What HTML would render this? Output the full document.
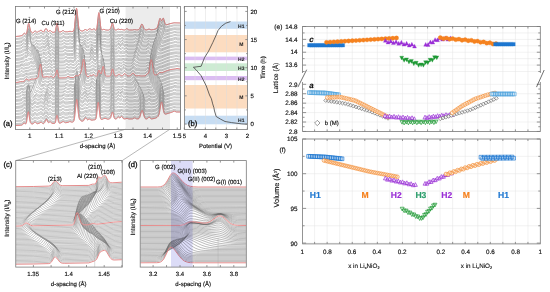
<!DOCTYPE html>
<html><head><meta charset="utf-8"><style>
html,body{margin:0;padding:0;background:#fff;width:550px;height:292px;overflow:hidden}
svg{display:block;filter:blur(0.35px)}
text{font-family:"Liberation Sans", sans-serif}
</style></head><body>
<svg width="550" height="292" viewBox="0 0 550 292" font-family='"Liberation Sans", sans-serif' text-rendering="geometricPrecision"><defs><clipPath id="ca"><rect x="15.5" y="6.5" width="165" height="123"/></clipPath><clipPath id="cc"><rect x="15.75" y="160.6" width="106.45" height="106.5"/></clipPath><clipPath id="cd"><rect x="140.2" y="160.6" width="106.1" height="106.5"/></clipPath></defs><rect width="550" height="292" fill="#fff"/><g clip-path="url(#ca)" stroke-width="0.45">
<path d="M15.5,36.5l3.5-.3 3-.6 .5-.3 1.5-2.1 .5,0 1,.9 .5,.1 .5-.8 .5-1.9 1-6.3 .5-1.9 .5,.5 1.5,6.9 1,1.6 1,.7 .5-.1 .5-.4 1-1.3 .5-.3 .5,.2 1,.9 .5,.2 .5-.1 1-.7 1-.3 1.5-1.1 .5,.3 1,1.4 .5,.3 .5,0 .5-.5 1.5-2.7 .5-.4 .5,.4 1.5,2.6 .5,.1 1.5-1.1 .5,.2 1.5,1.5 1,.2 1.5-.1 .5-.4 .5-1.2 1-5.9 .5-1.6 .5,1.5 1,5.8 .5,1.3 .5,.3 1.5-.1 1.5-1.2 .5-.2 .5,.2 1,.8 1,.3 2,0 2.5-.5 1.5,.3 1.5-.2 .5-.3 .5-1.2 .5-2.5 1.5-16.3 .5-2.9 .5,1.5 1.5,16 .5,2.7 .5,1.1 .5,.5 1,.8 1,.3 1-.1 2-1.5 .5,0 1.5,.9 .5-.1 1.5-1.3 .5-.2 1,.2 1.5,1.1 .5-.2 1-1.1 .5-.1 1.5,1.4 .5,.1 .5-.7 .5-2 1.5-13.7 .5-1.3 .5,2.9 1,10 .5,3 .5,1.3 .5,.3 1.5-.6 .5-.1 1.5,.6 1.5,.2 1.5,0 1-.4 1-1.3 .5-1.2 1-3.6 .5-.7 .5,1.1 1,4.3 .5,1.1 .5,.5 .5,.1 1-.1 1.5-.8 .5,0 1.5,.6 1.5-.3 2,.5 1,.1 1-.4 1-.8 .5-.1 1.5,1.1 1,.2 3,0 2-.4 2,.3 1.5,0 1-.4 .5-.6 2-4.6 .5-.3 .5,.6 1.5,3.8 1,1.3 1,.3 1-.1 2-.9 2,.9 2.5-.3 2.5-.7 1-1 1-2.5 1.5-6.1 .5-1 .5,.5 1,2.1 .5-.3 1-2.4 .5,.1 1.5,5.1 .5,1 .5,.4 1-.1 3-1 4-.9 6.5,.2V300H15.5z" fill="#fff" stroke="#858585"/>
<path d="M15.5,38.5l3-.2 3-.5 1-.6 1.5-1.9 .5,0 1,.8 .5,.1 .5-.8 .5-1.9 1-6.3 .5-1.9 .5,.5 1.5,6.8 1,1.6 1,.8 .5,0 .5-.4 1.5-1.7 .5,.1 1.5,1.1 .5-.1 1-.7 1-.2 1.5-1.1 .5,.2 1,1.4 .5,.4 .5-.1 .5-.4 1.5-2.3 .5-.4 .5,.2 1.5,2.5 .5,.1 1.5-1.2 .5,.1 1.5,1.5 .5,.2 2,0 .5-.4 .5-1.2 1-6 .5-1.6 .5,1.5 1,5.9 .5,1.2 .5,.4 1.5-.1 2-1.4 .5,.1 1.5,1 1,.3 2-.2 2-.6 1.5,.4 1.5-.1 .5-.4 .5-1.1 .5-2.6 1.5-16.5 .5-2.8 .5,1.6 1.5,16.1 .5,2.7 .5,1.3 .5,.5 1.5,.8 1.5-.1 2-1.2 .5,0 1.5,.8 .5-.1 1.5-1.3 1-.4 2,1.3 .5-.2 1-1 .5,0 1.5,1.4 .5,0 .5-.7 .5-2 1.5-13.7 .5-1.3 .5,2.9 1,10 .5,3 .5,1.3 .5,.3 1.5-.5 4,.6 1,0 1-.4 1-1.4 1.5-4.8 .5-.7 .5,1.2 1,4.3 .5,1.1 .5,.5 .5,.1 1-.1 2-.6 1.5,.5 1.5-.3 2,.4 1,.1 1-.4 1-.6 .5-.1 2,1 3.5,.1 2.5-.6 1.5,.5 1.5,0 1-.4 .5-.6 2-4.6 .5-.3 .5,.7 1.5,3.7 1,1.3 1,.3 1-.1 2-.6 2,.6 2.5-.3 2.5-.7 1-.9 1-2.5 1.5-6.3 .5-.9 .5,.5 1,2.1 .5-.4 1-2.3 .5,.2 1.5,5.1 .5,.9 .5,.4 .5,0 4-1.2 3.5-.7 6.5,.1V300H15.5z" fill="#fff" stroke="#858585"/>
<path d="M15.5,39.5l3-.2 3-.5 1-.6 1.5-1.8 .5,0 1,.8 .5,0 .5-.8 .5-1.9 1-6.3 .5-1.9 .5,.5 1.5,6.8 1,1.5 1,.9 .5,0 .5-.2 1.5-1.8 .5-.1 1.5,1 .5,0 1-.6 1-.1 .5-.3 1-.9 .5,.2 1.5,1.7 .5,0 .5-.4 2-2.3 .5,0 1.5,2.3 .5,.2 .5-.2 1-1 .5-.1 2,1.8 1,.1 1-.1 .5-.4 .5-1.2 1-6 .5-1.7 .5,1.5 1,6 .5,1.2 .5,.4 1.5,0 2-1.4 .5-.1 1.5,1.1 1,.2 2-.1 2-.7 1.5,.5 1.5-.1 .5-.4 .5-1.1 .5-2.7 1.5-16.7 .5-2.8 .5,1.6 1.5,16.3 .5,2.8 .5,1.4 .5,.6 1.5,.6 1.5-.1 2-1.1 .5,0 1.5,.7 .5,0 2-1.6 .5-.1 2,1.2 1.5-1 .5,.1 1.5,1.2 .5-.1 .5-.7 .5-2 1.5-13.7 .5-1.3 .5,2.9 1,10 .5,3 .5,1.3 .5,.3 2-.3 4,.4 1-.1 .5-.3 1-1.5 1.5-4.9 .5-.6 .5,1.2 1,4.4 .5,1.1 .5,.5 .5,.1 1,0 2-.5 1.5,.3 1.5-.4 2,.5 1,.1 2-.8 .5,0 2,.8 4-.1 2-.6 1.5,.5 1.5,.1 1-.5 .5-.6 1.5-3.7 .5-.9 .5-.1 .5,.7 1.5,3.8 1,1.1 1.5,.3 2.5-.5 2,.4 2.5-.3 2.5-.7 1-.9 1-2.5 1.5-6.6 .5-.7 .5,.7 .5,1.3 .5,.7 .5-.6 1-2.1 .5,.5 1.5,5.1 .5,.8 .5,.2 8-2 6.5,.2V300H15.5z" fill="#fff" stroke="#858585"/>
<path d="M15.5,41.5l3-.2 3-.5 1-.7 1-1.3 .5-.3 .5,.1 1,.7 .5,0 .5-.8 .5-2 1-6.3 .5-1.9 .5,.5 1.5,6.8 1,1.5 1,.9 .5,.1 .5-.2 1.5-1.8 .5-.3 1.5,1 .5,0 1-.5 1,0 .5-.2 1-.9 .5,0 1.5,1.6 .5,0 1-.6 1.5-1.7 .5-.2 .5,.4 1,1.6 .5,.4 .5-.1 1-1 .5-.2 .5,.2 1.5,1.5 1,.2 1-.1 .5-.4 .5-1.2 1-6 .5-1.7 .5,1.5 1,5.9 .5,1.3 .5,.4 1,.1 1-.3 1.5-1.1 .5-.2 .5,.2 1,.8 1,.3 2-.1 2-.9 2,.8 1-.2 .5-.4 .5-1.1 .5-2.7 1.5-17.1 .5-2.8 .5,1.8 1.5,16.4 .5,2.9 .5,1.4 .5,.6 1.5,.5 1.5,0 2-1.2 .5-.1 1.5,.9 .5,.1 .5-.3 1.5-1.4 .5-.1 2,1.2 1.5-.8 .5,.2 1,.8 .5,.2 .5-.2 .5-.7 .5-2 1.5-13.7 .5-1.3 .5,2.9 1,10 .5,3 .5,1.3 .5,.4 3-.4 3,.4 1-.1 .5-.3 1-1.5 1.5-5 .5-.6 .5,1.3 1,4.4 .5,1.1 .5,.5 .5,.1 1,0 2-.5 1.5,.3 1.5-.6 .5,0 2,.8 1-.1 1.5-.5 2.5,.6 3.5,0 1-.2 1.5-.7 2,.8 1,0 1-.6 .5-.8 1.5-3.7 .5-.7 .5,.2 2,4.5 1,1 1.5,.2 2.5-.5 2,.4 2.5-.3 2.5-.7 1-.9 1-2.8 1.5-6.6 .5-.4 1,2.2 .5,.3 1-1.9 .5-.4 .5,.9 1.5,4.9 .5,.6 .5,.1 4-1.2 4-.9 6.5,.2V300H15.5z" fill="#fff" stroke="#858585"/>
<path d="M15.5,42.5l3.5-.3 2.5-.5 .5-.3 1.5-1.7 .5-.1 1.5,.8 .5-.1 .5-.8 .5-2 1-6.4 .5-1.9 .5,.6 1.5,6.8 1,1.5 1,.9 .5,.1 .5-.2 2-2 .5,0 1,.7 .5,.1 1-.4 1,.1 .5-.2 1-.8 .5-.1 1.5,1.3 .5,.2 1.5-.8 1.5-1.7 .5,.2 1.5,2.1 .5,.1 1.5-1.3 .5,.1 1.5,1.5 1,.3 1-.1 .5-.4 .5-1.2 1-5.9 .5-1.7 .5,1.5 1,5.9 .5,1.2 .5,.4 2-.1 2-1.4 .5,.1 1,.7 1,.5 2-.1 2-1 2,.8 1-.1 .5-.4 .5-1.1 .5-2.8 1.5-17.4 .5-2.8 .5,1.9 1.5,16.6 .5,2.9 .5,1.4 .5,.6 1,.5 2,0 .5-.1 1.5-1.2 .5-.1 1.5,1.1 .5,.1 .5-.2 1.5-1.3 .5-.2 2,1.1 1.5-.5 1.5,.8 .5,.1 .5-.1 .5-.8 .5-2 1.5-13.7 .5-1.3 .5,2.9 1,10 .5,3 .5,1.3 .5,.4 3-.5 2.5,.5 1.5-.1 .5-.2 1-1.6 1.5-5.1 .5-.5 .5,1.3 1,4.4 .5,1.1 .5,.5 .5,.1 1,0 2-.6 1.5,.3 1.5-.7 .5-.1 1.5,.9 1,.2 2-.5 2.5,.5 4-.1 2-1 .5,.1 1.5,.8 1,0 1-.7 2-4.5 .5-.5 .5,.4 2,4.6 1,.7 2,.1 2-.4 2,.4 2.5-.3 2.5-.7 1-.9 .5-1.3 1.5-7.1 .5-1.4 .5,.1 1,2.2 .5,0 1-1.9 .5,.3 1.5,4.8 .5,.9 .5,.4 1-.1 3.5-1.2 4.5-1.1 2,.4 4,0V300H15.5z" fill="#fff" stroke="#858585"/>
<path d="M15.5,43.5l3-.2 2.5-.4 1-.6 1.5-1.6 .5,0 1.5,.8 .5-.2 .5-.9 .5-1.9 1-6.6 .5-2 .5,.5 1.5,7.3 1,1.5 1,.8 1,0 .5-.3 1.5-1.8 .5-.1 1.5,.8 1-.2 1,.1 .5-.1 1-.7 .5-.2 1.5,1 1,.2 1-.4 1.5-2 .5-.1 1.5,2.3 .5,.2 1.5-1.2 .5-.1 1.5,1.5 .5,.3 1.5,0 .5-.4 .5-1.2 1-5.8 .5-1.6 .5,1.4 1,5.8 .5,1.3 .5,.3 2-.1 2-1.4 .5,0 1.5,1.1 1,.2 1.5-.1 2-1 2,.8 1-.1 .5-.4 .5-1.1 .5-2.7 1.5-17.9 .5-2.8 .5,1.9 1.5,16.8 .5,3 .5,1.4 .5,.6 1.5,.6 1.5-.1 .5-.2 1.5-1.3 .5-.1 1.5,1.4 .5,.2 .5-.2 1.5-1.3 .5-.2 .5,.1 1.5,.9 1.5-.2 1.5,.6 1-.1 .5-.8 .5-2 1.5-13.7 .5-1.3 .5,2.9 1,10 .5,3 .5,1.3 .5,.4 3-.6 2.5,.6 1.5-.1 .5-.2 .5-.5 .5-.9 1.5-5.4 .5-.5 .5,1.3 1,4.5 .5,1.1 .5,.5 .5,.1 1-.1 2-.7 1.5,.5 .5-.2 1-.8 .5-.2 1.5,1.2 1,.3 2-.4 2.5,.4 4,0 1-.4 1-.7 .5-.1 1.5,1 1,0 1-1 2-4.4 .5-.1 .5,.6 1.5,3.7 1,1.1 1,.3 1,0 2.5-.7 2,.6 2.5-.3 2.5-.7 .5-.4 .5-.8 .5-1.5 1.5-7.4 .5-.9 1.5,2.5 .5-.4 .5-.9 .5-.2 .5,.9 1.5,4.6 .5,.6 .5,.1 9-2.6 2.5,.5 3.5,0V300H15.5z" fill="#fff" stroke="#858585"/>
<path d="M15.5,45.5l3-.2 2.5-.4 1-.7 1-1.2 .5-.3 2,.8 .5-.2 .5-.9 .5-2 1-6.9 .5-2.1 .5,.5 1.5,7.8 .5,1.1 .5,.6 1,.7 1-.1 .5-.2 1.5-1.8 .5-.2 1.5,.8 2,.1 .5-.1 1.5-.9 .5,0 1.5,1 1,0 .5-.2 .5-.6 1-1.7 .5-.3 .5,.5 1,1.9 .5,.4 .5-.1 1-1 .5-.2 2,1.7 1.5,.1 .5-.3 .5-1.2 1-5.7 .5-1.6 .5,1.4 1,5.7 .5,1.2 .5,.3 1.5,.1 1-.3 1.5-1.2 .5-.1 1.5,1 1,.3 1.5-.1 2-1.1 2,.9 1-.1 .5-.4 .5-1.1 .5-2.7 1.5-18.1 .5-3 .5,2 1,11.9 .5,5 .5,2.9 .5,1.5 .5,.7 .5,.3 1,.3 1.5-.1 .5-.3 1.5-1.6 .5,.1 1.5,1.7 .5,.2 1-.4 1.5-1.2 .5,0 1.5,.9 1.5,0 1.5,.5 1-.2 .5-.8 .5-2 1.5-13.7 .5-1.3 .5,2.9 1,10 .5,2.9 .5,1.4 .5,.3 3-.6 2,.7 1.5,0 1-.2 .5-.4 .5-1 1.5-5.5 .5-.5 .5,1.3 1,4.5 .5,1.1 .5,.5 .5,.1 1-.1 2-1 1.5,.7 .5-.1 1.5-1.3 .5,.2 1,1.1 1,.4 2-.2 2.5,.3 4,0 1-.4 1-.8 .5-.1 1.5,1 .5,.1 .5-.2 .5-.4 .5-.8 1.5-3.6 .5-.5 .5,.3 2,4.4 1,.8 2,.2 2-.9 .5,0 2,.8 2.5-.3 2-.5 1-.8 .5-1.1 .5-1.9 1-5.5 .5-1.8 .5-.2 1,2.2 .5,.2 1-1.1 .5,.5 1.5,4.7 .5,.7 .5,.2 5-1.5 3-.7 1.5-.6 2.5,.6 3.5,0V300H15.5z" fill="#fff" stroke="#858585"/>
<path d="M15.5,46.5l3-.2 2.5-.4 1-.8 1-1.1 .5-.2 1.5,.6 .5,.1 .5-.2 .5-.9 .5-2 1.5-9.4 .5,.3 1.5,8.1 .5,1.4 .5,.7 1,.6 1,0 .5-.2 2-2.1 .5,0 1,.7 2,.4 .5-.1 1.5-.9 .5-.1 1.5,.8 1,.2 .5-.2 .5-.6 1-1.8 .5-.5 .5,.3 1,2 .5,.6 .5,.1 1.5-1.3 .5,.1 1.5,1.5 .5,.2 1,0 .5-.3 .5-1.2 1-5.5 .5-1.6 .5,1.5 1,5.4 .5,1.2 .5,.3 1.5,.1 1-.2 2-1.4 .5,.1 1,.7 1,.5 1.5-.1 2-1 2,.8 1-.1 .5-.3 .5-1.2 .5-2.6 1.5-18.3 .5-3.2 .5,1.9 1,11.9 .5,5 .5,3 .5,1.5 .5,.8 .5,.4 1,.3 1,0 .5-.2 2-2.1 .5,.3 1.5,2 .5,.1 1-.3 1.5-1.3 .5,0 1.5,1 3,.4 1-.2 .5-.8 .5-2 1.5-13.7 .5-1.3 .5,2.9 1,10 .5,2.9 .5,1.3 .5,.3 3-.6 2,.8 2.5-.1 .5-.4 .5-.9 1.5-5.6 .5-.6 .5,1.3 1,4.5 .5,1.1 .5,.5 .5,.1 1.5-.3 1.5-1.1 1.5,.9 .5-.1 1.5-1.5 .5,.2 1,1.3 1,.5 2-.2 2,.3 4.5,0 1-.3 1.5-1 .5,.1 1,.8 .5,.1 .5-.3 .5-.6 1.5-3.4 .5-.9 .5-.1 .5,.7 1.5,3.5 1,1.1 1,.3 1.5-.1 2-1.1 .5,.1 1,.7 1,.3 3-.4 1.5-.4 .5-.4 .5-.8 .5-1.5 1.5-7.9 .5-1 .5,.5 .5,1.3 .5,.7 1-.6 .5,.3 1.5,4.5 .5,.8 .5,.4 1-.2 4-1.3 3.5-.9 1.5-.7 .5,0 2,.7 3.5,0V300H15.5z" fill="#fff" stroke="#858585"/>
<path d="M15.5,48.5l3-.2 2.5-.5 .5-.3 1.5-1.5 .5-.1 2,.5 .5-.2 .5-.8 .5-1.9 1.5-9.5 .5-.1 1.5,7.9 .5,1.7 .5,.9 1,.7 1.5-.2 2-2.1 .5-.1 1.5,1 1.5,.3 1-.2 1.5-.9 .5,0 1.5,.9 .5,0 .5-.2 .5-.6 1.5-2.5 .5,.1 1.5,2.9 .5,.2 1.5-1.3 .5,0 1.5,1.5 .5,.3 1,0 .5-.3 .5-1.1 1-5.4 .5-1.5 .5,1.4 1,5.3 .5,1.1 .5,.3 2.5-.1 2-1.4 .5,0 1.5,1.1 1,.2 1.5-.2 1.5-.9 .5,.1 1.5,.7 1-.1 .5-.3 .5-1.1 .5-2.7 1.5-18.5 .5-3.4 .5,1.7 1.5,17 .5,3.1 .5,1.7 .5,.9 .5,.4 1,.3 1,0 .5-.3 1.5-2 .5-.2 .5,.5 1,1.6 .5,.5 .5,.2 1-.3 1.5-1.3 .5-.1 2,1 2.5,.4 1-.2 .5-.8 .5-2 1.5-13.7 .5-1.3 .5,2.9 1,9.9 .5,3 .5,1.2 .5,.3 2.5-.5 2.5,.8 2,0 1-.4 .5-.8 .5-1.4 1-4.3 .5-.7 .5,1.3 1,4.5 .5,1.1 .5,.5 .5,.1 1-.1 .5-.3 1.5-1.3 .5,.2 1,.9 .5,0 1.5-1.7 .5,0 1,1.5 .5,.5 .5,.2 2-.3 2,.4 4.5,0 1-.2 1.5-1.1 .5,.1 1,.6 .5,.1 .5-.4 .5-.8 1.5-3.4 .5-.4 .5,.3 2,4.3 1,.7 2.5,.1 .5-.2 1.5-1.2 .5,.1 1,.9 1,.4 3-.4 1.5-.5 .5-.6 .5-1.2 1.5-7.9 .5-1.9 .5-.1 1,2.2 .5,.3 .5-.1 .5,.2 1.5,4.3 .5,.9 .5,.4 1-.1 4-1.4 4-1 2-.8 2,.7 3.5,.1V300H15.5z" fill="#fff" stroke="#858585"/>
<path d="M15.5,49.5l5-.5 1-.5 1.5-1.4 3,0 .5-.7 .5-1.7 1.5-9.1 .5-.4 .5,1.5 1.5,7 .5,1.3 .5,.8 .5,.3 1,0 1-.4 1.5-1.8 .5-.2 2,1.2 1,.3 1-.2 1.5-1 .5-.1 1.5,.8 .5,0 1-.7 1.5-2.6 .5-.1 1.5,3.1 .5,.3 .5-.2 1-1 .5-.1 2,1.7 1,.1 .5-.3 .5-1.1 1-5.2 .5-1.5 .5,1.4 1,5.2 .5,1 .5,.4 2.5-.1 1-.6 1-.8 .5-.2 1.5,1.1 1,.3 1.5-.2 1.5-.7 .5,0 1.5,.6 1-.1 .5-.3 .5-1.1 .5-2.6 1.5-18.9 .5-3.7 .5,1.5 1.5,17.2 .5,3.3 .5,1.9 .5,.9 .5,.5 1,.3 1-.1 .5-.4 1.5-2.1 .5,0 1.5,2.4 .5,.5 .5,.1 1-.2 2-1.6 2,1 1.5,.4 1,.1 1-.2 .5-.8 .5-2 1.5-13.7 .5-1.3 .5,2.9 1,9.9 .5,2.9 .5,1.2 .5,.2 2.5-.4 1.5,.7 1,.2 2,0 1-.3 .5-.7 .5-1.4 1-4.3 .5-.8 .5,1.2 1,4.5 .5,1.1 .5,.5 .5,.1 1-.1 .5-.3 1.5-1.7 .5,.3 1,1.1 .5,.1 .5-.4 1-1.4 .5-.1 1.5,2.1 .5,.2 2-.4 2,.6 4.5,0 1-.2 1.5-.9 .5-.1 1,.5 .5-.1 .5-.6 1.5-3.3 .5-.7 .5,.1 2,4.2 1,.9 1.5,.2 1.5-.1 .5-.3 1.5-1.4 .5,.1 1.5,1.5 1,.1 2.5-.4 1-.3 .5-.5 .5-.9 .5-1.7 1.5-8.5 .5-.9 1.5,2.9 1,.6 1.5,4.1 .5,1 .5,.4 1-.1 4.5-1.6 4-.9 2-1 2,.8 3.5,.1V300H15.5z" fill="#fff" stroke="#858585"/>
<path d="M15.5,51.5l5-.5 1-.5 1.5-1.2 2-.4 1,.1 .5-.6 .5-1.5 1.5-8.1 .5-.6 .5,.9 2.5,8.1 .5,.7 .5,.2 1-.1 .5-.2 2-2.1 .5,.1 1.5,1.1 1,.3 1-.1 2-1.2 2,.7 1-.7 1.5-2.5 .5-.2 .5,.7 1,2.3 .5,.5 .5,0 1.5-1.3 .5,.1 1.5,1.5 1,.2 .5-.3 .5-1 1-5.2 .5-1.4 .5,1.3 1,5.1 .5,1.1 .5,.3 2-.1 1-.2 2-1.4 .5,.2 1,.7 1,.5 1.5-.1 1.5-.7 2,.5 1-.1 .5-.3 .5-1.1 .5-2.6 1.5-19 .5-4 .5,1 1.5,17.3 .5,3.7 .5,2 .5,1.1 1,.7 1,0 .5-.1 1.5-2.1 .5-.5 .5,.3 1.5,2.5 .5,.4 .5,.1 1-.1 2-1.7 .5-.1 3,1.5 1,.1 1-.2 .5-.8 .5-2 1.5-13.7 .5-1.3 .5,2.9 1,9.9 .5,2.9 .5,1.1 .5,.1 1-.3 1.5,.2 2,.8 3,0 .5-.3 .5-.6 .5-1.3 1-4.4 .5-.8 .5,1.2 1,4.4 .5,1.1 .5,.5 .5,.1 1-.1 .5-.4 1.5-1.8 .5,.2 1,1.3 .5,.2 .5-.3 1-1.5 .5-.1 1.5,2 .5,.3 2-.6 2,.7 5.5,0 1.5-.8 .5-.2 1,.1 .5-.3 2-3.8 .5-.2 .5,.6 1.5,3.4 .5,.6 1,.6 2,.1 1-.2 2-1.9 .5,.3 1,1.2 .5,.4 1,.1 2.5-.4 1-.5 .5-.8 .5-1.4 1.5-8.7 .5-1.6 .5,.1 1,2.4 1,1.4 1.5,4.1 .5,1 .5,.4 1-.1 5-1.8 4-.9 2-1 2,.8 3.5,.1V300H15.5z" fill="#fff" stroke="#858585"/>
<path d="M15.5,52.5l5-.5 1-.5 1-.7 2-.9 .5-.2 1,.1 .5-.4 .5-1.3 1.5-7.1 .5-.3 2,2.6 1.5,4.7 .5,.8 .5,.2 1-.2 .5-.3 1.5-1.8 .5,0 1.5,1.2 1,.3 1.5-.2 1.5-1.1 .5-.1 1.5,.6 .5-.2 1-.9 1-1.8 .5-.4 .5,.5 1,2.4 .5,.6 .5,.1 1.5-1.3 .5,0 1.5,1.5 1,.3 .5-.3 .5-1 1-5.1 .5-1.5 .5,1.4 1,5.1 .5,1 .5,.3 3-.2 2-1.4 .5,0 2,1.2 1.5,0 1.5-.5 2,.3 1-.1 .5-.3 .5-1.1 .5-2.5 2-23.1 .5,.5 2,20.9 .5,2.4 .5,1.2 .5,.4 .5,.2 1,.1 .5-.3 1.5-2.2 .5-.2 .5,.5 1,1.9 .5,.7 .5,.3 1,0 1-.3 1.5-1.6 .5-.2 .5,.1 2.5,1.6 1,.1 1-.2 .5-.8 .5-2 1.5-13.7 .5-1.3 .5,2.9 1,9.9 .5,2.8 .5,1 1.5-.1 3.5,1.1 3,0 .5-.2 .5-.6 .5-1.3 1-4.3 .5-.9 .5,1.1 1,4.4 .5,1.1 .5,.5 .5,.1 1-.1 .5-.4 1.5-2 .5,.3 1,1.4 .5,.3 .5-.3 1-1.4 .5-.3 1.5,1.9 .5,.3 2-.7 2,.9 5.5,0 3-1.2 .5-.6 1.5-3 .5-.3 .5,.4 2,4 1,.7 2.5,.1 1-.2 .5-.4 1-1.4 .5-.3 2,2.1 1,.1 2-.3 1-.4 .5-.6 .5-1.3 1.5-8.5 .5-2.3 .5-.5 2,4.5 1.5,4.3 .5,.9 .5,.4 1,0 6-2.2 4-1 1.5-.7 .5,0 2,.8 3,0V300H15.5z" fill="#fff" stroke="#858585"/>
<path d="M15.5,53.5l5-.5 3-1.4 1.5-1.2 1,.2 .5-.2 .5-1.1 1-4.6 .5-1.5 .5,.1 .5,.9 .5,.4 1-1.4 .5,.3 1.5,5.2 .5,.9 .5,.3 1-.3 1.5-1.8 .5-.2 .5,.2 1,.9 1,.5 1.5-.2 2-1.3 1.5,.4 .5,0 1-.6 1.5-2.3 .5,.3 1.5,3 .5,.3 .5-.3 1-1 .5-.1 1.5,1.4 1,.4 .5-.3 .5-1 1-5.1 .5-1.5 .5,1.4 1,5 .5,1.1 .5,.3 3-.2 1-.5 1-.9 .5-.1 1.5,1.1 1,.3 1-.1 1.5-.4 2,.2 1-.1 .5-.3 .5-1 .5-2.3 2-22.6 .5-.3 2,20.2 .5,2.7 .5,1.3 .5,.6 .5,.2 1,0 .5-.3 1.5-2.1 .5,0 1.5,2.6 1,.7 1,0 1-.2 2-2.2 .5-.1 .5,.2 2,1.8 1,.2 1-.2 .5-.8 .5-2 1.5-13.7 .5-1.3 .5,2.9 1,9.8 .5,2.8 .5,.9 1.5,.1 3.5,1.2 3-.1 .5-.2 .5-.5 .5-1.3 1-4.4 .5-.9 .5,1.1 1,4.4 .5,1.1 .5,.5 .5,.1 1-.1 .5-.4 1.5-2 .5,.2 1,1.5 .5,.3 .5-.1 1-1.4 .5-.3 .5,.3 1,1.4 .5,.2 .5-.1 1-.7 .5,0 2,1.1 6,0 1.5-.8 1-.9 1.5-2.8 .5-.4 .5,.2 2,3.9 1,.7 2.5,.2 1.5-.2 1.5-1.9 .5-.2 1.5,1.8 .5,.3 1,.1 2-.3 1-.7 .5-1.1 .5-2.1 1.5-8.9 .5-1 .5,.4 .5,1.2 2.5,7.8 .5,.8 .5,.4 1-.1 6.5-2.4 4-.9 1.5-.8 .5,0 2,.8 3,0V300H15.5z" fill="#fff" stroke="#858585"/>
<path d="M15.5,55.5l5-.5 3-1.2 1.5-1.5 .5-.1 .5,.3 .5-.1 .5-.9 1-3.9 .5-1.3 .5,.3 1,1.9 .5-.6 1-3.4 .5-.1 1.5,5.9 .5,1.1 .5,.3 .5-.1 .5-.4 1.5-1.7 .5,.1 1.5,1.3 1,.2 1.5-.3 1.5-1.3 .5,0 1,.4 1,0 .5-.2 .5-.6 1-1.6 .5,.1 1.5,2.8 .5,.4 .5-.2 1-1 .5-.3 .5,.2 1.5,1.5 .5,.1 .5-.2 .5-1 1-5.2 .5-1.5 .5,1.4 1,5.1 .5,1.1 .5,.3 3-.1 1-.5 1.5-1.1 .5,.2 1.5,1 .5,.1 3-.3 1.5,.2 1-.1 .5-.4 .5-.9 .5-2.2 2-21.2 .5-1 .5,2.9 1.5,15.2 .5,3.1 .5,1.7 .5,.8 .5,.2 1,0 .5-.4 1-1.5 .5-.3 .5,.3 1.5,2.5 1,.5 1,.1 1-.3 1-1 1-1.5 .5-.3 .5,.1 1.5,2 1,.6 1,0 .5-.2 .5-.8 .5-2 .5-3.8 1-9.9 .5-1.3 .5,2.9 1,9.8 .5,2.7 .5,.9 1,0 1.5,.7 2,.6 3.5,0 .5-.2 .5-.5 .5-1.3 1-4.4 .5-.9 .5,1.1 1,4.4 .5,1.1 .5,.5 .5,.1 1-.1 .5-.3 1.5-2 .5,.2 1,1.4 .5,.4 .5-.1 1.5-1.5 .5,.2 1,1.2 .5,.2 .5-.2 1-.7 .5,0 1.5,1.1 .5,.1 6,0 1-.5 .5-.4 2-3.4 .5-.5 .5,.1 2,3.8 1,.8 1.5,.2 2.5-.1 1-.6 1-1.4 .5-.2 1.5,1.9 .5,.3 1,0 1.5-.2 1-.6 .5-1 .5-1.8 1.5-9.3 .5-1.3 .5,.2 1,2.6 2,6.9 .5,.9 .5,.3 1-.1 6.5-2.5 4.5-1 1.5-.6 .5-.1 2,.7 3,0V300H15.5z" fill="#fff" stroke="#858585"/>
<path d="M15.5,56.5l5-.5 3-1.1 1.5-1.7 .5-.1 1,.3 .5-.7 1-3.3 .5-1 .5,.2 1,2.3 .5-.1 1.5-6.1 .5-.4 .5,1.5 1,4.9 .5,1.3 .5,.5 .5-.2 1.5-1.8 .5-.1 1.5,1.2 1,.3 1.5-.1 1.5-1.4 .5-.1 1.5,.6 1,0 .5-.5 1-1.5 .5-.2 .5,.6 1,1.9 .5,.5 .5,0 1.5-1.3 .5,0 1.5,1.5 .5,.2 .5-.2 .5-1.1 1-5.3 .5-1.4 .5,1.3 1,5.3 .5,1 .5,.3 3.5-.1 2-1.5 .5,.1 1.5,1 .5,.2 3-.2 2.5,0 .5-.3 .5-.9 .5-2 2-19.3 .5-1.4 .5,1.8 1.5,12.9 1,5.6 .5,1.1 .5,.5 .5,.1 .5-.1 1.5-1.7 .5-.1 2,2.7 1,.4 1.5,0 1-.4 2-3.2 .5,.1 1.5,2.5 .5,.5 .5,.2 1,0 .5-.2 .5-.8 .5-2 .5-3.9 1-10 .5-1.3 .5,2.8 1,9.9 .5,2.7 .5,.9 1,.2 1.5,.9 1.5,.4 4,0 .5-.2 .5-.5 .5-1.3 1-4.4 .5-1 .5,1.1 1,4.5 .5,1.1 .5,.5 .5,.1 1-.1 .5-.3 1.5-1.8 .5,.1 1.5,1.7 .5,0 1.5-1.2 .5,.1 1,.9 .5,.1 1.5-1 .5,.1 1,.9 1,.4 6,0 1-.6 .5-.7 1.5-2.8 .5-.5 .5,0 .5,.6 1.5,3 1,.9 1.5,.2 3-.1 1-.6 1-1.3 .5-.1 1.5,1.7 .5,.3 2-.1 1-.5 .5-.9 .5-1.6 1.5-9.6 .5-1.7 .5,.1 .5,1.3 2.5,8.6 .5,1 .5,.3 1-.1 7-2.7 4.5-1 1.5-.5 .5-.1 2,.6 3,0V300H15.5z" fill="#fff" stroke="#858585"/>
<path d="M15.5,58.5l5-.5 3-1 1.5-1.8 .5-.2 1,.4 .5-.5 1.5-3.5 .5,.2 1,2 .5,.3 .5-.7 1.5-7 .5-1 .5,1.4 1,5.3 .5,1.7 .5,.5 .5-.3 1-1.2 .5-.4 .5,.2 1.5,1.3 1.5,.2 .5-.1 .5-.3 1-1.2 .5-.2 2.5,1 .5-.3 1-1.5 .5-.3 .5,.3 1.5,2.3 .5,.2 1.5-1.3 .5-.1 1.5,1.4 .5,.2 .5-.2 .5-1 1-5.4 .5-1.6 .5,1.4 1,5.4 .5,1.1 .5,.3 3.5-.1 .5-.2 1.5-1.2 .5-.1 1.5,1.1 1,.2 2.5-.2 2.5,0 .5-.3 .5-.8 .5-1.7 2-17.1 .5-1.4 .5,.9 .5,2.5 1.5,10.1 1,4.4 .5,.9 .5,.4 .5-.1 1.5-1.4 .5,0 1.5,2.2 .5,.5 1,.3 1.5-.1 1-.4 .5-.5 1.5-3.1 .5-.1 1.5,3 .5,.6 .5,.2 1,0 .5-.2 .5-.8 .5-2.1 .5-3.9 1-10.3 .5-1.5 .5,2.9 1,10.2 .5,2.8 .5,.9 2.5,1.3 1.5,.3 4,0 .5-.2 .5-.5 .5-1.3 1-4.6 .5-.9 .5,1.1 1,4.5 .5,1.2 .5,.5 .5,.1 1-.1 .5-.2 1.5-1.6 .5,.1 1.5,1.5 .5,0 1.5-.9 .5,0 1,.6 .5,.1 1.5-1 .5,0 1,1 1,.4 5.5,0 1-.4 .5-.5 1.5-3 .5-.6 .5-.1 .5,.6 1.5,2.9 .5,.6 1,.5 4.5,0 1-.6 1-1.1 .5,0 1.5,1.5 .5,.2 2-.2 .5-.3 .5-.7 .5-1.5 1.5-9.8 .5-2.1 .5-.1 2.5,8.8 1,2.4 .5,.5 1,0 8-3 5.5-1.3 1,0 1.5,.4 3,0V300H15.5z" fill="#fff" stroke="#858585"/>
<path d="M15.5,59.5l4.5-.4 3.5-1.1 1.5-1.7 .5-.3 1,.5 .5-.3 1.5-2.8 .5,.1 1,1.5 .5,.3 .5-.2 .5-.7 .5-1.7 1-5.7 .5-1.6 .5,.9 1,5.7 .5,1.9 .5,.6 .5-.3 1-1.1 .5-.1 1.5,1.4 1.5,.4 .5,0 .5-.3 1-1.3 .5-.2 2.5,1.4 .5-.2 1.5-1.9 .5,.1 1.5,2.1 .5,.3 .5-.2 1-1 .5-.3 .5,.3 1.5,1.3 .5-.1 .5-1.1 1-5.5 .5-1.6 .5,1.4 1,5.5 .5,1.2 .5,.3 3.5-.1 1-.4 1-.9 .5-.2 .5,.2 1,.8 1,.3 2.5-.3 2.5,.1 .5-.3 .5-.6 .5-1.6 2-14.7 .5-1.2 .5,.7 1,3 2,9.6 .5,1.6 .5,.9 .5,.2 1.5-1.1 .5,.3 1,1.4 1,.9 1,.3 2-.2 .5-.2 .5-.5 1.5-3.6 .5-.1 1.5,3.4 .5,.6 .5,.2 1,0 .5-.2 .5-.8 .5-2.1 1.5-14.8 .5-1.6 .5,2.8 1,10.5 .5,3 .5,1.2 2,1.3 1.5,.3 4,0 1-.2 .5-.5 .5-1.4 1-4.6 .5-1 .5,1.2 1,4.6 .5,1.2 .5,.5 .5,.1 1.5-.3 1.5-1.3 .5,.1 1,.9 1,.4 1.5-.7 .5,0 1.5,.4 1.5-1 .5,.1 1,.9 1,.5 5.5-.1 1-.7 2-3.7 .5-.2 .5,.5 1.5,2.9 .5,.6 1,.6 5,0 .5-.2 1.5-1.3 .5,.1 1.5,1.3 1,.2 1-.2 .5-.2 .5-.7 .5-1.4 1.5-9.8 .5-2.5 .5-.4 .5,1.6 1.5,6.8 .5,1.3 1,1.7 1,.8 1-.1 6-2.4 4-1.1 4-.7 2,.3 3,0V300H15.5z" fill="#fff" stroke="#858585"/>
<path d="M15.5,60.5l4-.3 2.5-.9 1.5-.2 .5-.4 1-1.3 .5-.2 1,.4 .5-.2 1.5-2.1 .5,.1 1,.9 .5,.1 1-.3 .5-.4 .5-1.5 1.5-8.3 .5,.3 1.5,7.9 .5,.7 1-.9 .5-.2 1.5,1.5 2,.6 .5-.3 1-1.3 .5-.2 .5,.1 2,1.5 .5-.1 1.5-1.8 .5-.2 .5,.3 1,1.5 .5,.4 .5,0 1.5-1.3 .5,0 1.5,1.4 .5-.1 .5-1 1-5.7 .5-1.7 .5,1.4 1,5.7 .5,1.2 .5,.4 2.5,0 1.5-.2 2-1.4 .5,.1 1.5,1 .5,.2 2.5-.3 2.5,.1 .5-.2 .5-.6 .5-1.4 2-12.4 .5-.8 1,1.6 .5,.3 .5,.1 .5,.8 1.5,7.4 .5,1.6 .5,.7 1.5-.3 .5,.3 1,1.3 1,.8 1,.1 2,0 .5-.2 .5-.6 1.5-3.8 .5-.2 1.5,3.7 .5,.6 .5,.2 1,0 .5-.2 .5-.8 .5-2 1.5-15 .5-2 .5,2.6 1,10.6 .5,3.3 .5,1.4 .5,.6 1.5,.9 1,.2 4.5,0 1-.2 .5-.5 .5-1.4 1-4.8 .5-1 .5,1.2 1,4.8 .5,1.2 .5,.5 .5,.1 1.5-.2 1.5-1 .5,0 1,.7 1,.4 2-.6 1.5,.2 1.5-.9 .5,.1 1,.9 1,.4 5-.1 1-.6 2-3.6 .5-.4 .5,.4 2,3.6 1,.6 5.5,0 2-1.2 .5,.1 1.5,1 1.5,.1 .5-.2 .5-.6 .5-1.2 .5-2.4 1.5-10.4 .5-.7 .5,1.5 1.5,8.1 .5,1.4 .5,.6 1.5,.9 .5,.2 1-.2 6.5-2.6 4-1 3.5-.5 5,.2V300H15.5z" fill="#fff" stroke="#858585"/>
<path d="M15.5,62.5l4-.4 2.5-.9 1.5-.1 2-1.7 1.5,.3 1.5-1.5 .5,0 1,.3 1-.3 1,.2 .5-.3 .5-1.3 1.5-9.1 .5-.4 1.5,7.6 .5,.8 1-.3 1.5,1.5 1.5,.8 .5,0 .5-.2 1-1.2 .5-.2 1,.4 1.5,1.3 .5,0 2-2.1 .5,.1 1.5,1.8 .5,.2 1.5-1.4 .5,0 1.5,1.3 .5,0 .5-1.1 1-5.8 .5-1.7 .5,1.4 1,5.8 .5,1.3 .5,.4 4-.1 2-1.4 .5-.1 2,1.2 1,0 1.5-.4 2.5,.3 .5-.2 .5-.5 .5-1.1 2-10.4 .5-.5 1,1.8 .5-.3 1-2.5 .5,.5 1.5,7.9 .5,1.5 .5,.6 1,.1 1.5,1.6 1,.7 1,.1 2,0 .5-.2 .5-.5 1.5-3.8 .5-.3 1.5,3.7 .5,.6 .5,.2 1,0 .5-.2 .5-.7 .5-2 1.5-14.5 .5-2.3 .5,2 1.5,13.5 .5,1.9 .5,.8 1,.8 1,.2 2.5,.2 2.5-.1 1-.2 .5-.5 .5-1.5 1-4.9 .5-1.1 .5,1.3 1,4.9 .5,1.3 .5,.5 .5,.1 1.5-.1 1.5-.8 .5,0 1.5,.8 .5,0 2-.5 1.5,.2 1.5-.9 .5,.2 1,.8 1,.3 4.5-.1 1-.5 .5-.5 1.5-2.9 .5-.6 .5,.1 2,3.7 1,.7 1.5,.1 4.5-.1 2-.9 2,.9 1,0 .5-.1 .5-.5 .5-1.1 .5-2.2 1.5-10.8 .5-1.2 .5,1.4 1.5,9.1 .5,1.6 .5,.7 1-.1 2,.3 7-2.7 4-1 3.5-.5 5,.2V300H15.5z" fill="#fff" stroke="#858585"/>
<path d="M15.5,63.5l4-.4 2.5-1.1 1.5,.1 .5-.2 1.5-1.3 1.5,.3 1.5-.9 1.5-.3 1-.6 .5,.1 1,.5 .5-.3 .5-1.2 .5-2.5 1-6.8 .5-1.1 .5,1.5 1,5.2 .5,1 1,.9 1,1.3 1.5,1 .5,0 1.5-1.2 .5-.2 .5,0 2,1.6 .5,0 .5-.2 1.5-1.8 .5-.1 1.5,1.7 .5,.3 .5-.2 1-1.1 .5-.2 .5,.3 1,1 .5,0 .5-1 1-5.9 .5-1.7 .5,1.4 1,5.9 .5,1.3 .5,.4 4-.1 .5-.2 1.5-1.1 .5-.2 .5,.2 1,.8 1,.3 2-.6 2,.4 1-.1 .5-.4 .5-1 2-8.5 .5-.4 1,2 .5-.2 1.5-6 .5,.6 1.5,8.6 .5,1.4 2.5,2.5 .5,.4 1,.4 2,0 1-.2 .5-.4 .5-1 1-2.7 .5-.3 1.5,3.4 .5,.7 .5,.2 1,0 .5-.2 .5-.7 .5-1.7 1.5-13.4 .5-2.5 .5,1.1 1.5,12.2 .5,2.3 .5,1.3 .5,.6 .5,.3 1.5,.3 4.5,0 1-.2 .5-.5 .5-1.5 1-5.1 .5-1.1 .5,1.3 1,5 .5,1.4 .5,.5 .5,.1 1.5-.1 1.5-.6 2.5,.6 2-.4 1.5,.1 1.5-.7 2,1 4.5,0 1-.4 .5-.5 1.5-2.7 .5-.6 .5-.2 .5,.5 1.5,3 1,.8 1,.2 5,0 1-.2 1.5-.5 2,.6 1-.1 .5-.3 .5-1 .5-2 1.5-11.1 .5-1.6 .5,1.1 1.5,9.8 .5,1.9 .5,.8 .5,.1 1-.6 2,.1 6.5-2.5 4-1.1 4-.6 5,.2V300H15.5z" fill="#fff" stroke="#858585"/>
<path d="M15.5,65.5l4-.4 2.5-1.4 1.5,.5 .5-.2 1.5-1.1 1.5,.2 2.5-.8 1.5-1.2 .5,0 1,.7 .5,.2 .5-.4 .5-1.1 .5-2.3 1-6.9 .5-1.8 .5,.7 1,4.8 1,2.8 1,1.7 1.5,1.2 .5,0 1.5-1 1-.3 .5,.2 1.5,1.3 .5,.1 .5-.2 1.5-1.7 .5-.3 .5,.2 1,1.3 .5,.4 .5,0 1.5-1.4 .5,.1 1,1 .5,.1 .5-1 1-5.8 .5-1.8 .5,1.4 1,5.9 .5,1.4 .5,.4 4-.1 1-.4 1.5-1.1 .5,.1 1,.7 1,.4 2-.6 2,.5 1-.1 .5-.3 .5-.7 2-6.8 .5-.4 1,1.7 .5,.2 .5-1.5 1-6.2 .5-1.5 .5,1 1.5,9.1 .5,1.4 2,2.5 .5,.5 1,.4 2,0 1-.2 .5-.4 .5-.8 1-2.5 .5-.3 .5,.7 1,2.3 .5,.6 .5,.3 1,0 .5-.2 .5-.6 .5-1.5 1.5-11.8 .5-2.5 .5,.4 1.5,9.6 1,4.4 .5,1 .5,.4 2,.5 4.5-.1 .5-.2 .5-.5 .5-1.4 1-5.2 .5-1.3 .5,1.3 1,5.1 .5,1.4 .5,.5 .5,.2 1.5-.1 2-.4 2,.4 2-.5 1.5,.2 1.5-.5 2,.8 4.5-.1 1-.6 2-3.2 .5-.3 .5,.3 .5,.6 1.5,2.7 1,.6 6,.1 2.5-.5 1.5,.4 1,0 .5-.3 .5-.8 .5-1.8 1.5-11.3 .5-2.1 .5,.8 1.5,10.3 .5,2.1 .5,1 .5,.2 1.5-.9 2.5-.2 5.5-2.2 4-1.2 5-.7 4.5,.2V300H15.5z" fill="#fff" stroke="#858585"/>
<path d="M15.5,66.5l4-.4 .5-.2 1.5-1.2 .5-.1 1.5,.6 .5-.1 1.5-.9 1.5,.1 1-.1 1.5-.6 1.5-1.5 .5,0 1.5,1 .5-.1 .5-.3 .5-1 .5-2 1.5-9.6 .5,0 2,8.9 1,1.9 1,.8 .5,.1 .5-.2 2-1 .5,0 1.5,1.3 .5,.2 1-.6 1.5-1.6 .5,0 1.5,1.8 .5,0 1.5-1.3 .5,0 1,.9 .5,.1 .5-.9 1-5.8 .5-1.8 .5,1.4 1,5.9 .5,1.4 .5,.4 1.5,.1 3-.3 2-1.4 .5,0 1.5,1 .5,.2 .5-.1 1.5-.7 2,.7 1-.1 1-.7 .5-1 1.5-4.2 .5-.5 .5,.3 1,1.2 .5-.8 1.5-9.3 .5-1.2 .5,1.5 1.5,9.2 .5,1.5 1,1.7 1,1.2 1.5,.5 2,0 1-.5 1.5-2.8 .5-.4 .5,.5 1.5,2.6 .5,.2 1,.1 .5-.1 .5-.6 .5-1.3 .5-2.7 1-7.5 .5-2.1 .5,.1 .5,1.4 2,9.5 .5,1.5 .5,.7 .5,.3 1.5,.5 4.5-.1 .5-.2 .5-.5 .5-1.4 1-5.2 .5-1.3 .5,1.1 1,5.2 .5,1.5 .5,.5 .5,.2 1.5-.1 2-.4 2,.4 2-.7 .5,0 1,.3 1.5-.2 2,.7 4-.1 1-.6 2-3 .5-.3 .5,.2 .5,.4 2,2.8 1,.5 6,.1 2.5-.5 2,.4 .5-.2 .5-.6 .5-1.6 2-13.8 .5,.2 1.5,10.5 .5,2.4 .5,1.2 .5,.3 .5,0 1.5-1 2.5-.4 5.5-2.2 4-1.2 5-.8 2,.3 2.5,0V300H15.5z" fill="#fff" stroke="#858585"/>
<path d="M15.5,67.5l4-.4 2-1.7 .5,0 1.5,.8 .5,0 2-.9 1.5,.1 1-.2 1-.5 1.5-1.5 .5,0 1.5,.9 1-.1 .5-.3 .5-.9 .5-1.9 1.5-10.3 .5-.7 .5,2 1,6.4 .5,2.2 .5,1.2 1,1 1,0 2.5-1 1.5,1.1 .5,.2 1-.4 1.5-1.6 .5-.2 1.5,1.7 .5,.3 .5-.3 1-1 .5-.2 1.5,1 .5-.9 1-5.6 .5-1.8 .5,1.4 1,5.9 .5,1.3 .5,.4 4.5-.1 1-.5 1-.9 .5-.1 2,1.1 .5,0 1.5-.8 .5,.1 1.5,.7 1.5-.2 1-1 1.5-3.1 .5-.7 .5-.2 1,.9 .5-.2 .5-1.5 1.5-10 .5-.7 .5,1.9 1,6.7 1,4.1 1,2.1 .5,.6 .5,.3 1,.3 2.5-.1 .5-.3 1.5-2.3 .5-.4 .5,.2 1,1.6 1,.9 1,.1 .5-.1 .5-.5 .5-1.1 1.5-8.6 .5-1.6 .5,0 1,1.3 .5,1 1.5,6.5 .5,1.4 1,1 1,.3 4.5,0 .5-.2 .5-.5 .5-1.4 1-5.2 .5-1.3 .5,1.1 1,5.2 .5,1.4 .5,.6 .5,.2 1.5-.1 2-.5 2,.5 1-.3 1-.7 .5,0 1,.5 1.5,.1 1.5,.4 4,0 1-.4 .5-.5 1.5-2.4 .5-.3 .5,.1 3,3 1,.5 6,.1 2.5-.5 1.5,.4 .5-.1 .5-.5 .5-1.2 .5-2.6 1.5-11.5 .5-.5 .5,2.5 1,7.9 .5,2.7 .5,1.4 .5,.5 1-.1 1.5-.9 2-.4 6-2.4 4-1.2 5-.9 2,.4 2.5,0V300H15.5z" fill="#fff" stroke="#858585"/>
<path d="M15.5,69.5l2.5-.2 1.5-.3 2-1.7 .5,.1 1,.7 .5,.2 2.5-.9 2.5-.2 1-.4 1.5-1.5 .5,0 1.5,.8 1,0 1-.5 .5-.8 .5-1.8 1.5-11 .5-.8 2,11.8 .5,1.2 .5,.6 .5,.1 1.5-.3 1.5-.9 .5,.1 1,.9 .5,.2 .5-.1 2.5-2 .5,.3 1,1.3 .5,.3 .5-.1 1.5-1.3 .5,.1 1,.7 .5-.7 1-5.5 .5-1.7 .5,1.4 1,5.7 .5,1.3 .5,.4 4.5-.1 1-.4 1.5-1.1 .5,.1 1.5,1 .5,0 1.5-.8 .5,0 1.5,.8 1.5-.1 1-.7 2.5-3.5 .5-.1 1,.5 .5-.7 .5-2 1.5-10 .5-.3 .5,2.2 1,6.7 1,4.6 .5,1.3 .5,.7 1,.6 1,.1 1.5,0 1-.4 2-2.2 .5,.1 2,2 1,.2 .5-.1 .5-.4 .5-.9 1.5-7.2 .5-1.1 1,.6 1-.9 .5,.5 1.5,6.6 .5,1.3 .5,.7 1,.5 4.5,0 .5-.2 .5-.5 .5-1.3 1-5.1 .5-1.4 .5,1 1,5.1 .5,1.5 .5,.6 .5,.2 1.5-.1 1.5-.6 .5-.1 1.5,.6 1,0 1.5-1.1 .5-.2 1.5,1 2,.4 4,0 1-.3 .5-.4 1.5-2.3 .5-.4 .5,0 1.5,1.4 1,.5 1.5,1.3 .5,.2 6,.1 2.5-.7 1.5,.5 .5-.3 .5-1 .5-2.1 1.5-11.8 .5-1.3 .5,1.8 1.5,11.1 .5,1.7 .5,.7 1,0 2.5-1.2 1.5-.3 6-2.4 4-1.2 5-1 2.5,.5 2,0V300H15.5z" fill="#fff" stroke="#858585"/>
<path d="M15.5,70.5l3.5-.3 1-.6 1-1.1 .5-.2 1.5,.9 1,0 2-.7 1.5-.1 1.5-.3 2-1.6 .5,0 1,.5 1,.1 1.5-.2 .5-.4 .5-.8 .5-1.9 1.5-11.3 .5-.5 1.5,10.3 .5,2.2 .5,1.1 .5,.3 1.5-.1 1.5-1.1 .5,0 1.5,1 .5-.1 2.5-1.8 .5,.1 1.5,1.8 .5,0 1.5-1.3 .5-.1 1,.7 .5-.7 1-5.3 .5-1.6 .5,1.4 1,5.6 .5,1.2 .5,.4 5-.2 2-1.4 .5,0 1.5,1 .5,.1 1.5-.9 .5,0 1.5,.8 1,.1 1-.2 1-.6 .5-.6 1.5-2.3 .5-.4 1,.3 .5-.1 .5-1.1 1.5-10.1 .5-2.4 .5,.2 1.5,10.1 1,4.7 .5,1 .5,.4 1.5,.4 1.5,0 1-.3 2-1.8 .5-.1 .5,.2 1.5,1.5 .5,.2 1-.1 .5-.3 .5-.8 .5-1.6 1-4.4 .5-.8 1,1.1 .5-.8 1-2.7 .5,.8 1.5,7.2 .5,1.2 .5,.6 .5,.2 4.5,0 .5-.2 .5-.4 .5-1.3 1-5.1 .5-1.4 .5,1 1,5 .5,1.5 .5,.6 .5,.2 1.5-.1 1.5-.9 .5-.1 1.5,.9 1,0 .5-.3 1-1.1 .5-.2 2,1.4 2.5,.4 3-.1 1-.5 2-2.7 .5-.2 2,1.9 1,.1 1.5,1.1 1,.4 5.5,0 2-.9 .5,0 1,.5 .5-.1 .5-.6 .5-1.6 1.5-11.6 .5-2.4 .5,.9 1.5,11.3 .5,2.1 .5,1 .5,.2 1-.2 2.5-1.1 1.5-.4 6-2.4 3.5-1.1 4-.7 2-.5 2,.6 2,0V300H15.5z" fill="#fff" stroke="#858585"/>
<path d="M15.5,72.5l3.5-.3 1-.7 1-1 .5-.2 1.5,1 .5,0 2.5-.9 1.5,0 1.5-.3 2-1.4 .5,0 1,.3 1,.1 2-.3 .5-.4 .5-1 .5-2.1 1.5-11 .5,0 1.5,10.7 .5,2 .5,.8 .5,.2 1-.1 1.5-1.3 .5,0 1,.8 .5,.2 .5-.2 2.5-1.5 .5-.1 1.5,1.7 .5,.2 .5-.2 1-1 .5-.2 1,.5 .5-.6 1-5 .5-1.5 .5,1.3 1,5.5 .5,1.2 .5,.3 5-.1 1-.6 1-.8 .5-.2 1.5,1 .5,.1 1.5-.7 .5,0 1.5,.7 2,0 1-.5 .5-.5 2-2.8 .5-.2 1,.5 .5-.5 .5-1.7 1.5-10.9 .5-1.9 .5,1 1.5,12 .5,2.5 .5,1.4 .5,.5 1.5,.5 1.5,0 1-.3 2.5-1.6 .5,0 2,1.5 1,0 .5-.2 .5-.7 .5-1.4 1-3.7 .5-.5 1,1.5 .5-.7 1-4.3 .5-.8 .5,1.5 1.5,7.7 .5,.9 .5,.4 4.5,0 .5-.1 .5-.5 .5-1.3 1-4.9 .5-1.3 .5,.8 1,4.9 .5,1.5 .5,.6 .5,.2 1.5-.2 1.5-1.1 .5-.1 1.5,1.1 1,.1 .5-.3 1.5-1.7 .5,.2 1,1.2 1,.4 1.5,.4 3-.1 1-.4 .5-.4 1.5-2.1 .5-.4 .5,.2 1.5,1.8 .5,.3 1-.3 .5,.1 1,.8 1,.4 5.5,0 .5-.1 1.5-1 .5,0 1,.6 .5-.2 .5-1.1 .5-2.5 1.5-11.7 .5-.4 2,13.6 .5,1.3 .5,.5 1.5-.3 2.5-1.1 2-.6 6.5-2.6 3-.8 3.5-.6 2-.6 2,.6 2,.1V300H15.5z" fill="#fff" stroke="#858585"/>
<path d="M15.5,73.5l3.5-.3 .5-.3 1.5-1.4 .5-.1 1,.7 1,.3 1-.3 1.5-.8 2,0 1-.2 2-1.1 .5-.1 2,.2 2.5-.5 .5-.4 .5-1.2 2-12.8 .5,.7 1.5,10.8 .5,1.6 .5,.7 .5,.1 .5-.1 1.5-1.4 .5-.1 1.5,.9 3.5-1.6 .5,.3 1,1.3 .5,.3 .5-.1 1.5-1.3 1,.3 .5-.5 1-4.7 .5-1.5 .5,1.3 1,5.4 .5,1.1 .5,.3 5-.1 1-.4 1.5-1.2 .5,.2 1.5,.9 2-.7 1.5,.7 2,0 1-.6 2.5-3.1 .5-.3 1,.5 .5-.1 .5-1 .5-2.4 1.5-11.6 .5-.7 .5,2.6 1.5,12.8 .5,1.9 .5,.8 .5,.3 1,.3 1.5,0 1-.3 1-.4 1.5-1.1 .5-.1 2,1.4 1,.2 .5-.2 .5-.6 .5-1.2 1-3.2 .5-.4 1,1.6 .5-.3 1.5-6.6 .5,.1 1.5,8.2 .5,1.5 .5,.6 .5,.2 4-.1 .5-.1 .5-.5 .5-1.2 1-4.8 .5-1.3 .5,.9 1,4.7 .5,1.4 .5,.6 .5,.2 1.5-.2 1.5-1.4 .5-.2 1.5,1.4 1,.2 .5-.3 1.5-1.9 .5,.1 1.5,1.6 1,.4 1.5,.3 2.5-.1 1-.6 2-2.5 .5,0 .5,.3 1.5,1.9 .5,.2 1-.4 .5-.1 1.5,1.1 .5,.1 5.5,0 .5-.2 1.5-1.2 .5,0 1,.6 .5-.5 .5-1.7 1.5-11.8 .5-1.8 .5,1.4 1.5,11.5 .5,1.9 .5,.7 .5,.2 2-.6 2-1 2-.5 5.5-2.2 3.5-1.1 4-.7 2-.7 2,.7 2,.1V300H15.5z" fill="#fff" stroke="#858585"/>
<path d="M15.5,75.5l3.5-.4 2-1.5 .5,0 1,.6 1,.2 1-.4 1.5-1 2.5,.2 1-.3 1.5-.8 2.5,0 2-.3 1-.4 .5-.6 .5-1.5 1.5-10.4 .5-1.6 .5,1.6 1.5,10.4 .5,1.3 .5,.4 .5,0 1.5-1.4 .5-.2 1.5,.8 1.5-.6 1-.1 1-.6 .5,.1 1.5,1.7 .5,0 1.5-1.4 1,.1 .5-.4 1-4.5 .5-1.4 .5,1.3 1,5.2 .5,1.1 .5,.3 5.5-.2 2-1.4 .5,0 1.5,.9 .5,0 1.5-.5 2,.7 1.5-.2 .5-.3 3.5-3.4 1.5,.4 .5-.7 .5-1.7 1.5-12.1 .5-2.1 .5,1.5 1.5,13.4 .5,2.5 .5,1.1 .5,.5 1,.3 1.5,.1 1-.3 1.5-.6 1.5-1 .5,.1 1.5,1.3 1,.2 .5-.2 .5-.5 .5-1.1 1-2.9 .5-.4 1,1.8 .5,0 .5-1.5 1-5.3 .5-1.1 .5,1.4 1,6.1 .5,2 .5,1 .5,.3 4,0 .5-.1 .5-.5 .5-1.2 1-4.6 .5-1.3 .5,.9 1,4.5 .5,1.4 .5,.6 .5,.2 1.5-.2 1.5-1.7 .5-.2 1.5,1.7 .5,.2 .5,0 .5-.2 1.5-2.1 .5-.1 1.5,1.6 1,.6 1.5,.4 2-.1 1-.3 .5-.5 1.5-2 .5-.3 .5,.2 2,2.3 .5,.1 1.5-.6 2,1.1 5.5,0 .5-.3 1.5-1.5 1.5,.7 .5-.9 .5-2.4 1.5-11.6 .5-.3 2,13.7 .5,1.3 .5,.4 .5,.1 1.5-.5 2.5-1.4 2-.3 7-2.7 3-.8 3.5-.6 1.5-.7 2,.8 2,.1V300H15.5z" fill="#fff" stroke="#858585"/>
<path d="M15.5,76.5l3.5-.4 2-1.3 1.5,.6 1,0 1-.4 1.5-1.2 .5-.1 1,.5 1,0 3-1 2,0 3-.6 .5-.4 .5-.9 .5-1.9 1.5-10.3 .5-.4 1.5,10.2 .5,2 .5,.9 .5,.1 1.5-1.4 .5-.1 1.5,.7 1.5-.6 1,.1 1-.7 .5,0 1.5,1.7 .5,.1 .5-.2 1-1.1 1-.1 .5-.5 1-4.3 .5-1.3 .5,1.4 1,5.1 .5,1 .5,.4 5.5-.3 1-.5 1-.9 .5-.1 1.5,1 .5,.1 1.5-.4 2,.5 1.5-.2 1.5-1.6 1.5-.8 1-1.1 .5-.1 1,.3 .5-.4 .5-1.4 .5-2.8 1-8.8 .5-3 .5,.4 1.5,13 .5,3 .5,1.6 .5,.7 1,.4 1,.1 1-.2 2-.7 1.5-1 .5,0 2,1.5 1-.1 .5-.5 .5-1 1-3 .5-.3 1,1.8 .5,.3 .5-.9 1.5-7.1 .5,.3 1.5,8.2 .5,1.4 .5,.5 .5,.2 3.5-.1 .5-.1 .5-.5 .5-1.2 1-4.5 .5-1.2 .5,.9 1,4.4 .5,1.4 .5,.5 .5,.2 1.5-.2 1.5-1.9 .5-.2 1.5,1.8 .5,.3 .5,.1 .5-.3 .5-.5 1-1.6 .5-.2 1.5,1.5 1.5,1 1,.2 2-.1 1-.5 2-2.4 .5-.1 .5,.3 1.5,2 .5,.3 .5,.1 1.5-.6 1.5,.7 1,.3 4,0 1-.2 2-1.9 1,.6 .5-.1 .5-1.4 1.5-11.5 .5-2.1 .5,1 1.5,11.6 .5,2 .5,.9 .5,.2 1-.1 1.5-.6 2-1.3 2-.2 7-2.7 3-.8 3.5-.5 1.5-.8 .5,.1 1.5,.7 2,.1V300H15.5z" fill="#fff" stroke="#858585"/>
<path d="M15.5,77.5l3-.2 2.5-1.3 1.5,.5 1-.1 1-.4 1.5-1.5 .5-.1 1,.6 1,.2 2.5-.8 4.5-.6 1.5-.5 .5-.5 .5-1.4 .5-2.5 1-7.5 .5-1.8 .5,1.2 1.5,10.2 .5,1.4 .5,.3 1.5-1.1 .5-.2 1.5,.5 1.5-.5 1,.3 1.5-.8 .5,.2 1,1.3 .5,.3 .5-.1 1-1.1 1-.4 .5-.4 1-4.2 .5-1.2 .5,1.3 1,5.1 .5,1.1 .5,.3 5.5-.2 1-.5 1.5-1.1 2,1.1 1.5-.3 1.5,.4 1.5-.1 1-.7 1-1.3 .5-.2 1,0 1.5-1.3 1,.1 .5-.4 .5-1.2 .5-2.5 1.5-11.5 .5-.5 .5,2.6 1.5,12.6 .5,2 .5,1 .5,.4 1,.2 1,0 1.5-.7 1-.2 1.5-.9 .5-.1 2,1.5 1,0 .5-.5 .5-1.1 1-3.2 .5-.4 1,2 .5,.6 .5-.5 .5-1.7 1-5.2 .5-.6 .5,1.7 1,5.9 .5,1.8 .5,.8 .5,.2 3.5,0 .5-.1 .5-.5 .5-1.2 1-4.4 .5-1.1 .5,.8 1,4.4 .5,1.3 .5,.5 .5,.2 1.5-.2 .5-.5 1-1.5 .5-.3 .5,.5 1,1.4 .5,.4 .5,.1 .5-.2 .5-.5 1-1.6 .5-.3 .5,.2 2.5,2.2 1,.3 1.5-.1 1-.2 .5-.4 1.5-1.9 .5-.4 .5,0 .5,.4 1,1.4 1,.8 .5,.1 1.5-.5 2.5,.8 4.5-.1 1-.5 1-1.4 .5-.3 1,.6 .5-.3 .5-1.8 1.5-11.7 .5-1.1 .5,2 1.5,11.5 .5,1.6 .5,.6 1,0 1.5-.5 1-.5 1.5-1.2 2-.1 7.5-2.8 3-.7 3-.4 1.5-.7 .5,0 1.5,.7 2,.1V300H15.5z" fill="#fff" stroke="#858585"/>
<path d="M15.5,79.5l3-.2 2.5-1 1.5,.2 1-.1 1-.4 1.5-1.7 .5-.1 1.5,.9 .5,.1 3-.9 2.5-.2 3-.7 .5-.4 .5-1 .5-2 1.5-10.1 .5,0 1.5,10.1 .5,1.9 .5,.6 2-1 1.5,.3 1.5-.4 1,.5 .5-.2 1-.8 .5,.1 1.5,1.7 .5,0 2.5-2.2 1-4.1 .5-1.2 .5,1.4 1,5.1 .5,1.1 .5,.3 5.5-.2 1-.4 1.5-1.2 .5,.1 1.5,.9 1.5-.1 2,.3 1-.1 .5-.3 1.5-1.8 .5-.1 1,.3 1.5-1.3 1-.2 .5-.4 .5-1.2 .5-2.2 1.5-10.8 .5-1.1 .5,1.7 1.5,12.3 .5,2.4 .5,1.2 .5,.5 1,.3 1-.1 1.5-.9 1.5-.1 1-.8 .5-.1 2,1.6 .5,.1 .5-.1 .5-.6 .5-1.2 1-3.5 .5-.4 1.5,3 .5,0 .5-1.3 1-5.2 .5-1.3 .5,1.1 1.5,7.8 .5,1 .5,.4 3.5,0 .5-.1 .5-.5 .5-1.2 1-4.3 .5-1.2 .5,.9 1,4.3 .5,1.3 .5,.5 .5,.2 1.5-.2 .5-.5 1-1.5 .5-.3 .5,.4 1,1.5 .5,.4 1,0 .5-.4 1.5-2 .5,0 .5,.4 2,1.9 1,.3 1.5-.1 1-.3 .5-.4 1.5-1.9 .5-.3 .5,.1 1.5,1.9 1,.7 .5,.1 2-.4 2,.6 4.5-.1 1-.6 1-1.4 .5-.3 1,.6 .5-.6 .5-2.1 1.5-11.5 .5-.4 2,13.8 .5,1.3 .5,.5 1-.1 2-.7 2-1.7 .5-.1 1,.2 1-.1 5.5-2.2 3.5-1 4-.6 2-.7 1.5,.6 2,.2V300H15.5z" fill="#fff" stroke="#858585"/>
<path d="M15.5,80.5l3-.2 2-.8 2,.1 1.5-.3 1-.8 1-1.4 .5-.2 1.5,1.2 .5,.1 1-.2 2-.8 2,0 2.5-.5 1-.3 .5-.4 .5-.8 .5-1.7 1.5-10.3 .5-.8 .5,2.2 1,7.6 .5,2.2 .5,.9 .5,0 1.5-.6 1.5,.1 1.5-.3 1,.5 .5,0 1-1 .5-.1 1.5,1.7 .5,.1 .5-.3 2-2.1 1-4.1 .5-1.2 .5,1.5 1,5.2 .5,1 .5,.3 6-.2 .5-.2 1.5-1.2 .5-.1 1.5,1 .5,.1 3,.1 1-.2 2-2.1 1.5,.6 .5-.2 1-1.1 1-.5 .5-.5 .5-1.1 .5-2.2 1.5-10 .5-1.4 .5,1.1 1.5,11.8 .5,2.6 .5,1.4 .5,.6 1,.4 1-.3 1.5-1 1,.3 .5-.2 1-.8 .5-.1 .5,.2 1.5,1.4 .5,.1 .5,0 .5-.6 .5-1.3 1-3.7 .5-.5 1.5,3.4 .5,.2 .5-1 1-5.1 .5-1.6 .5,.5 1.5,7.8 .5,1.2 .5,.4 .5,.2 3-.1 .5-.1 .5-.5 .5-1.2 1-4.3 .5-1.1 .5,.9 1,4.2 .5,1.3 .5,.5 .5,.2 1.5-.2 .5-.4 1-1.5 .5-.3 .5,.4 1,1.4 .5,.4 1,0 .5-.3 1.5-1.9 .5-.2 1,.7 1.5,1.6 1,.3 1.5-.1 1-.4 2-2.3 .5-.2 .5,.2 1.5,1.9 1,.7 1,0 1.5-.3 2,.5 4.5-.1 1-.6 1-1.4 .5-.2 1,.5 .5-.8 .5-2.4 1.5-11.3 .5,.1 1.5,11.4 .5,2.5 .5,1.1 .5,.4 1-.1 2-.7 2-1.9 .5,0 1,.3 1-.1 5-2 3.5-1.1 4.5-.7 2-.6 2,.6 1.5,.1V300H15.5z" fill="#fff" stroke="#858585"/>
<path d="M15.5,82.5l2.5-.2 2.5-.7 2,0 1.5-.3 1-.8 1-1.4 .5-.3 1.5,1.2 .5,.1 1-.2 2-.9 2,.1 2.5-.4 1-.4 1-1.1 .5-1.5 1.5-10.5 .5-1.2 .5,2 1,7.7 .5,2.5 .5,1 4.5-.6 .5,.1 1,.5 .5,0 1-1.1 .5-.2 .5,.2 1,1.3 .5,.3 .5-.1 1.5-1.7 .5-.8 1-4.2 .5-1.1 .5,1.5 1,5.3 .5,1.1 .5,.3 6-.2 1-.4 1-.9 .5-.2 2,1.1 3.5,.1 1-.6 1-1.3 .5-.3 1.5,.8 .5-.2 2.5-2.4 .5-1.3 .5-2.1 1.5-9.4 .5-1.6 .5,.9 2,14.1 .5,1.5 .5,.6 1,.4 1-.3 1-1 .5-.1 1,.5 .5-.1 1-.9 .5-.2 .5,.1 1.5,1.5 .5,.2 .5-.1 .5-.5 .5-1.4 1-3.8 .5-.5 1.5,3.6 .5,.4 .5-.9 1.5-6.9 .5,.4 1.5,7.6 .5,1.3 .5,.5 .5,.1 3,0 .5-.1 .5-.5 .5-1.2 1-4.3 .5-1.2 .5,.9 1,4.2 .5,1.3 .5,.6 .5,.2 1.5-.2 .5-.3 1-1.4 .5-.3 .5,.3 1,1.3 .5,.4 1,.1 .5-.2 1.5-1.8 .5-.3 .5,0 .5,.4 1.5,1.7 1,.3 1.5-.1 1-.4 2-2.3 .5-.2 .5,.2 1.5,1.9 1,.7 1,.1 1.5-.3 2.5,.4 4-.1 1-.6 1-1.4 .5-.3 .5,0 .5-.4 .5-1.5 1.5-10.1 .5-2 .5,.2 .5,2.3 1.5,10.1 .5,1.7 .5,.8 .5,.3 1,0 1.5-.6 2-2 .5-.1 1,.4 1,0 5.5-2.2 3.5-1 4.5-.6 1.5-.5 2,.5 1.5,.1V300H15.5z" fill="#fff" stroke="#858585"/>
<path d="M15.5,83.5l3-.2 2-.6 2-.1 1.5-.3 1-.8 1-1.5 .5-.2 1.5,1.2 .5,.1 1-.2 1.5-.9 .5-.2 2,.3 2.5-.4 1-.5 1-1.3 .5-1.8 1.5-10.5 .5-.6 .5,2.4 1,7.8 .5,2.3 .5,.8 3-.6 2,.2 1,.4 .5-.1 1-1.1 .5-.2 .5,.3 1,1.3 .5,.2 .5-.2 1.5-1.6 .5-.8 1-4.3 .5-1.2 .5,1.5 1,5.4 .5,1.2 .5,.3 6-.2 2.5-1.5 2,1.1 3.5,.1 1-.5 1-1.3 .5-.3 1.5,.7 .5-.2 2-1.7 .5-.6 .5-1.3 .5-2.1 1.5-9.5 .5-1.5 .5,1.1 1.5,11.5 .5,2.5 .5,1.4 .5,.6 1,.3 1-.4 1-1.1 .5-.1 1,.5 .5-.1 1-.9 .5-.1 .5,.2 1.5,1.5 .5,.2 .5-.1 .5-.5 .5-1.3 1-3.7 .5-.6 1.5,3.6 .5,.2 .5-1 1-5.1 .5-1.6 .5,.6 1.5,7.7 .5,1.1 .5,.4 .5,.2 3-.1 .5-.1 .5-.5 .5-1.2 1-4.4 .5-1.1 .5,.8 1,4.2 .5,1.4 .5,.5 .5,.3 1.5-.2 .5-.3 1-1.1 .5-.3 .5,.3 1,1.1 .5,.3 1,.1 1-.6 1.5-1.4 .5-.1 .5,.3 1.5,1.6 1,.3 1.5-.1 1-.3 2-2.4 .5-.2 .5,.1 2,2.4 1,.4 2-.2 2.5,.3 4-.1 1-.5 1-1.3 1-.2 .5-.4 .5-1.4 .5-2.7 1-7.3 .5-2.4 .5-.1 .5,2.1 1.5,10.1 .5,1.9 .5,.9 .5,.4 1,0 1.5-.6 2-2 .5-.1 1,.4 1,0 5.5-2.2 3.5-1 6-.9 2,.4 1.5,0V300H15.5z" fill="#fff" stroke="#858585"/>
<path d="M15.5,84.5l3-.2 2-.6 2-.1 1.5-.4 1-.8 1-1.4 .5-.2 1.5,1.2 .5,.1 1-.2 1.5-1.1 .5-.2 2,.5 2-.3 1-.4 1-1.1 .5-1.3 .5-2.5 1-7.9 .5-2 .5,1.2 1.5,10.7 .5,1.6 .5,.5 1.5-.7 1-.2 3.5,.7 .5-.3 1-1.1 .5-.1 1.5,1.7 .5,.1 .5-.3 2-2.2 1-4.5 .5-1.3 .5,1.5 1,5.5 .5,1.2 .5,.4 6-.2 .5-.2 1.5-1.2 .5-.1 1.5,1 .5,.1 3,.1 1-.1 2-1.8 1.5,.4 .5-.1 2-1.6 .5-.7 .5-1.3 .5-2.3 1.5-10 .5-.8 .5,1.9 1,8.2 1,5.5 .5,1.1 .5,.5 1,.3 1-.4 1-1.2 .5-.3 1,.4 .5-.1 1-.8 .5,0 2,1.9 .5,.1 .5-.1 .5-.5 .5-1.3 1-3.5 .5-.4 1.5,3.2 .5-.1 .5-1.4 1-5.1 .5-1 .5,1.4 1,5.6 .5,1.8 .5,.9 .5,.3 3.5,0 .5-.1 .5-.5 .5-1.2 1-4.4 .5-1.3 .5,.8 1,4.3 .5,1.4 .5,.6 .5,.2 1.5,0 2-1.5 2,1.5 1,0 1-.4 1.5-1.2 .5-.2 .5,.1 1.5,1.5 .5,.2 2,.1 1-.3 .5-.4 2-2.4 .5,0 2,2.4 1,.5 2-.1 2,.3 3,0 2-.2 1.5-1.3 1.5-.4 .5-1.1 .5-2.3 1.5-10.2 .5-1.1 .5,1.2 1.5,10.1 .5,2.3 .5,1.3 .5,.5 1,.1 1.5-.5 2-2 .5-.1 1,.4 1,0 5.5-2.2 3.5-1 6-.8 3.5,.3V300H15.5z" fill="#fff" stroke="#858585"/>
<path d="M15.5,86.5l3-.2 2.5-.8 1.5,.1 1-.2 1-.5 1.5-1.8 .5-.2 1.5,.8 1,.1 1-.4 1-.9 .5-.1 1.5,.7 .5,0 2-.3 1-.5 .5-.7 .5-1.3 .5-2.4 1-7.8 .5-2.6 .5,.7 1.5,10.7 .5,1.8 .5,.8 .5,.3 2-1.1 .5,0 1.5,.7 2,0 1.5-1.5 .5,.1 1.5,1.7 .5,0 1.5-1.5 .5-.2 .5-.6 1-4.7 .5-1.5 .5,1.5 1,5.6 .5,1.3 .5,.4 5.5-.1 1-.4 1.5-1.2 .5,.1 1.5,1 3.5,.1 1-.1 1-.7 1-1.3 .5-.2 1.5,.2 2-1.1 .5-.8 .5-1.5 .5-2.8 1-7.7 .5-2.4 .5,.5 2,14.4 .5,1.5 .5,.7 1,.4 1,0 .5-.2 1.5-1.7 1.5,.1 1-.7 .5,.1 1.5,1.7 .5,.3 .5,.1 .5-.2 .5-.7 1.5-4.7 .5-.2 1,2.4 .5,.6 .5-.7 1.5-6.5 .5,.2 1.5,7.7 .5,1.3 .5,.5 .5,.2 3.5-.1 .5-.1 .5-.5 .5-1.2 1-4.6 .5-1.3 .5,.8 1,4.4 .5,1.4 .5,.7 .5,.2 1.5,0 2-1.1 1.5,.9 1.5,.2 1-.3 2-1.2 .5,0 2,1.5 2.5,0 1-.4 2-2.6 .5-.2 .5,.2 1.5,2 1,.8 2,0 2.5,.3 4.5-.1 1.5-1 .5-.2 1,0 .5-.6 .5-1.6 .5-2.7 1.5-9.8 .5-.4 .5,1.9 1.5,10 .5,2 .5,1 .5,.3 1,0 1-.4 2-1.9 .5-.1 1,.4 1-.1 5.5-2.2 3.5-1 5.5-.7 4,.2V300H15.5z" fill="#fff" stroke="#858585"/>
<path d="M15.5,87.5l3.5-.3 2-.9 1.5,.2 1-.1 1-.5 1.5-1.7 .5-.1 3,.2 .5-.2 1-.8 .5-.1 1,.6 1,.3 1.5-.2 1-.4 .5-.6 .5-1.5 1.5-10.8 .5-2.2 .5,1 1.5,10.7 .5,1.5 1,1 .5,.2 .5-.2 1.5-1 .5,.1 1.5,.9 1,.1 1-.5 1-1.1 .5-.2 1.5,1.6 .5,.2 .5-.2 1-1.1 1-.2 .5-.6 1-4.9 .5-1.6 .5,1.4 1,5.8 .5,1.3 .5,.4 5.5-.2 1-.5 1-.8 .5-.2 2,1.1 1.5-.2 1.5,.3 1.5-.1 1-.8 1.5-2.3 .5-.1 1.5,.5 1-.2 .5-.4 .5-1 .5-2.1 1.5-11.1 .5-.9 .5,2.2 1.5,11.9 .5,1.9 .5,1 .5,.4 1,.3 1,0 .5-.2 1.5-1.7 .5-.3 2-.5 .5,.3 1.5,1.8 .5,.2 .5-.1 .5-.4 .5-1.1 1.5-4.8 .5,.2 1,2.6 .5,.1 .5-1.5 1-4.8 .5-.4 .5,1.8 1,5.6 .5,1.7 .5,.7 .5,.2 4,0 .5-.1 .5-.5 .5-1.2 1-4.7 .5-1.4 .5,.7 1,4.6 .5,1.5 .5,.7 .5,.3 1.5-.1 2-.8 1.5,.7 1.5,.1 3.5-1.3 2,1.3 3,0 1-.5 2-2.8 .5-.2 .5,.3 1.5,2.3 1,.6 1.5,0 2,.4 4.5,0 1-.2 1.5-.8 1,.2 .5-.2 .5-.8 .5-1.9 1.5-10.2 .5-2.3 .5,0 .5,2.1 1.5,9.8 .5,1.8 .5,.9 .5,.3 .5,0 1-.3 2-1.8 2,.2 6-2.3 3.5-1 5.5-.7 4,.2V300H15.5z" fill="#fff" stroke="#858585"/>
<path d="M15.5,89.5l3.5-.3 2-1.1 2.5,.3 1-.5 1.5-1.5 1-.4 1-.6 .5-.1 1,.5 .5,0 1-.7 .5,0 1,.7 1,.3 1.5-.2 .5-.3 .5-.7 .5-1.8 1.5-11.3 .5-1.1 .5,2 1.5,9.9 .5,1.2 .5,.5 1.5,.3 .5-.1 1-.8 .5-.2 1.5,1.2 1,.2 1-.5 1.5-1.5 .5,.2 1,1.2 .5,.4 .5-.1 1.5-1.3 1,.2 .5-.6 1-5.2 .5-1.7 .5,1.3 1,5.9 .5,1.4 .5,.4 5-.1 1-.4 1.5-1.2 .5,.1 1.5,1 2-.3 1.5,.4 1.5-.1 .5-.4 .5-.7 1.5-3.4 .5-.4 .5,.3 1.5,1.5 .5,0 .5-.7 .5-1.6 1.5-10.9 .5-1.8 .5,1.2 1.5,11.8 .5,2.3 .5,1.2 .5,.5 1.5,.4 1.5-.1 .5-.3 1.5-1.9 .5-.3 1-.3 .5,.2 1.5,1.9 .5,.4 .5,.1 .5-.3 .5-.7 .5-1.5 1-4.3 .5-1 .5,.7 1,2.8 .5-.7 1-4.7 .5-.8 .5,1.3 1,5.8 .5,1.9 .5,.9 .5,.3 4.5,0 .5-.1 .5-.5 .5-1.3 1-4.9 .5-1.4 .5,.8 1,4.8 .5,1.6 .5,.7 .5,.2 1.5-.1 2-.6 1.5,.6 1,.1 4-1.1 2.5,1.1 3-.1 1-.6 2-3 .5-.2 .5,.4 1.5,2.3 .5,.3 2.5,.8 5.5,.1 1-.1 1.5-.6 1.5,.2 .5-.2 .5-1 .5-1.8 1.5-10.1 .5-2.4 .5-.3 .5,2 1.5,9.8 .5,1.8 .5,.9 .5,.3 1-.1 2-1.6 2,.1 6-2.4 3.5-1 5.5-.7 4,.2V300H15.5z" fill="#fff" stroke="#858585"/>
<path d="M15.5,90.5l3.5-.3 2.5-1.4 1.5,.5 1-.1 2.5-1.9 1.5-2 .5-.1 1,1 .5,.3 1-.5 .5,0 1.5,1.1 1.5-.2 .5-.5 .5-1.1 2-12.3 .5,.4 1.5,8.7 .5,1.8 .5,1 .5,.5 2,0 1.5-.8 .5,0 1.5,1.3 .5,.1 1-.5 1.5-1.6 .5,0 1.5,1.7 .5,.1 1.5-1.3 .5-.1 1,.6 .5-.7 1-5.5 .5-1.8 .5,1.4 1,5.9 .5,1.4 .5,.4 1.5,.1 3.5-.3 2-1.4 .5,0 1.5,1 .5,.1 1.5-.5 .5,0 1.5,.5 1,0 1-.7 .5-.9 1.5-4.7 .5-.7 .5,.4 1.5,2.9 .5-.1 .5-1.3 .5-2.6 1-7.4 .5-2 .5,.7 1.5,10.5 .5,2.5 .5,1.4 .5,.7 1,.4 1,.2 1,0 1-.3 .5-.5 1.5-2.2 .5-.4 .5,.2 2,2.6 .5,.2 .5-.1 .5-.4 .5-1.1 1.5-6.9 .5-.8 1,2.8 .5,.7 .5-1.3 .5-2.1 .5-1.1 .5,1.1 1.5,7.4 .5,1 .5,.4 .5,.2 4.5-.1 .5-.2 .5-.4 .5-1.3 1-5.1 .5-1.5 .5,1 1,5 .5,1.6 .5,.6 .5,.2 1.5-.1 2-.4 1.5,.4 1,0 2-.6 2-.2 2.5,.9 3.5-.1 1-.6 2-3.3 .5-.2 .5,.3 1.5,2.1 1.5,1.2 1,.5 6,.1 2-.5 2,.2 .5-.3 .5-.8 .5-1.6 2-12.6 .5-.8 .5,1.5 1.5,9.7 .5,2 .5,1.1 .5,.4 .5,0 2-1.3 2-.1 6-2.4 3.5-1 5-.7 4.5,.2V300H15.5z" fill="#fff" stroke="#858585"/>
<path d="M15.5,91.5l4-.4 2-1.5 .5,0 1.5,.6 .5,0 2.5-1.9 1.5-3.2 .5-.2 1.5,2.3 1.5-.1 1.5,1 .5-.1 .5-.3 .5-.9 .5-1.9 1.5-8.8 .5-.1 2,8 1,1.8 1,.9 .5,0 3-1.1 1.5,1.2 .5,.2 .5-.1 .5-.3 1.5-1.6 .5-.1 1.5,1.7 .5,.2 .5-.3 1-1 .5-.2 1.5,1 .5-.9 1-5.7 .5-1.8 .5,1.4 1,5.9 .5,1.4 .5,.4 4.5-.1 1-.5 1-.9 .5-.1 2,1.2 .5-.1 1.5-.7 .5,.1 1.5,.6 1-.1 .5-.2 .5-.6 .5-1.2 1.5-6.4 .5-.9 .5,.5 1,3.4 .5,1 .5-.6 .5-2.2 1-6.7 .5-1.7 .5,.7 1.5,8.9 1,3.4 1,1.5 1.5,.5 1.5,0 1-.2 1-1 1-2 .5-.3 .5,.3 1.5,2.5 .5,.3 1-.1 .5-.6 .5-1.4 1.5-8.4 .5-.7 1,2.9 .5,.4 1-1.6 .5,.9 1.5,6.6 .5,1 .5,.4 1,.4 4.5-.1 .5-.2 .5-.5 .5-1.4 1-5.2 .5-1.3 .5,1.1 1,5.2 .5,1.5 .5,.5 .5,.2 1.5-.1 2-.4 2,.4 2.5-.7 1,.2 1.5,0 2,.6 4-.1 1-.6 2-3.6 .5-.4 .5,.1 .5,.5 2,3.4 1,.6 6,.1 2.5-.5 2,.4 .5-.3 .5-.6 .5-1.3 .5-2.3 1.5-10.2 .5-1.5 .5,.7 2,11.7 .5,1.3 .5,.5 .5,0 1.5-.7 2-.3 6-2.4 4-1.1 4.5-.7 4.5,.3V300H15.5z" fill="#fff" stroke="#858585"/>
<path d="M15.5,93.5l4-.4 1-.5 1-1 .5-.3 1.5,.8 .5,0 1.5-.8 1-1 1.5-4.4 .5-.3 1.5,3.3 .5,.2 1,0 1,.7 .5,0 .5-.6 .5-1.7 1.5-7.9 .5,.1 1,4 .5,1.3 2,2.8 1.5,1 .5,.1 .5-.2 1-.8 1-.3 1.5,1.1 .5,.3 .5,0 .5-.3 1.5-1.8 .5-.1 .5,.3 1,1.4 .5,.3 .5-.2 1-1 .5-.3 .5,.2 1,1 .5,.1 .5-1 1-5.8 .5-1.8 .5,1.4 1,5.9 .5,1.3 .5,.4 4-.1 1-.4 1-.9 .5-.2 .5,.1 1.5,1.1 1-.1 1.5-.8 2,.8 1-.1 .5-.3 .5-.8 .5-1.6 1.5-8.3 .5-1.1 .5,.9 1,4.6 .5,.7 .5-1.3 1-5.8 .5-1.3 .5,1 1,5.8 .5,2.3 .5,1.2 2,2.8 .5,.4 1,.2 2,0 1-.5 1.5-2.6 .5-.3 .5,.6 1,1.8 .5,.5 1,.2 .5-.2 .5-.8 .5-1.8 1.5-10 .5-.8 1,2.9 1,1.6 .5,1.3 1.5,5.9 .5,.7 2.5,.9 4-.1 .5-.2 .5-.6 .5-1.4 1-5.3 .5-1.1 .5,1.2 1,5.2 .5,1.4 .5,.6 .5,.1 1.5-.1 1.5-.5 2.5,.5 2-1 1.5,.6 1.5,0 2,.5 4.5-.1 1-.5 .5-.7 1.5-3.3 .5-.9 .5-.2 .5,.6 1.5,3.8 .5,.7 .5,.4 1,.2 5,0 2.5-.5 1.5,.4 1,0 .5-.2 .5-.4 .5-1 1-4.7 1-7.2 .5-2.3 .5-.3 .5,1.9 1.5,9.3 .5,1.6 .5,.8 .5,.1 2.5-.4 6.5-2.6 4-1.1 4.5-.8 2,.4 2.5,0V300H15.5z" fill="#fff" stroke="#858585"/>
<path d="M15.5,94.5l4.5-.5 .5-.3 1.5-1.5 .5,0 1.5,.8 1.5-.6 .5-.4 .5-.9 1.5-5.6 .5-.3 1.5,4.4 .5,.5 1.5,.3 .5-.3 .5-1.2 1.5-7 .5,.1 1.5,5.7 .5,.3 1-.4 1.5,1.7 1.5,.6 .5,0 .5-.2 1-1.1 .5-.2 .5,.2 1.5,1.3 .5,.1 .5-.3 1.5-1.9 .5-.2 .5,.3 1,1.4 .5,.4 .5,0 1.5-1.4 .5,.2 1.5,1.4 .5-.2 .5-1 1-5.8 .5-1.7 .5,1.4 1,5.8 .5,1.2 .5,.4 2.5,0 1.5-.2 2-1.4 .5,.1 1,.8 1,.4 1-.2 1.5-.9 2,.9 1-.1 .5-.4 .5-1 .5-1.9 1.5-10.4 .5-1.3 .5,1.4 1,5.2 .5,.2 1-3.8 .5-.8 .5,1.2 1.5,7.5 .5,.9 1,.2 .5,.2 1.5,1.9 1,.3 1,.1 1.5-.3 .5-.4 1.5-2.2 .5-.1 1.5,2.2 .5,.3 1,.1 .5-.3 .5-.9 .5-2.1 1.5-11.7 .5-1.1 .5,1.4 2,9.7 1,3.4 .5,.6 1.5,.1 2,.6 3.5-.1 .5-.2 .5-.6 .5-1.6 1-5.1 .5-1 .5,1.4 1,5.1 .5,1.3 .5,.5 .5,.1 1.5-.1 1.5-.7 .5,0 1.5,.6 .5,0 1.5-1.2 .5-.1 1.5,1.1 .5,.1 1-.1 3,.4 3.5,0 1-.2 1-1 2-5.2 .5-.1 2,5.1 1,1.1 1,.3 4.5,0 1-.1 1.5-.6 2,.6 1.5-.1 .5-.3 .5-.7 .5-1.4 2-12.4 .5-1.4 .5,.9 1.5,9 .5,2.1 .5,1.1 .5,.5 .5,.1 1,0 8-3.1 7-1.7 2.5,.5 2.5,0V300H15.5z" fill="#fff" stroke="#858585"/>
<path d="M15.5,96.5l4.5-.5 1-.5 1-1.1 .5-.3 1.5,.7 1.5-.4 .5-.4 .5-1.1 1.5-6.7 .5-.3 1.5,5.4 .5,.7 .5,.1 .5-.3 .5-.9 1.5-5.6 .5,0 1.5,5.4 .5,.5 1.5-1.1 .5,.2 1.5,1.3 .5,.2 1.5,0 1.5-1.2 .5-.1 1.5,1.2 .5,.2 .5-.2 .5-.5 1-1.6 .5-.4 .5,.4 1.5,2.1 .5,0 1.5-1.3 .5,0 1.5,1.5 .5,.2 .5-.3 .5-1.1 1-5.7 .5-1.6 .5,1.4 1,5.6 .5,1.3 .5,.3 3.5-.1 2-1.4 .5,0 1.5,1 .5,.2 1-.1 1.5-.9 .5-.1 1.5,.8 1,.1 .5-.1 .5-.5 .5-1.2 .5-2.3 1.5-12.5 .5-1.2 1.5,6.8 .5,.2 .5-.6 .5,0 .5,1.4 1,5 .5,1.7 .5,.9 .5,.1 1-.8 .5-.1 1.5,2 1,.5 1.5,0 1-.4 1.5-1.7 .5-.2 .5,.1 1,1.2 1,.7 1,0 .5-.4 .5-1 .5-2.3 1.5-13.5 .5-1.1 .5,2.1 1,7.9 1,5.6 .5,1.3 .5,.5 .5,.1 1.5-.3 2.5,.8 2.5-.1 1-.3 .5-.7 .5-1.5 1-4.9 .5-.8 .5,1.4 1,4.9 .5,1.2 .5,.5 .5,.1 1.5-.2 1.5-.9 .5,.1 1.5,.8 .5-.2 1.5-1.4 .5,.1 1,1.1 1,.4 1.5-.1 1.5,.3 2,0 3,0 1-.2 .5-.3 .5-.8 1.5-4.3 .5-.9 .5,.1 .5,.7 1.5,3.9 .5,.9 1,.7 5,.2 2-.9 .5,0 1.5,.7 1,.2 1-.2 1-.7 .5-1 1-4.6 1-7.1 .5-2.4 .5-.3 .5,1.7 1.5,8.8 .5,1.7 .5,.9 .5,.4 1-.1 8-3.1 4.5-1 1.5-.5 1,0 1.5,.5 3,0V300H15.5z" fill="#fff" stroke="#858585"/>
<path d="M15.5,97.5l3-.2 2-.4 1-.7 1-1.1 .5-.1 1.5,.6 1-.2 .5-.5 .5-1.2 1.5-7.7 .5-.4 1.5,6.3 .5,.7 .5-.6 1.5-4.5 .5,.1 1.5,4.8 .5,.6 .5-.2 1-1.1 .5-.2 .5,.1 2,1.3 1.5-.1 2-1.1 1.5,.9 1,0 .5-.4 1.5-2.3 .5,.2 1.5,2.5 .5,.2 1.5-1.3 .5-.1 1.5,1.4 1,.4 .5-.3 .5-1.1 1-5.6 .5-1.5 .5,1.4 1,5.4 .5,1.2 .5,.3 3-.1 .5-.2 1.5-1.2 .5-.1 1.5,1.1 1,.3 1-.2 1.5-.9 .5,0 1.5,.8 1,0 .5-.2 .5-.5 .5-1.4 .5-2.8 1.5-14.3 .5-1.2 1.5,7.1 1,2.8 1.5,6.4 .5,1.5 .5,.8 .5,.2 .5-.2 1.5-1.6 .5,.3 1.5,2.1 1,.4 1.5-.4 1.5-1.4 .5-.2 .5,.1 1.5,1 1,.5 1,0 .5-.4 .5-1.1 .5-2.6 1.5-14.7 .5-.8 2,16.5 .5,1.7 .5,.6 .5,.1 2-.5 .5,0 2,.8 2.5,0 1-.3 .5-.7 .5-1.6 1-4.6 .5-.7 .5,1.4 1,4.6 .5,1.2 .5,.5 .5,.1 1.5-.3 1.5-1.1 .5,.1 1,.8 .5,.1 .5-.2 1-1.3 .5-.3 .5,.4 1,1.3 .5,.3 2-.1 2.5,.3 5-.1 1-.8 2-4.1 .5-.9 .5-.4 .5,.2 .5,1 1.5,3.8 1,1.1 1,.2 3.5,0 1-.3 1-.8 .5-.1 2,1.1 2-.1 1-.5 .5-.7 .5-1.4 .5-2.3 1.5-9.9 .5-1.5 .5,.6 2,10.9 .5,1.3 .5,.5 1,.1 6.5-2.6 5.5-1.3 1.5-.7 .5,0 2,.7 3,0V300H15.5z" fill="#fff" stroke="#858585"/>
<path d="M15.5,99.5l5-.5 1-.5 1.5-1.5 2,.3 .5-.1 .5-.4 .5-1.4 1.5-8.5 .5-.4 1.5,6.4 .5,0 1-2.3 .5,0 1.5,4.2 .5,.7 .5,0 1.5-1.6 .5-.2 .5,.1 1.5,.9 1,.4 1-.2 2-1 1.5,.8 .5,.1 .5-.2 1-1.1 1-1.9 .5-.1 1.5,2.9 .5,.3 .5-.1 1-1 .5-.2 2,1.7 1,.1 .5-.3 .5-1.1 1-5.4 .5-1.5 .5,1.4 1,5.3 .5,1.1 .5,.3 2.5,0 1-.5 1-.9 .5-.2 1.5,1 1,.4 1.5-.2 1.5-.8 .5,0 1.5,.7 1,0 .5-.2 .5-.6 .5-1.6 .5-3.3 1.5-15.8 .5-1.2 .5,1.9 2.5,15.3 1,3.3 .5,.7 .5,.3 .5,0 .5-.3 1.5-2 .5,0 1.5,2.3 .5,.4 .5,.1 1-.2 2-1.5 .5,.1 1.5,.8 1.5,.4 1,0 .5-.3 .5-1.2 .5-2.8 1.5-14.9 .5-.2 1.5,14.6 .5,2.8 .5,1.3 .5,.2 3-.6 1.5,.6 1,.2 2,0 1-.4 .5-.7 .5-1.5 1-4.3 .5-.7 .5,1.3 1,4.5 .5,1.1 .5,.5 .5,.1 1-.1 .5-.3 1.5-1.4 .5,.2 1,1 .5,.1 .5-.4 1-1.4 .5,0 1.5,1.9 .5,.2 2-.2 2.5,.4 4,0 1-.2 2.5-2.1 .5-.7 1.5-3.5 .5-.1 .5,.8 1.5,4.1 .5,.9 1,.7 4,0 2-1.5 .5,.2 1.5,1.2 1,.1 2-.3 1-.8 .5-1 .5-1.8 1.5-9.7 .5-2.5 .5-.6 .5,1.6 1.5,9 .5,1.8 .5,.8 .5,.3 1-.2 6.5-2.5 4-.9 2-.9 2,.7 3.5,.1V300H15.5z" fill="#fff" stroke="#858585"/>
<path d="M15.5,100.5l3-.2 2.5-.4 1-.7 1.5-1.3 2,.2 .5-.4 .5-1.4 1.5-9.3 .5-.6 1.5,5.7 1,.5 .5,.8 1,2.5 .5,.8 .5,.2 .5-.1 .5-.4 1.5-1.6 .5,0 1.5,1.1 1,.2 1,0 2-1.2 1.5,.8 .5,.2 .5-.1 .5-.4 1.5-2.8 .5-.5 .5,.4 1,2.4 .5,.7 .5,0 1.5-1.2 .5,.1 1.5,1.5 .5,.2 1,0 .5-.3 .5-1.1 1-5.2 .5-1.5 .5,1.4 1,5.2 .5,1.1 .5,.3 2.5-.2 2-1.4 .5,.1 1,.7 1,.5 1.5-.1 2-.8 2,.6 1,0 .5-.2 .5-.7 .5-1.8 .5-3.7 1.5-16.8 .5-1.2 .5,2.4 1.5,12.8 1,5.7 .5,1.5 .5,.7 1,.4 1-.4 1.5-2.2 .5-.2 .5,.4 1,1.8 .5,.5 .5,.2 1-.3 1.5-1.3 .5,0 1.5,1 2.5,.4 .5-.1 .5-.3 .5-1.2 .5-2.8 1.5-14.4 .5,.2 1.5,14.5 .5,2.5 .5,1 .5,.1 1.5-.7 1.5-.1 .5,.1 2,.8 2,0 1-.4 .5-.7 .5-1.4 1-4.1 .5-.8 .5,1.2 1,4.4 .5,1.1 .5,.5 .5,.1 1-.2 .5-.3 1-1.3 .5-.3 .5,.3 1,1.1 .5,0 1.5-1.8 .5,.2 1,1.5 .5,.5 .5,.2 2-.5 2.5,.6 4.5-.1 2-1.1 1,0 .5-.3 .5-.8 1.5-4.3 .5-.5 .5,.6 2,5.4 1,.9 1.5,.2 2-.1 .5-.2 1.5-1.5 .5,0 1,1.1 1,.6 3-.4 1-.6 .5-.7 .5-1.5 .5-2.3 1.5-10.1 .5-1.4 .5,.8 1.5,8.9 .5,2.1 .5,1.1 .5,.5 1,0 5.5-2.1 4.5-1.2 1.5-.8 .5-.1 2,.9 3.5,0V300H15.5z" fill="#fff" stroke="#858585"/>
<path d="M15.5,101.5l5.5-.6 1-.5 1.5-1.6 .5-.3 .5,0 1,.5 .5-.4 .5-1.5 1.5-10 .5-.9 .5,1.5 1.5,6.7 1,2.5 .5,.8 .5,.4 1-.1 .5-.3 1.5-1.8 .5-.1 1.5,1.2 .5,.2 1.5,0 .5-.2 1.5-1.1 .5,0 1.5,1.1 .5,0 .5-.3 .5-.6 1.5-3.2 .5-.1 1.5,3.4 .5,.4 .5-.2 1-1 .5,0 1.5,1.5 .5,.3 1.5,0 .5-.3 .5-1 1-5.2 .5-1.4 .5,1.3 1,5.1 .5,1.1 .5,.3 2-.2 2-1.4 .5,0 1.5,1.1 1,.2 1.5-.1 2-.7 2,.6 1-.1 .5-.3 .5-.7 .5-2 .5-3.9 1.5-17.3 .5-.9 .5,3 1.5,14.8 .5,2.8 1,2.9 .5,.6 .5,.2 1,0 .5-.3 1.5-2.3 .5-.4 .5,.2 1,1.8 .5,.7 .5,.2 .5-.1 1.5-1.3 .5-.1 2,1.1 1.5-.1 1.5,.3 .5-.3 .5-1.2 .5-2.7 1.5-13.9 .5,.4 1.5,14 .5,2.3 .5,.9 .5,.2 1.5-.9 .5-.1 1.5,.1 1.5,.7 1,.2 1.5,0 1-.4 .5-.6 .5-1.3 1-4.1 .5-.8 .5,1.1 1,4.3 .5,1.1 .5,.5 .5,.1 1-.2 .5-.4 1-1.4 .5-.3 1.5,1.5 .5-.1 1-1.4 .5-.3 .5,.5 1,1.5 .5,.4 .5,.1 2-.7 2,.7 1,.1 3.5,0 1-.4 1-.5 .5-.1 1,.4 .5,0 .5-.5 .5-1 1.5-4.6 .5-.7 .5,.4 2,5.7 .5,.7 .5,.4 1,.2 2-.1 1-.6 1-1.3 .5-.1 1.5,1.7 .5,.3 1.5-.1 2-.4 1-.5 .5-.6 .5-1.2 .5-2.1 1.5-10.1 .5-1.9 .5,.2 2,10.6 .5,1.5 .5,.6 1,.1 5-1.8 4-1.1 2-1 2.5,.9 3.5,0V300H15.5z" fill="#fff" stroke="#858585"/>
<path d="M15.5,103.5l3-.2 3-.5 1-.7 1.5-1.8 .5-.1 1,.7 .5-.3 .5-1.6 1.5-10.7 .5-1 .5,1.9 1,6.7 .5,2.2 .5,1.3 .5,.6 .5,.2 1-.1 .5-.2 1.5-1.8 .5-.3 .5,.2 1.5,1.2 2-.1 1.5-1.2 .5-.1 1.5,1.1 .5,.2 .5-.1 .5-.5 .5-.8 1-2.6 .5-.6 .5,.3 1.5,3.5 .5,.2 1.5-1.1 .5,.2 1.5,1.5 1,.2 1-.1 .5-.3 .5-1 1-5.1 .5-1.5 .5,1.4 1,5.1 .5,1 .5,.3 2-.3 1.5-1.1 .5-.2 .5,.1 1,.8 1,.4 2-.1 2-.5 2,.4 1-.1 .5-.3 .5-.8 .5-2.1 2-21 .5-.5 2,18.6 .5,2.2 1,2.4 .5,.6 1,.3 1-.3 2-2.9 .5,.1 1.5,2.4 .5,.3 .5-.2 1.5-1.2 .5,0 2,1.2 1.5-.4 1.5,.4 .5-.3 .5-1.1 .5-2.6 1.5-13.5 .5,.4 1.5,13.6 .5,2.3 .5,.9 .5,.1 2-1.1 2,.4 2,.7 1.5,0 1-.4 .5-.5 .5-1.3 1-4.1 .5-.9 .5,1.1 1,4.3 .5,1.1 .5,.5 1,.1 .5-.2 .5-.5 1-1.5 .5-.3 1.5,1.6 .5-.2 1-1.3 .5,0 1.5,2 .5,.3 1-.1 1.5-.8 .5,0 1,.6 1,.4 4-.1 2-.7 2,.6 .5-.3 .5-.5 .5-1.1 1.5-4.8 .5-.8 .5,.3 2,5.9 .5,.8 .5,.4 1.5,.3 1.5-.2 1.5-1.9 .5-.2 1.5,1.8 .5,.3 1.5,0 2.5-.5 1-.5 .5-.7 .5-1.1 .5-2.1 1.5-9.4 .5-2.1 .5-.3 .5,1.6 1.5,8.5 .5,1.6 .5,.8 .5,.2 1-.2 4.5-1.6 3.5-.9 2-.9 2,.7 4,.1V300H15.5z" fill="#fff" stroke="#858585"/>
<path d="M15.5,104.5l3-.2 3-.5 1-.6 1.5-2 .5-.1 1,.7 .5-.2 .5-1.6 1.5-10.7 .5-.8 .5,2.3 1,7.2 .5,2 .5,.9 .5,.3 1,.1 .5-.2 .5-.3 1.5-1.8 .5-.1 1.5,1.3 .5,.1 2-.3 1.5-1.2 .5,0 1.5,1.3 .5,0 .5-.2 .5-.6 1.5-3.5 .5-.4 .5,.6 1,2.7 .5,.6 .5,0 1-.8 .5-.1 1.5,1.5 .5,.3 2,0 .5-.3 .5-1 1-5.2 .5-1.4 .5,1.4 1,5.1 .5,1 .5,.3 1.5-.1 2-1.4 .5-.1 1.5,1.1 1,.3 2-.1 2-.5 1.5,.3 1.5-.1 .5-.3 .5-.8 .5-2.1 2-20.1 .5-.3 1.5,14.9 .5,3.4 .5,1.7 1,2 .5,.6 1,.5 1-.3 2-2.9 .5,.1 1.5,2.2 .5,.2 2-1.3 .5,.1 2,1.2 1.5-.7 .5,.1 1,.4 .5-.1 .5-1.1 .5-2.6 1.5-13.5 .5,.4 1.5,13.6 .5,2.3 .5,.9 .5,.2 .5-.2 1.5-1.1 .5,0 3.5,1.2 1.5,0 1-.3 .5-.6 .5-1.2 1-4.1 .5-.9 .5,1 1,4.3 .5,1.1 .5,.5 1,0 .5-.1 1.5-2 .5-.3 1.5,1.6 .5-.2 1-1.1 .5,.1 1,1.3 1,.7 1-.1 1.5-1 .5,0 1.5,1 .5,.1 3.5,.1 2.5-.6 1.5,.4 1,0 .5-.3 .5-.6 .5-1.1 1.5-5.1 .5-.7 .5,.3 2,6.2 .5,.8 .5,.4 1,.3 1.5-.2 .5-.4 1-1.4 .5-.4 .5,.4 1,1.4 .5,.4 1.5,0 2.5-.5 1-.4 .5-.4 1-2.1 1-4.3 1.5-8.4 .5-.6 .5,1.3 1.5,8.4 .5,1.6 .5,.9 .5,.3 1-.2 4-1.4 3.5-.9 1.5-.8 .5-.1 2,.8 4,0V300H15.5z" fill="#fff" stroke="#858585"/>
<path d="M15.5,106.5l3.5-.3 3-.6 .5-.3 1.5-2.2 .5-.1 1,.9 .5-.3 .5-1.6 1.5-10.4 .5-.5 1.5,9.4 .5,1.8 .5,.7 .5,.2 1,.1 .5-.2 2-2.1 .5,.1 1,.9 1,.4 2-.5 1.5-1.2 .5,.2 1.5,1.3 .5,0 .5-.3 .5-.8 1.5-3.4 .5-.2 1.5,3.4 .5,.5 .5-.2 1-.7 .5,.1 1,1.1 1,.6 2,0 .5-.3 .5-1.1 1-5.2 .5-1.4 .5,1.4 1,5.1 .5,1 .5,.3 1.5-.1 2-1.4 .5,.1 1,.7 1,.5 2,0 2.5-.4 2,.2 1-.2 .5-.2 .5-.9 .5-1.9 2-19.3 .5-.2 1.5,14.5 .5,3.2 .5,1.5 1,1.6 .5,.7 1,.6 1-.3 .5-.4 1.5-2.4 .5,.1 1.5,1.9 .5,.2 1.5-1 .5-.2 .5,.1 2,1.2 .5-.2 1-.7 .5,0 1,.6 .5-.1 .5-1 .5-2.6 1.5-13.5 .5,.5 1.5,13.5 .5,2.3 .5,.9 .5,.2 .5-.1 1.5-1.3 .5,0 1.5,.7 2,.6 1.5,0 1-.4 .5-.5 .5-1.2 1-4.1 .5-.9 .5,1 1,4.3 .5,1.1 .5,.5 1,0 .5-.1 1.5-2 .5-.2 1.5,1.5 .5-.2 1-.9 .5,.2 1,1.2 1,.5 1-.1 1.5-1.1 .5-.1 1.5,1.1 .5,.2 3.5,.1 2.5-.5 1.5,.4 1,0 1-.5 .5-.7 2-6.4 .5-.6 .5,.6 2,6.4 .5,.7 .5,.4 1,.2 1-.2 .5-.3 1-1.4 .5-.4 .5,.3 1,1.4 .5,.3 1.5,.1 2.5-.5 1.5-.8 .5-.6 1-2.1 1-3.9 1.5-8.3 .5-.5 .5,1.4 1.5,8.3 .5,1.6 .5,.8 .5,.2 .5,0 4-1.4 3.5-.9 1.5-.7 .5,0 2,.6 4,0V300H15.5z" fill="#fff" stroke="#858585"/>
<path d="M15.5,107.5l3.5-.3 3-.5 .5-.4 1.5-2.2 .5-.1 1,.9 .5-.2 .5-1.6 1.5-10.1 .5-.5 1.5,9.1 .5,1.7 .5,.6 1,.4 1-.2 1.5-1.7 .5-.3 .5,.1 1,1 .5,.3 .5,0 2-.7 1.5-1.1 .5,.2 1,1.1 .5,.3 .5,0 .5-.4 .5-.8 1.5-3.3 .5,0 1.5,3.3 .5,.4 1.5-.9 .5,.2 1.5,1.5 1,.2 1.5-.1 .5-.3 .5-1.1 1-5.3 .5-1.5 .5,1.4 1,5.2 .5,1.1 .5,.3 1.5-.2 2-1.3 .5,.1 1.5,1.1 .5,.1 2-.1 2.5-.3 3,0 .5-.3 .5-.7 .5-1.9 .5-3.6 1.5-15.2 .5-.3 1.5,14.3 .5,3.1 .5,1.4 1,1.5 1,1.1 .5,.2 1-.3 .5-.4 1.5-2.2 .5,.1 1.5,1.7 .5,.1 1.5-1.1 .5-.1 1,.3 1.5,1 .5-.2 1-.9 .5-.1 1,.7 .5,0 .5-.9 .5-2.6 1.5-13.4 .5,.4 1.5,13.6 .5,2.2 .5,.9 .5,.2 .5-.1 1.5-1.2 .5-.1 1.5,.8 1.5,.5 2,0 1-.4 .5-.6 .5-1.1 1-4.1 .5-.9 .5,1 1,4.3 .5,1.1 .5,.5 1,.1 .5-.2 1.5-1.8 .5-.2 1.5,1.4 1.5-.8 .5,.2 1,1 1,.4 1-.2 1.5-1.2 .5-.1 1.5,1.2 1,.3 3,0 2-.3 2,.2 1.5,0 1-.7 .5-1 1.5-5.2 .5-1.3 .5-.1 .5,1 1.5,5.3 .5,1.1 .5,.6 1,.3 1-.1 .5-.3 1.5-1.6 .5,.2 1,1.3 1,.5 3.5-.6 1.5-.8 1-1.3 1-2 .5-1.5 1.5-8.7 .5-1.8 .5,.1 2,9.9 .5,1.3 .5,.6 1,.1 3.5-1.2 3.5-.9 1.5-.6 2.5,.5 4,0V300H15.5z" fill="#fff" stroke="#858585"/>
<path d="M15.5,108.5l3.5-.3 3-.5 .5-.4 1.5-2.1 .5-.1 1,.9 .5-.3 .5-1.5 1.5-10.1 .5-.4 1.5,8.9 .5,1.6 .5,.6 1,.5 1-.1 1.5-1.7 .5-.3 .5,.2 1,1 .5,.2 .5,0 2-.8 1.5-1.1 .5,.2 1,1.2 .5,.3 .5,0 1-1.3 1-2.3 .5-.7 .5,.1 1.5,3.2 .5,.3 1.5-1 .5,.2 1.5,1.5 1,.2 1.5-.1 .5-.3 .5-1.1 1-5.5 .5-1.5 .5,1.4 1,5.4 .5,1.1 .5,.3 1.5-.1 1.5-1.2 .5-.2 .5,.1 1,.8 1,.4 2,0 2.5-.4 3,0 .5-.2 .5-.8 .5-1.8 .5-3.5 1.5-15.3 .5-.3 1.5,14.3 .5,3.1 .5,1.4 1,1.5 1,1 .5,.1 1-.2 2-2.3 .5,.1 1.5,1.5 .5,0 1.5-1.1 .5-.2 1,.2 1.5,1.1 .5-.2 1-1 .5-.2 1,.9 .5,0 .5-.9 .5-2.6 1.5-13.4 .5,.4 1.5,13.6 .5,2.2 .5,.9 .5,.2 .5-.1 1.5-1.2 .5,0 1.5,.9 1.5,.3 2,0 1-.5 .5-.6 .5-1.2 1-3.9 .5-.9 .5,1 1,4.3 .5,1.1 .5,.5 .5,.1 1-.2 1.5-1.5 .5-.2 1.5,1.2 1.5-.6 .5,.2 1,.8 1,.3 1-.2 1.5-1.2 .5-.2 1.5,1.3 1,.3 3,0 2-.3 3.5,.2 1-.5 .5-.7 2-6.7 .5-.6 .5,.5 2,6.7 .5,.8 .5,.4 1.5,.1 .5-.3 1.5-1.5 .5,.2 1,1.1 1,.5 3.5-.6 1-.4 1-1 1.5-2.2 .5-1.1 .5-2.1 1.5-8.7 .5-.9 .5,1.2 1.5,8.2 .5,1.7 .5,.8 .5,.4 1-.2 8-2.4 2.5,.4 4,0V300H15.5z" fill="#fff" stroke="#858585"/>
<path d="M15.5,110.5l4-.3 2.5-.5 .5-.3 1.5-2.1 .5-.1 1,.9 .5-.3 .5-1.5 1.5-10.1 .5-.4 1.5,8.8 .5,1.5 1,1 1,.4 .5-.1 .5-.5 1-1.2 .5-.3 .5,.2 1,.9 .5,.3 2.5-1 1.5-1.1 .5,.3 1,1.3 .5,.3 .5-.1 .5-.5 1.5-3 .5-.5 .5,.2 1.5,3 .5,.2 1.5-1 .5,.2 1.5,1.5 1,.2 1.5-.1 .5-.4 .5-1.1 1-5.6 .5-1.6 .5,1.5 1,5.5 .5,1.2 .5,.3 1.5-.2 1.5-1.2 .5-.2 .5,.2 1,.8 1,.3 2,0 2.5-.4 3,0 .5-.2 .5-.8 .5-1.7 .5-3.5 1.5-15.3 .5-.4 1.5,14.4 .5,3.2 .5,1.4 .5,.8 1,1.2 1,.4 1-.2 2-2 .5,.1 1.5,1.3 .5-.1 2-1.4 1,.1 1.5,1.2 .5-.2 1-1.1 .5-.2 1,.9 .5,.1 .5-.9 .5-2.5 1.5-13.5 .5,.4 1.5,13.6 .5,2.3 .5,.9 .5,.2 .5-.1 1.5-1.1 .5,0 1.5,.8 1,.2 2,0 1-.3 1-1 .5-1.2 1-3.8 .5-.8 .5,1 1,4.3 .5,1.1 .5,.5 .5,.1 1-.2 1.5-1.2 .5-.1 1.5,1 1.5-.4 1.5,.7 1,.2 1-.2 1.5-1.2 .5-.1 1.5,1.2 1,.3 3,0 2-.3 3.5,.2 1-.4 .5-.7 .5-1.2 1.5-5.4 .5-.9 .5,.4 2,6.7 .5,.9 .5,.4 .5,.2 1,0 2-1.5 .5,.2 1,.9 1,.4 3.5-.6 1.5-.8 2-2.6 .5-1 .5-1.8 1.5-9 .5-1.2 .5,.8 1.5,8.1 .5,1.9 .5,1 .5,.4 1-.1 3.5-1.1 4.5-1.2 2.5,.3 4,0V300H15.5z" fill="#fff" stroke="#858585"/>
<path d="M15.5,111.5l4-.3 2.5-.4 .5-.4 1.5-2 .5-.1 1,.9 .5-.3 .5-1.5 1.5-10.1 .5-.4 1.5,8.7 .5,1.4 .5,.7 1.5,.9 .5-.1 .5-.4 1-1.2 .5-.3 .5,.1 1,1 .5,.2 2.5-1 1.5-1.1 .5,.3 1,1.3 .5,.4 .5-.1 .5-.5 1.5-2.9 .5-.4 .5,.3 1.5,2.8 .5,.2 1.5-1.1 .5,.2 1.5,1.5 1,.2 1.5-.1 .5-.4 .5-1.2 1-5.8 .5-1.6 .5,1.5 1,5.7 .5,1.2 .5,.3 1.5-.1 1.5-1.2 .5-.2 .5,.1 1,.8 1,.4 2-.1 2.5-.4 1.5,.2 1.5-.1 .5-.3 .5-.7 .5-1.8 .5-3.5 1.5-15.3 .5-.4 1.5,14.5 .5,3.3 .5,1.5 .5,.8 1,1 1,.3 1-.1 2-1.8 .5,.1 1.5,1.1 .5-.2 2-1.5 1,.2 1.5,1.1 .5-.2 1-1.1 .5-.2 1,1 .5,.1 .5-.9 .5-2.6 1.5-13.4 .5,.4 1.5,13.5 .5,2.3 .5,.9 .5,.2 .5-.1 1.5-.9 .5-.1 1.5,.7 1.5,.3 1.5-.1 1-.3 1-1.2 .5-1.2 1-3.7 .5-.8 .5,1.1 1,4.3 .5,1.2 .5,.4 1.5,0 1.5-1 .5-.1 1.5,.8 1.5-.3 2,.6 1,.1 1-.5 1-.8 .5-.1 1.5,1.1 1,.3 3,0 2-.3 2,.3 1.5-.1 1-.4 .5-.7 .5-1.2 1.5-5.4 .5-.9 .5,.4 2,6.7 .5,.9 .5,.4 1.5,.2 2-1.1 .5,.1 1,.7 1,.3 3.5-.6 1.5-.8 2-2.5 .5-1 .5-1.9 1.5-9 .5-1.2 .5,.8 1.5,8.1 .5,1.9 .5,1 .5,.4 1-.1 3.5-1.1 4.5-1.1 6.5,.2V300H15.5z" fill="#fff" stroke="#858585"/>
<path d="M15.5,113.5l4-.3 2.5-.4 .5-.3 1.5-2 .5,0 1,.8 .5-.3 .5-1.5 1.5-10.1 .5-.4 1.5,8.6 .5,1.4 1,1.1 1,.6 .5,0 .5-.4 1-1.2 .5-.3 .5,.1 1,1 .5,.2 .5-.1 1-.7 1-.3 1.5-1.1 .5,.3 1,1.4 .5,.4 .5-.1 .5-.5 1.5-2.7 .5-.3 .5,.4 1.5,2.6 .5,0 1.5-1.1 .5,.2 1.5,1.5 1,.2 1.5-.1 .5-.4 .5-1.2 1-5.9 .5-1.7 .5,1.5 1,5.8 .5,1.3 .5,.3 1.5-.1 1.5-1.2 .5-.2 .5,.1 1,.8 1,.4 2-.1 2.5-.6 1.5,.3 1.5-.1 .5-.3 .5-.7 .5-1.9 .5-3.5 1.5-15.3 .5-.3 .5,3.7 1,11 .5,3.3 .5,1.6 .5,.7 1,.9 1,.2 1-.1 2-1.5 .5,.1 1.5,.8 .5-.2 1.5-1.3 .5-.2 1,.2 1.5,1.1 .5-.2 1-1.1 .5-.2 1,.9 .5,.1 .5-.9 .5-2.6 1.5-13.4 .5,.4 1.5,13.6 .5,2.2 .5,.9 .5,.2 .5,0 1.5-.8 .5,0 1.5,.5 1.5,.2 1.5-.1 1-.4 1-1.3 .5-1.2 1-3.6 .5-.7 .5,1.1 1,4.3 .5,1.2 .5,.4 1.5,0 2-.8 1.5,.6 1.5-.2 2,.4 1,.1 1-.4 1-.8 .5-.1 1.5,1.1 1,.2 3,0 2-.4 2,.3 1.5,0 1-.4 .5-.7 .5-1.2 1.5-5.4 .5-.9 .5,.4 2,6.7 .5,.9 .5,.4 1.5,.2 2-.8 1.5,.6 1,.2 3.5-.6 1-.4 1-.8 1.5-2 .5-1 .5-2 1.5-9 .5-1.2 .5,.8 1.5,8.1 .5,1.9 .5,1 .5,.4 1-.1 4-1.3 4-.9 6.5,.2V300H15.5z" fill="#fff" stroke="#858585"/>
<path d="M15.5,114.5l4-.2 2.5-.5 .5-.3 1.5-1.9 .5,0 1,.9 .5-.4 .5-1.5 1.5-10 .5-.5 1.5,8.6 .5,1.3 1.5,1.6 .5,.3 .5-.1 .5-.3 1-1.2 .5-.3 .5,.1 1,1 .5,.2 .5-.1 1-.8 1-.2 1.5-1.1 .5,.3 1,1.4 .5,.4 .5-.1 .5-.5 1.5-2.5 .5-.2 .5,.4 1,1.8 .5,.6 .5,0 1.5-1.2 .5,.2 1.5,1.5 1,.2 1.5-.1 .5-.4 .5-1.3 1-6 .5-1.6 .5,1.5 1,5.9 .5,1.2 .5,.4 1.5-.2 1.5-1.2 .5-.2 .5,.2 1,.8 1,.3 2.5-.1 2-.7 1.5,.4 1.5-.1 .5-.3 .5-.8 .5-1.9 2-18.7 .5-.3 1.5,14.8 .5,3.4 .5,1.7 .5,.7 1.5,.8 1.5-.1 2-1.3 .5,0 1.5,.6 .5-.1 1.5-1.3 .5-.2 1,.2 1.5,1.1 .5-.2 1-1.1 .5-.1 1,.8 .5,.1 .5-.9 .5-2.6 1.5-13.5 .5,.4 1.5,13.6 .5,2.3 .5,.9 .5,.2 2.5-.7 3,.5 2-.2 1-.9 .5-.9 1.5-4.7 .5-.6 .5,1.1 1,4.3 .5,1.2 .5,.4 1.5,0 2-.6 1.5,.4 1.5-.2 2,.4 1,.1 1-.3 1-.7 .5-.1 1.5,.9 1,.2 3,0 2-.6 2,.5 1.5,0 1-.4 .5-.7 .5-1.2 1.5-5.4 .5-.9 .5,.4 2,6.7 .5,.9 .5,.4 1.5,.2 2-.6 2.5,.6 3.5-.6 1-.4 1-.7 1.5-1.9 .5-1.1 .5-2 1.5-9.1 .5-1.2 .5,.8 1.5,8.1 .5,1.9 .5,1 .5,.4 1-.1 4-1.3 4-.8 6.5,.1V300H15.5z" fill="#fff" stroke="#858585"/>
<path d="M15.5,116.5l4-.2 2.5-.4 .5-.4 1.5-1.8 .5,.1 1,.8 .5-.3 .5-1.6 1.5-10 .5-.4 1.5,8.5 .5,1.3 1.5,1.6 .5,.3 .5,0 .5-.3 1-1.2 .5-.3 .5,.2 1,.9 .5,.2 .5-.1 1-.8 1-.2 1.5-1 .5,.3 1,1.4 .5,.3 .5,0 .5-.5 1.5-2.4 .5-.2 .5,.4 1,1.8 .5,.4 .5,0 1-.9 .5-.3 .5,.3 1.5,1.4 1,.2 1.5-.1 .5-.4 .5-1.3 1-6 .5-1.7 .5,1.5 1,6 .5,1.2 .5,.4 1.5-.2 1.5-1.2 .5-.2 .5,.2 1,.7 1,.4 2.5-.2 1.5-.7 .5-.1 1.5,.5 1.5,0 .5-.4 .5-.8 .5-2 2-18.8 .5-.1 1.5,14.9 .5,3.4 .5,1.8 .5,.7 .5,.4 1,.3 1.5-.1 2.5-1.4 1.5,.5 .5-.1 1.5-1.2 .5-.1 1,.2 1.5,1 .5-.2 1-.9 .5-.1 1,.7 .5,0 .5-1 .5-2.6 1.5-13.4 .5,.4 1.5,13.5 .5,2.3 .5,.9 .5,.2 2.5-.6 3.5,.4 1.5-.2 .5-.4 1-1.5 1.5-4.6 .5-.7 .5,1.2 1,4.3 .5,1.2 .5,.4 1.5,.1 2-.5 1.5,.2 1.5-.3 2,.5 1,.1 2.5-.8 1.5,.6 1,.2 3,0 2-.7 .5,0 1.5,.6 1.5,0 1-.4 .5-.7 .5-1.2 1.5-5.4 .5-.9 .5,.4 2,6.7 .5,.9 .5,.4 1.5,.3 2-.5 2.5,.4 3.5-.6 1-.4 1-.6 1.5-1.8 .5-1.2 .5-2.1 1.5-9.1 .5-1.2 .5,.8 1.5,8.1 .5,1.9 .5,1 .5,.4 1-.1 4-1.3 4-.9 6.5,.2V300H15.5z" fill="#fff" stroke="#858585"/>
<path d="M15.5,117.5l6-.4 1-.5 1.5-1.8 .5,.1 1,.8 .5-.3 .5-1.6 1.5-10 .5-.4 1.5,8.5 .5,1.4 1.5,1.6 .5,.3 .5,0 .5-.4 1-1.2 .5-.2 .5,.2 1,.9 .5,.2 .5-.1 1-.7 1-.3 1.5-1 .5,.3 1,1.4 .5,.4 .5-.1 .5-.4 1.5-2.3 .5-.3 .5,.4 1,1.7 .5,.5 .5-.1 1-.9 .5-.3 .5,.3 1.5,1.4 1,.2 1.5-.1 .5-.4 .5-1.3 1-6 .5-1.7 .5,1.5 1,6 .5,1.2 .5,.4 1.5-.2 1.5-1.2 .5-.2 .5,.1 1,.8 1,.4 2.5-.3 1.5-.8 .5,0 1.5,.6 1.5-.1 .5-.3 .5-1 .5-2.1 2-18.7 .5-.1 1.5,15 .5,3.5 .5,1.8 .5,.7 .5,.3 1,.3 2-.3 2-1.3 .5,0 1,.5 .5,0 1.5-1.2 .5-.1 .5,.1 2,1.1 .5-.1 1-.8 .5-.1 1,.5 .5,0 .5-1 .5-2.6 1.5-13.5 .5,.4 1.5,13.6 .5,2.2 .5,.9 .5,.3 3.5-.6 2.5,.3 1.5-.2 .5-.4 1-1.6 1.5-4.5 .5-.7 .5,1.2 1,4.3 .5,1.2 .5,.4 1.5,.1 2-.5 1.5,.2 1.5-.6 1.5,.7 1,.2 1-.1 2-.5 2,.6 3,0 1-.2 1.5-.7 .5,0 1.5,.8 1.5,0 1-.4 .5-.7 .5-1.2 1.5-5.4 .5-.9 .5,.4 2,6.7 .5,.9 .5,.4 1.5,.3 2-.5 2.5,.4 3.5-.6 1.5-.6 1-.8 1-1.3 .5-1.2 .5-2.1 1.5-9.2 .5-1.2 .5,.8 1.5,8.1 .5,1.9 .5,1 .5,.4 1-.1 3.5-1.1 4.5-1.1 2.5,.2 4,0V300H15.5z" fill="#fff" stroke="#858585"/>
<path d="M15.5,118.5l6-.4 1-.5 1.5-1.7 .5,.1 1,.8 .5-.3 .5-1.6 1.5-10 .5-.4 1.5,8.6 .5,1.4 1.5,1.6 .5,.3 .5,0 .5-.4 1-1.2 .5-.2 .5,.1 1,1 .5,.2 .5-.1 1-.7 1-.2 1.5-.9 .5,.2 1,1.4 .5,.3 .5,0 .5-.4 1.5-2.3 .5-.3 .5,.3 1.5,2.1 .5,0 1.5-1.2 .5,.3 1.5,1.4 1,.2 1.5-.1 .5-.4 .5-1.3 1-5.9 .5-1.7 .5,1.5 1,5.9 .5,1.2 .5,.4 1.5-.2 2-1.4 .5,.1 1,.8 1,.3 2.5-.2 1.5-.9 .5-.1 1.5,.7 1.5-.1 .5-.4 .5-1 .5-2.2 2-18.6 .5,0 1.5,15.1 .5,3.5 .5,1.7 .5,.8 .5,.3 1,.2 2-.3 2-1.6 .5,0 1,.6 .5,.1 1.5-1 .5-.1 2.5,1.2 2-.9 1,.4 .5-.1 .5-1 .5-2.7 1.5-13.4 .5,.4 1.5,13.5 .5,2.3 .5,.9 .5,.2 4-.7 2,.4 1.5-.2 .5-.4 1-1.6 1.5-4.5 .5-.7 .5,1.2 1,4.3 .5,1.2 .5,.4 1.5,.1 2-.6 1.5,.2 1.5-.8 .5,.2 1,.7 1,.3 3-.5 2,.5 3.5-.1 2-1 .5,0 1.5,.9 1.5,.1 1-.4 .5-.7 .5-1.2 1.5-5.4 .5-.9 .5,.4 2,6.7 .5,.9 .5,.4 1.5,.3 2-.5 2.5,.4 4-.8 1.5-.7 1-.9 1-2 2-11.4 .5-1.2 .5,.8 1.5,8.1 .5,1.9 .5,1 .5,.4 1-.1 3.5-1.1 4.5-1.2 2.5,.3 4,0V300H15.5z" fill="#fff" stroke="#858585"/>
<path d="M15.5,120.5l6-.4 1-.5 1.5-1.6 .5,.1 1,.8 .5-.3 .5-1.6 1.5-10 .5-.4 1.5,8.7 .5,1.5 1,1.1 1,.7 .5-.1 .5-.3 1-1.2 .5-.3 .5,.2 1,1 .5,.2 2.5-.9 1.5-.9 .5,.2 1,1.3 .5,.3 .5,0 .5-.4 1.5-2.3 .5-.4 .5,.2 1.5,2.2 .5,.1 1.5-1.2 .5,.2 1.5,1.5 1,.2 1.5-.2 .5-.3 .5-1.3 1-5.8 .5-1.6 .5,1.4 1,5.8 .5,1.2 .5,.3 1.5-.2 2-1.4 .5,.2 1,.7 1,.4 2.5-.3 1.5-1 .5,0 1.5,.7 1.5-.1 .5-.4 .5-1 .5-2.3 2-18.7 .5,.1 1.5,15.1 .5,3.5 .5,1.8 .5,.7 .5,.3 1,.3 2-.3 2-1.9 .5-.1 1,.8 .5,.2 1.5-.9 .5,0 2,1 .5,.1 1.5-.6 .5-.1 1,.3 .5-.2 .5-1.1 .5-2.6 1.5-13.5 .5,.4 1.5,13.5 .5,2.3 .5,.9 .5,.2 1-.1 3-.8 2,.6 1.5-.2 .5-.4 1-1.5 1.5-4.6 .5-.6 .5,1.1 1,4.3 .5,1.2 .5,.4 1.5,0 2-.7 1.5,.3 1.5-1 .5,.2 1,.9 1,.4 3-.4 2,.4 3.5-.1 .5-.1 1.5-1 .5,0 1.5,1 1.5,.1 1-.4 .5-.7 .5-1.2 1.5-5.4 .5-.9 .5,.4 2,6.7 .5,.9 .5,.4 1.5,.2 2-.6 2.5,.6 4-.8 1.5-.6 1-.9 .5-.7 .5-1.4 2-11.4 .5-1.2 .5,.8 1.5,8.1 .5,1.9 .5,1 .5,.4 1-.1 8-2.5 2.5,.5 4,0V300H15.5z" fill="#fff" stroke="#858585"/>
<path d="M15.5,121.5l6-.3 1-.5 1.5-1.7 .5,.2 1,.8 .5-.4 .5-1.5 1.5-10 .5-.4 1.5,8.8 .5,1.5 1,1.2 1,.5 .5,0 .5-.4 1-1.2 .5-.2 .5,.2 1,1 .5,.2 2.5-.8 1.5-.9 .5,.2 1,1.2 .5,.3 .5,0 1-1 1-1.8 .5-.5 .5,.1 1.5,2.3 .5,.2 1.5-1.1 .5,.2 1.5,1.4 1,.2 1.5-.1 .5-.4 .5-1.2 1-5.7 .5-1.6 .5,1.5 1,5.6 .5,1.2 .5,.3 1.5-.2 2-1.5 .5,.2 1,.7 1,.4 2.5-.3 1.5-1 .5-.1 1.5,.8 1.5-.1 .5-.4 .5-1.1 .5-2.4 2-18.6 .5,.2 1.5,15.1 .5,3.4 .5,1.7 .5,.7 .5,.4 1,.3 1,0 1-.3 2-2.2 .5,0 1,.9 .5,.3 1.5-.8 .5,0 1.5,.8 1,.3 1.5-.5 1.5,.1 .5-.2 .5-1.1 .5-2.7 1.5-13.5 .5,.4 1.5,13.6 .5,2.2 .5,.9 .5,.2 1-.1 3-.8 2,.6 1.5-.2 1-.9 .5-.8 1.5-4.7 .5-.7 .5,1.1 1,4.3 .5,1.2 .5,.4 1.5,0 1.5-.9 .5-.1 1,.4 .5,0 1.5-1.2 .5,.3 1,1.1 1,.5 3-.3 2,.3 3.5-.1 .5-.1 1.5-1.1 .5,.1 1.5,1 1.5,.1 1-.4 .5-.7 .5-1.2 1.5-5.4 .5-.9 .5,.4 2,6.7 .5,.9 .5,.4 1.5,.2 2-.8 1.5,.6 1,.2 4-.8 1.5-.6 1-.8 .5-.8 .5-1.3 2-11.5 .5-1.2 .5,.8 1.5,8.1 .5,1.9 .5,1 .5,.4 1-.1 6.5-1.9 1.5-.7 2.5,.6 4,0V300H15.5z" fill="#fff" stroke="#858585"/>
<path d="M15.5,123.5l6-.3 1-.5 1.5-1.7 .5,.2 1,.8 .5-.3 .5-1.6 1.5-9.9 .5-.4 1.5,9 .5,1.5 1,1.1 1,.5 .5-.1 .5-.4 1-1.2 .5-.2 .5,.2 1,1 .5,.3 .5,0 2-.7 1.5-1 .5,.3 1,1.1 .5,.3 .5,0 .5-.3 .5-.7 1.5-2.6 .5,0 1.5,2.5 .5,.2 1.5-1 .5,.2 1.5,1.4 1,.2 1.5-.1 .5-.4 .5-1.1 1-5.6 .5-1.5 .5,1.4 1,5.5 .5,1.1 .5,.3 1.5-.2 2-1.5 .5,.2 1,.7 1,.4 2.5-.3 1.5-1 .5,0 1.5,.7 1.5-.1 .5-.4 .5-1.1 .5-2.4 2-18.6 .5,.1 1.5,15 .5,3.4 .5,1.6 .5,.8 1.5,.8 1,0 1-.3 2-2.5 .5,0 1,1.2 .5,.3 1.5-.8 .5,.1 1.5,.9 1,.2 2-.5 1,.1 .5-.3 .5-1.1 .5-2.7 1.5-13.5 .5,.4 1.5,13.6 .5,2.2 .5,.9 .5,.3 4-1.1 2.5,.8 1-.2 .5-.3 1-1.3 .5-1.2 1-3.6 .5-.8 .5,1.1 1,4.3 .5,1.2 .5,.4 1.5,0 1.5-1.2 .5-.1 1,.6 .5,0 1.5-1.4 .5,.3 1,1.3 1,.5 3-.2 2,.3 3.5-.1 .5-.1 1.5-1.1 .5,.1 1.5,1 1.5,.1 1-.4 .5-.7 .5-1.2 1.5-5.4 .5-.9 .5,.4 2,6.7 .5,.9 .5,.4 1.5,.2 2-1.2 .5,.2 1,.7 1,.3 4-.8 1.5-.6 1-.9 .5-.7 .5-1.3 2-11.5 .5-1.2 .5,.8 1.5,8.1 .5,1.9 .5,1 .5,.4 1-.1 6-1.8 2-.9 .5,0 2,.7 4,0V300H15.5z" fill="#fff" stroke="#858585"/>
<path d="M15.5,124.5l6-.3 1-.5 1.5-1.7 .5,.1 1,.9 .5-.3 .5-1.5 1.5-10 .5-.4 1.5,9.1 .5,1.7 .5,.7 1,.6 1,0 1.5-1.6 .5-.3 .5,.2 1.5,1.4 .5,0 2-.6 1.5-1 .5,.3 1,1 .5,.3 .5,0 .5-.3 .5-.7 1.5-2.9 .5,0 1.5,2.7 .5,.2 1.5-.9 .5,.2 1.5,1.4 1,.2 1.5-.1 .5-.4 .5-1.1 1-5.4 .5-1.5 .5,1.4 1,5.3 .5,1.1 .5,.3 1.5-.3 2-1.4 .5,.1 1,.8 1,.3 2.5-.2 1.5-.9 .5-.1 1.5,.6 1.5-.1 .5-.4 .5-1.1 .5-2.4 2-18.6 .5,.2 1.5,14.9 .5,3.2 .5,1.6 .5,.8 1,.8 1,.3 1-.2 .5-.3 2-2.7 .5,.1 1,1.3 .5,.4 1.5-.7 .5,0 1.5,.9 1,.2 2-.4 1,0 .5-.3 .5-1.1 .5-2.6 1.5-13.5 .5,.4 1.5,13.5 .5,2.2 .5,.9 .5,.3 .5-.1 2-.8 1.5-.3 2,.8 1,0 1-.3 1-1.2 .5-1.2 1-3.8 .5-.7 .5,1.1 1,4.2 .5,1.2 .5,.4 .5,.1 1-.2 1.5-1.4 .5-.2 1,.8 .5,.1 1.5-1.5 .5,.3 1,1.4 1,.6 1,0 2-.4 2,.5 3.5-.1 .5-.1 1.5-1 .5,0 1.5,1 1.5,.1 1-.4 .5-.7 .5-1.2 1.5-5.4 .5-.9 .5,.4 2,6.7 .5,.9 .5,.4 .5,.2 1,0 2-1.5 .5,.2 1,.9 1,.4 4-.8 1.5-.7 1-.8 .5-.8 .5-1.3 2-11.4 .5-1.2 .5,.8 1.5,8.1 .5,1.9 .5,1 .5,.4 1-.1 6-1.8 2-1 .5,0 2,.8 4,0V300H15.5z" fill="#fff" stroke="#858585"/>
<path d="M15.5,125.5l5-.2 1.5-.3 .5-.3 1.5-1.8 .5,.1 1,1 .5-.3 .5-1.5 1.5-10 .5-.4 1.5,9.3 .5,1.7 .5,.7 1,.5 1-.1 1.5-1.6 .5-.2 .5,.2 1.5,1.3 .5,.1 1.5-.4 2-1.2 .5,.3 1,.9 .5,.3 .5,0 .5-.3 .5-.6 1.5-3.2 .5-.2 1.5,3 .5,.3 1.5-.9 .5,.2 1.5,1.4 1,.2 1.5-.1 .5-.3 .5-1.1 1-5.3 .5-1.4 .5,1.3 1,5.2 .5,1 .5,.3 1.5-.2 2-1.5 .5,.2 1,.7 1,.4 2.5-.3 1.5-.8 .5-.1 1.5,.6 1.5-.1 .5-.4 .5-1.1 .5-2.4 2-18.6 .5,.1 1.5,14.8 .5,3.2 .5,1.5 .5,.7 1,1 1,.4 1-.2 .5-.3 1.5-2.4 .5-.5 .5,.2 1,1.4 .5,.4 1.5-.7 .5,0 1.5,.9 1,.2 2-.4 1,0 .5-.3 .5-1.1 .5-2.6 1.5-13.5 .5,.4 1.5,13.5 .5,2.3 .5,.8 .5,.2 1-.2 1-.6 1.5-.3 1,.1 1.5,.7 1,0 1-.3 1-1 .5-1.2 1-3.9 .5-.8 .5,1.1 1,4.2 .5,1.2 .5,.4 1,.1 .5-.2 1.5-1.7 .5-.2 1,.9 .5,.2 1.5-1.6 .5,.3 1,1.6 1,.6 1,0 2-.5 2,.6 3.5-.1 2-1 .5,0 1.5,.9 1.5,.1 1-.4 .5-.7 .5-1.2 1.5-5.4 .5-.9 .5,.4 2,6.7 .5,.9 .5,.4 .5,.2 1,0 .5-.3 1.5-1.5 .5,.2 1,1.1 1,.5 1.5-.2 2.5-.6 1.5-.7 1-1 1-2 .5-2.1 1.5-9.2 .5-1.2 .5,.8 1.5,8.1 .5,1.9 .5,1 .5,.4 1-.1 6-1.8 2-1 .5,0 2,.8 4,0V300H15.5z" fill="#fff" stroke="#858585"/>
<path d="M15.5,125.5l5-.2 1.5-.3 .5-.3 1.5-1.8 .5,.1 1,1 .5-.3 .5-1.5 1.5-10 .5-.4 1.5,9.3 .5,1.7 .5,.7 1,.5 1-.1 1.5-1.6 .5-.2 .5,.2 1.5,1.3 .5,.1 1.5-.4 2-1.2 .5,.3 1,.9 .5,.3 .5,0 .5-.3 .5-.6 1.5-3.2 .5-.2 1.5,3 .5,.3 1.5-.9 .5,.2 1.5,1.4 1,.2 1.5-.1 .5-.3 .5-1.1 1-5.3 .5-1.4 .5,1.3 1,5.2 .5,1 .5,.3 1.5-.2 2-1.5 .5,.2 1,.7 1,.4 2.5-.3 1.5-.8 .5-.1 1.5,.6 1.5-.1 .5-.4 .5-1.1 .5-2.4 2-18.6 .5,.1 1.5,14.8 .5,3.2 .5,1.5 .5,.7 1,1 1,.4 1-.2 .5-.3 1.5-2.4 .5-.5 .5,.2 1,1.4 .5,.4 1.5-.7 .5,0 1.5,.9 1,.2 2-.4 1,0 .5-.3 .5-1.1 .5-2.6 1.5-13.5 .5,.4 1.5,13.5 .5,2.3 .5,.8 .5,.2 1-.2 1-.6 1.5-.3 1,.1 1.5,.7 1,0 1-.3 1-1 .5-1.2 1-3.9 .5-.8 .5,1.1 1,4.2 .5,1.2 .5,.4 1,.1 .5-.2 1.5-1.7 .5-.2 1,.9 .5,.2 1.5-1.6 .5,.3 1,1.6 1,.6 1,0 2-.5 2,.6 3.5-.1 2-1 .5,0 1.5,.9 1.5,.1 1-.4 .5-.7 .5-1.2 1.5-5.4 .5-.9 .5,.4 2,6.7 .5,.9 .5,.4 .5,.2 1,0 .5-.3 1.5-1.5 .5,.2 1,1.1 1,.5 1.5-.2 2.5-.6 1.5-.7 1-1 1-2 .5-2.1 1.5-9.2 .5-1.2 .5,.8 1.5,8.1 .5,1.9 .5,1 .5,.4 1-.1 6-1.8 2-1 .5,0 2,.8 4,0" fill="none" stroke="#e48686" stroke-width="0.95"/>
<path d="M15.5,82.5l2.5-.2 2.5-.7 2,0 1.5-.3 1-.8 1-1.4 .5-.3 1.5,1.2 .5,.1 1-.2 2-.9 2,.1 2.5-.4 1-.4 1-1.1 .5-1.5 1.5-10.5 .5-1.2 .5,2 1,7.7 .5,2.5 .5,1 4.5-.6 .5,.1 1,.5 .5,0 1-1.1 .5-.2 .5,.2 1,1.3 .5,.3 .5-.1 1.5-1.7 .5-.8 1-4.2 .5-1.1 .5,1.5 1,5.3 .5,1.1 .5,.3 6-.2 1-.4 1-.9 .5-.2 2,1.1 3.5,.1 1-.6 1-1.3 .5-.3 1.5,.8 .5-.2 2.5-2.4 .5-1.3 .5-2.1 1.5-9.4 .5-1.6 .5,.9 2,14.1 .5,1.5 .5,.6 1,.4 1-.3 1-1 .5-.1 1,.5 .5-.1 1-.9 .5-.2 .5,.1 1.5,1.5 .5,.2 .5-.1 .5-.5 .5-1.4 1-3.8 .5-.5 1.5,3.6 .5,.4 .5-.9 1.5-6.9 .5,.4 1.5,7.6 .5,1.3 .5,.5 .5,.1 3,0 .5-.1 .5-.5 .5-1.2 1-4.3 .5-1.2 .5,.9 1,4.2 .5,1.3 .5,.6 .5,.2 1.5-.2 .5-.3 1-1.4 .5-.3 .5,.3 1,1.3 .5,.4 1,.1 .5-.2 1.5-1.8 .5-.3 .5,0 .5,.4 1.5,1.7 1,.3 1.5-.1 1-.4 2-2.3 .5-.2 .5,.2 1.5,1.9 1,.7 1,.1 1.5-.3 2.5,.4 4-.1 1-.6 1-1.4 .5-.3 .5,0 .5-.4 .5-1.5 1.5-10.1 .5-2 .5,.2 .5,2.3 1.5,10.1 .5,1.7 .5,.8 .5,.3 1,0 1.5-.6 2-2 .5-.1 1,.4 1,0 5.5-2.2 3.5-1 4.5-.6 1.5-.5 2,.5 1.5,.1" fill="none" stroke="#e48686" stroke-width="0.95"/>
<path d="M15.5,36.5l3.5-.3 3-.6 .5-.3 1.5-2.1 .5,0 1,.9 .5,.1 .5-.8 .5-1.9 1-6.3 .5-1.9 .5,.5 1.5,6.9 1,1.6 1,.7 .5-.1 .5-.4 1-1.3 .5-.3 .5,.2 1,.9 .5,.2 .5-.1 1-.7 1-.3 1.5-1.1 .5,.3 1,1.4 .5,.3 .5,0 .5-.5 1.5-2.7 .5-.4 .5,.4 1.5,2.6 .5,.1 1.5-1.1 .5,.2 1.5,1.5 1,.2 1.5-.1 .5-.4 .5-1.2 1-5.9 .5-1.6 .5,1.5 1,5.8 .5,1.3 .5,.3 1.5-.1 1.5-1.2 .5-.2 .5,.2 1,.8 1,.3 2,0 2.5-.5 1.5,.3 1.5-.2 .5-.3 .5-1.2 .5-2.5 1.5-16.3 .5-2.9 .5,1.5 1.5,16 .5,2.7 .5,1.1 .5,.5 1,.8 1,.3 1-.1 2-1.5 .5,0 1.5,.9 .5-.1 1.5-1.3 .5-.2 1,.2 1.5,1.1 .5-.2 1-1.1 .5-.1 1.5,1.4 .5,.1 .5-.7 .5-2 1.5-13.7 .5-1.3 .5,2.9 1,10 .5,3 .5,1.3 .5,.3 1.5-.6 .5-.1 1.5,.6 1.5,.2 1.5,0 1-.4 1-1.3 .5-1.2 1-3.6 .5-.7 .5,1.1 1,4.3 .5,1.1 .5,.5 .5,.1 1-.1 1.5-.8 .5,0 1.5,.6 1.5-.3 2,.5 1,.1 1-.4 1-.8 .5-.1 1.5,1.1 1,.2 3,0 2-.4 2,.3 1.5,0 1-.4 .5-.6 2-4.6 .5-.3 .5,.6 1.5,3.8 1,1.3 1,.3 1-.1 2-.9 2,.9 2.5-.3 2.5-.7 1-1 1-2.5 1.5-6.1 .5-1 .5,.5 1,2.1 .5-.3 1-2.4 .5,.1 1.5,5.1 .5,1 .5,.4 1-.1 3-1 4-.9 6.5,.2" fill="none" stroke="#e48686" stroke-width="0.95"/>
</g>
<rect x="125.6" y="6.5" width="44.4" height="123" fill="#ececec" stroke="none" stroke-width="0.8" style="mix-blend-mode:multiply"/>
<rect x="15.5" y="6.5" width="165" height="123" fill="none" stroke="#7a7a7a" stroke-width="0.8" />
<line x1="29.75" y1="129.5" x2="29.75" y2="127.5" stroke="#7a7a7a" stroke-width="0.8" />
<line x1="29.75" y1="6.5" x2="29.75" y2="8.5" stroke="#7a7a7a" stroke-width="0.8" />
<line x1="44.5" y1="129.5" x2="44.5" y2="127.5" stroke="#7a7a7a" stroke-width="0.8" />
<line x1="44.5" y1="6.5" x2="44.5" y2="8.5" stroke="#7a7a7a" stroke-width="0.8" />
<line x1="59.25" y1="129.5" x2="59.25" y2="127.5" stroke="#7a7a7a" stroke-width="0.8" />
<line x1="59.25" y1="6.5" x2="59.25" y2="8.5" stroke="#7a7a7a" stroke-width="0.8" />
<line x1="74" y1="129.5" x2="74" y2="127.5" stroke="#7a7a7a" stroke-width="0.8" />
<line x1="74" y1="6.5" x2="74" y2="8.5" stroke="#7a7a7a" stroke-width="0.8" />
<line x1="88.75" y1="129.5" x2="88.75" y2="127.5" stroke="#7a7a7a" stroke-width="0.8" />
<line x1="88.75" y1="6.5" x2="88.75" y2="8.5" stroke="#7a7a7a" stroke-width="0.8" />
<line x1="103.5" y1="129.5" x2="103.5" y2="127.5" stroke="#7a7a7a" stroke-width="0.8" />
<line x1="103.5" y1="6.5" x2="103.5" y2="8.5" stroke="#7a7a7a" stroke-width="0.8" />
<line x1="118.25" y1="129.5" x2="118.25" y2="127.5" stroke="#7a7a7a" stroke-width="0.8" />
<line x1="118.25" y1="6.5" x2="118.25" y2="8.5" stroke="#7a7a7a" stroke-width="0.8" />
<line x1="133" y1="129.5" x2="133" y2="127.5" stroke="#7a7a7a" stroke-width="0.8" />
<line x1="133" y1="6.5" x2="133" y2="8.5" stroke="#7a7a7a" stroke-width="0.8" />
<line x1="147.75" y1="129.5" x2="147.75" y2="127.5" stroke="#7a7a7a" stroke-width="0.8" />
<line x1="147.75" y1="6.5" x2="147.75" y2="8.5" stroke="#7a7a7a" stroke-width="0.8" />
<line x1="162.5" y1="129.5" x2="162.5" y2="127.5" stroke="#7a7a7a" stroke-width="0.8" />
<line x1="162.5" y1="6.5" x2="162.5" y2="8.5" stroke="#7a7a7a" stroke-width="0.8" />
<line x1="177.25" y1="129.5" x2="177.25" y2="127.5" stroke="#7a7a7a" stroke-width="0.8" />
<line x1="177.25" y1="6.5" x2="177.25" y2="8.5" stroke="#7a7a7a" stroke-width="0.8" />
<text x="29.75" y="137.9" font-size="6.3" text-anchor="middle" font-weight="normal" font-style="normal" fill="#111" stroke="#111" stroke-width="0.16" >1</text>
<text x="59.25" y="137.9" font-size="6.3" text-anchor="middle" font-weight="normal" font-style="normal" fill="#111" stroke="#111" stroke-width="0.16" >1.1</text>
<text x="88.75" y="137.9" font-size="6.3" text-anchor="middle" font-weight="normal" font-style="normal" fill="#111" stroke="#111" stroke-width="0.16" >1.2</text>
<text x="118.25" y="137.9" font-size="6.3" text-anchor="middle" font-weight="normal" font-style="normal" fill="#111" stroke="#111" stroke-width="0.16" >1.3</text>
<text x="147.75" y="137.9" font-size="6.3" text-anchor="middle" font-weight="normal" font-style="normal" fill="#111" stroke="#111" stroke-width="0.16" >1.4</text>
<text x="177.25" y="137.9" font-size="6.3" text-anchor="middle" font-weight="normal" font-style="normal" fill="#111" stroke="#111" stroke-width="0.16" >1.5</text>
<text x="97.5" y="148" font-size="6" text-anchor="middle" font-weight="normal" font-style="normal" fill="#111" stroke="#111" stroke-width="0.16" >d-spacing (Å)</text>
<text x="3.2" y="126.3" font-size="7.6" text-anchor="start" font-weight="normal" font-style="normal" fill="#111" stroke="#111" stroke-width="0.3" >(a)</text>
<text transform="translate(9.2,61) rotate(-90)" font-size="6.3" text-anchor="middle" fill="#111" stroke="#111" stroke-width="0.12">Intensity (I/I<tspan font-size="4.2" dy="1.3">0</tspan><tspan dy="-1.3">)</tspan></text>
<text x="16" y="23.3" font-size="6" text-anchor="start" font-weight="normal" font-style="normal" fill="#111" stroke="#111" stroke-width="0.16" >G (214)</text>
<line x1="28.6" y1="17.4" x2="30.2" y2="17.4" stroke="#111" stroke-width="0.5" />
<text x="41.6" y="25.2" font-size="6" text-anchor="start" font-weight="normal" font-style="normal" fill="#111" stroke="#111" stroke-width="0.16" >Cu (311)</text>
<text x="56" y="14.3" font-size="6" text-anchor="start" font-weight="normal" font-style="normal" fill="#111" stroke="#111" stroke-width="0.16" >G (212)</text>
<line x1="68.6" y1="8.4" x2="70.2" y2="8.4" stroke="#111" stroke-width="0.5" />
<text x="99.5" y="13.3" font-size="6" text-anchor="start" font-weight="normal" font-style="normal" fill="#111" stroke="#111" stroke-width="0.16" >G (210)</text>
<line x1="112.1" y1="7.4" x2="113.7" y2="7.4" stroke="#111" stroke-width="0.5" />
<text x="109.7" y="23" font-size="6" text-anchor="start" font-weight="normal" font-style="normal" fill="#111" stroke="#111" stroke-width="0.16" >Cu (220)</text>
<line x1="15.75" y1="160.6" x2="125.6" y2="129.2" stroke="#888" stroke-width="0.6" />
<line x1="122.2" y1="160.6" x2="170" y2="129.2" stroke="#888" stroke-width="0.6" />
<rect x="184.5" y="21.5" width="63" height="7.3" fill="#c7ddf3" stroke="none" stroke-width="0.8" />
<rect x="184.5" y="35" width="63" height="17.3" fill="#fcdcc0" stroke="none" stroke-width="0.8" />
<rect x="184.5" y="56.6" width="63" height="3.6" fill="#dbbdf2" stroke="none" stroke-width="0.8" />
<rect x="184.5" y="63.3" width="63" height="7.7" fill="#cdebd3" stroke="none" stroke-width="0.8" />
<rect x="184.5" y="76" width="63" height="4.2" fill="#dbbdf2" stroke="none" stroke-width="0.8" />
<rect x="184.5" y="85" width="63" height="23.5" fill="#fcdcc0" stroke="none" stroke-width="0.8" />
<rect x="184.5" y="115.7" width="63" height="8.6" fill="#c7ddf3" stroke="none" stroke-width="0.8" />
<line x1="195" y1="6.5" x2="195" y2="129.5" stroke="#dddddd" stroke-width="0.5" />
<line x1="205.5" y1="6.5" x2="205.5" y2="129.5" stroke="#dddddd" stroke-width="0.5" />
<line x1="216" y1="6.5" x2="216" y2="129.5" stroke="#dddddd" stroke-width="0.5" />
<line x1="226.5" y1="6.5" x2="226.5" y2="129.5" stroke="#dddddd" stroke-width="0.5" />
<line x1="237" y1="6.5" x2="237" y2="129.5" stroke="#dddddd" stroke-width="0.5" />
<text x="241.3" y="27.55" font-size="5.0" text-anchor="middle" font-weight="bold" font-style="normal" fill="#222" stroke="#222" stroke-width="0.05" >H1</text>
<text x="241.3" y="46.05" font-size="5.0" text-anchor="middle" font-weight="bold" font-style="normal" fill="#222" stroke="#222" stroke-width="0.05" >M</text>
<text x="241.3" y="60.8" font-size="5.0" text-anchor="middle" font-weight="bold" font-style="normal" fill="#222" stroke="#222" stroke-width="0.05" >H2</text>
<text x="241.3" y="69.55" font-size="5.0" text-anchor="middle" font-weight="bold" font-style="normal" fill="#222" stroke="#222" stroke-width="0.05" >H3</text>
<text x="241.3" y="80.5" font-size="5.0" text-anchor="middle" font-weight="bold" font-style="normal" fill="#222" stroke="#222" stroke-width="0.05" >H2</text>
<text x="241.3" y="99.15" font-size="5.0" text-anchor="middle" font-weight="bold" font-style="normal" fill="#222" stroke="#222" stroke-width="0.05" >M</text>
<text x="241.3" y="122.4" font-size="5.0" text-anchor="middle" font-weight="bold" font-style="normal" fill="#222" stroke="#222" stroke-width="0.05" >H1</text>
<path d="M247,124.2 241.8,123.9 231.6,122.6 225,121.5 220.3,119 216.2,116.5 214.5,111 213.9,107.7 212.7,103.9 211.4,98.8 209.5,95 206.3,86 201.1,75.7 196,69.7 193.4,67.3 196.8,66.8 201.1,66.3 204.5,57.7 208.6,51.1 212.8,42.5 216.3,34.8 218,30.5 221.4,26.3 225.7,23.2 230.5,21.6" fill="none" stroke="#3a3a3a" stroke-width="0.75"/>
<rect x="184.5" y="6.5" width="63" height="123" fill="none" stroke="#7a7a7a" stroke-width="0.8" />
<line x1="184.3" y1="129.5" x2="184.3" y2="127.5" stroke="#7a7a7a" stroke-width="0.8" />
<line x1="184.3" y1="6.5" x2="184.3" y2="8.5" stroke="#7a7a7a" stroke-width="0.8" />
<line x1="194.8" y1="129.5" x2="194.8" y2="127.5" stroke="#7a7a7a" stroke-width="0.8" />
<line x1="194.8" y1="6.5" x2="194.8" y2="8.5" stroke="#7a7a7a" stroke-width="0.8" />
<line x1="205.3" y1="129.5" x2="205.3" y2="127.5" stroke="#7a7a7a" stroke-width="0.8" />
<line x1="205.3" y1="6.5" x2="205.3" y2="8.5" stroke="#7a7a7a" stroke-width="0.8" />
<line x1="215.8" y1="129.5" x2="215.8" y2="127.5" stroke="#7a7a7a" stroke-width="0.8" />
<line x1="215.8" y1="6.5" x2="215.8" y2="8.5" stroke="#7a7a7a" stroke-width="0.8" />
<line x1="226.3" y1="129.5" x2="226.3" y2="127.5" stroke="#7a7a7a" stroke-width="0.8" />
<line x1="226.3" y1="6.5" x2="226.3" y2="8.5" stroke="#7a7a7a" stroke-width="0.8" />
<line x1="236.8" y1="129.5" x2="236.8" y2="127.5" stroke="#7a7a7a" stroke-width="0.8" />
<line x1="236.8" y1="6.5" x2="236.8" y2="8.5" stroke="#7a7a7a" stroke-width="0.8" />
<line x1="247.3" y1="129.5" x2="247.3" y2="127.5" stroke="#7a7a7a" stroke-width="0.8" />
<line x1="247.3" y1="6.5" x2="247.3" y2="8.5" stroke="#7a7a7a" stroke-width="0.8" />
<text x="184.3" y="138.2" font-size="6" text-anchor="middle" font-weight="normal" font-style="normal" fill="#111" stroke="#111" stroke-width="0.16" >5</text>
<text x="205.3" y="138.2" font-size="6" text-anchor="middle" font-weight="normal" font-style="normal" fill="#111" stroke="#111" stroke-width="0.16" >4</text>
<text x="226.3" y="138.2" font-size="6" text-anchor="middle" font-weight="normal" font-style="normal" fill="#111" stroke="#111" stroke-width="0.16" >3</text>
<text x="247.3" y="138.2" font-size="6" text-anchor="middle" font-weight="normal" font-style="normal" fill="#111" stroke="#111" stroke-width="0.16" >2</text>
<text x="215.5" y="148" font-size="6" text-anchor="middle" font-weight="normal" font-style="normal" fill="#111" stroke="#111" stroke-width="0.16" >Potential (V)</text>
<line x1="247.5" y1="124" x2="245.3" y2="124" stroke="#7a7a7a" stroke-width="0.8" />
<line x1="184.5" y1="124" x2="186.7" y2="124" stroke="#7a7a7a" stroke-width="0.8" />
<line x1="247.5" y1="109.92" x2="246.1" y2="109.92" stroke="#7a7a7a" stroke-width="0.8" />
<line x1="184.5" y1="109.92" x2="185.9" y2="109.92" stroke="#7a7a7a" stroke-width="0.8" />
<line x1="247.5" y1="95.85" x2="245.3" y2="95.85" stroke="#7a7a7a" stroke-width="0.8" />
<line x1="184.5" y1="95.85" x2="186.7" y2="95.85" stroke="#7a7a7a" stroke-width="0.8" />
<line x1="247.5" y1="81.78" x2="246.1" y2="81.78" stroke="#7a7a7a" stroke-width="0.8" />
<line x1="184.5" y1="81.78" x2="185.9" y2="81.78" stroke="#7a7a7a" stroke-width="0.8" />
<line x1="247.5" y1="67.7" x2="245.3" y2="67.7" stroke="#7a7a7a" stroke-width="0.8" />
<line x1="184.5" y1="67.7" x2="186.7" y2="67.7" stroke="#7a7a7a" stroke-width="0.8" />
<line x1="247.5" y1="53.62" x2="246.1" y2="53.62" stroke="#7a7a7a" stroke-width="0.8" />
<line x1="184.5" y1="53.62" x2="185.9" y2="53.62" stroke="#7a7a7a" stroke-width="0.8" />
<line x1="247.5" y1="39.55" x2="245.3" y2="39.55" stroke="#7a7a7a" stroke-width="0.8" />
<line x1="184.5" y1="39.55" x2="186.7" y2="39.55" stroke="#7a7a7a" stroke-width="0.8" />
<line x1="247.5" y1="25.48" x2="246.1" y2="25.48" stroke="#7a7a7a" stroke-width="0.8" />
<line x1="184.5" y1="25.48" x2="185.9" y2="25.48" stroke="#7a7a7a" stroke-width="0.8" />
<line x1="247.5" y1="11.4" x2="245.3" y2="11.4" stroke="#7a7a7a" stroke-width="0.8" />
<line x1="184.5" y1="11.4" x2="186.7" y2="11.4" stroke="#7a7a7a" stroke-width="0.8" />
<text x="250.5" y="126.1" font-size="6" text-anchor="start" font-weight="normal" font-style="normal" fill="#111" stroke="#111" stroke-width="0.16" >0</text>
<text x="250.5" y="97.95" font-size="6" text-anchor="start" font-weight="normal" font-style="normal" fill="#111" stroke="#111" stroke-width="0.16" >5</text>
<text x="250.5" y="69.8" font-size="6" text-anchor="start" font-weight="normal" font-style="normal" fill="#111" stroke="#111" stroke-width="0.16" >10</text>
<text x="250.5" y="41.65" font-size="6" text-anchor="start" font-weight="normal" font-style="normal" fill="#111" stroke="#111" stroke-width="0.16" >15</text>
<text x="250.5" y="13.5" font-size="6" text-anchor="start" font-weight="normal" font-style="normal" fill="#111" stroke="#111" stroke-width="0.16" >20</text>
<text x="188" y="126.3" font-size="7.6" text-anchor="start" font-weight="normal" font-style="normal" fill="#111" stroke="#111" stroke-width="0.3" >(b)</text>
<text transform="translate(264.7,67.6) rotate(-90)" font-size="6.2" text-anchor="middle" fill="#111" stroke="#111" stroke-width="0.12">Time (h)</text>
<g clip-path="url(#cc)" stroke-width="0.45">
<path d="M15.8,263l18-.2 15-.4 1.4-.5 1-.8 3-4.7 .6-.4 .4-.2 .6,.1 1,.9 3,4 1,.7 1.4,.5 2.6,.1 24-.5 6.4-2.1 1.6-1.8 2.4-5.4 1-1.5 1.6-.9 2.4-.9 1,.2 .6,.4 1,1.4 3,5.1 1,1.2 1,.8 1,.4 1.4,.3 7.6-.3 M15.8,261.7l18-.1 15-.5 1.4-.4 1-.8 3-4.7 .6-.5 .4-.1 .6,.1 1,.9 3,4 1,.7 1.4,.4 2.6,.1 24-.4 6.4-2.1 1.6-1.9 2.4-5.4 1-1.4 1.6-.9 2.4-1 1,.3 .6,.4 1,1.3 3,5.1 1,1.3 1,.8 1,.4 1.4,.2 7.6-.3 M15.8,260.5l18-.2 15-.4 1.4-.5 1-.8 3-4.7 .6-.4 .4-.2 .6,.2 1,.9 3,3.9 1,.7 1.4,.5 2.6,.1 24-.4 6.4-2.2 1.6-1.8 2.4-5.4 1-1.4 1.6-1 2.4-.9 1,.2 .6,.5 1,1.3 3,5.1 1,1.2 1,.8 1,.5 1.4,.2 7.6-.3 M15.8,259.3l18-.2 15-.4 1.4-.5 1-.8 3-4.7 .6-.4 .4-.2 .6,.1 1,.9 3,4 1,.7 1.4,.5 2.6,.1 24-.5 6.4-2.1 1.6-1.8 2.4-5.4 1-1.5 1.6-.9 2.4-.9 1,.2 .6,.4 1,1.4 3,5.1 1,1.2 1,.8 1,.5 1.4,.2 7.6-.3 M15.8,258l18-.1 15-.4 1.4-.5 1-.8 3-4.7 .6-.5 .4-.1 .6,.1 1,.9 3,4 1,.7 1.4,.5 2.6,.1 24-.5 6.4-2.1 1.6-1.9 2.4-5.3 1-1.5 1.6-.9 2.4-1 1,.3 .6,.4 1,1.4 3,5 1,1.3 1,.8 1,.4 1.4,.2 7.6-.3 M15.8,256.8l18-.2 15-.4 1.4-.4 1-.8 3-4.7 .6-.5 .4-.1 .6,.1 1,.9 3,3.9 1,.8 1.4,.4 2.6,.1 24-.4 6.4-2.1 1.6-1.9 2.4-5.4 1-1.4 1.6-.9 2.4-1 1,.2 .6,.5 1,1.3 3,5.1 1,1.2 1,.8 1,.5 1.4,.2 7.6-.3 M15.8,255.6l18.4-.2 14.6-.4 1.4-.5 1-.9 3-4.7 .6-.4 .4-.1 1,.6 3.6,4.5 1,.7 1.4,.4 2.6,.1 24-.4 5.4-1.8 1-.4 1.6-2 3-6.2 .4-.5 1-.7 3-1.1 1,.3 .6,.4 4,6.5 1,1.2 1,.8 1,.4 1.4,.2 7.6-.3 M15.8,254.4l21.4-.3 9.6-.2 2-.2 1-.4 1-.7 1-1.3 2-3.4 .4-.5 .6-.1 .4,.1 1,.8 3,3.9 1,.8 1.6,.5 2.4,.1 24.6-.5 5.4-1.8 1-.6 1.6-2.2 2-4.5 1-1.6 1.4-1 2.6-1 1,.2 .4,.4 1,1.4 3.6,5.8 1,1 1,.7 1,.3 1.4,.1 7.6-.3 M15.8,253.1l18-.2 14-.3 1.4-.5 1-.8 3-4.6 .6-.5 .4-.1 .6,.2 1,.8 3,3.9 1,.7 1.4,.5 2.6,.1 25-.5 2-.6 3-1.3 1-.6 1.4-2.1 2-4.4 1-1.7 1.6-1.2 1.4-.7 1-.2 1,.3 .6,.5 4,6.6 1,1.2 1,.8 1,.4 1.4,.2 8.6-.4 M15.8,251.9l20-.2 11.4-.4 1-.3 1-.7 1-1.3 2-3.2 1-.8 .6,.1 1,.7 2.4,3.3 1,1 1,.6 1,.2 2.6,.1 26-.4 2.4-.9 2-1.1 1-.8 1.6-2.2 2-4.4 1-1.6 1.4-1.2 2-.8 1,.2 .6,.4 1,1.4 3.4,6 1,1.2 1,.6 1,.4 1.6,.1 9-.5 M15.8,250.7l19.4-.2 11-.4 1-.3 1-.7 1-1.2 2-3.2 1-.8 .6,.1 1,.7 2.4,3.3 1,.9 1,.6 1,.2 3,.1 26.6-.5 2-.6 1.4-1.1 1-.9 1.6-2.1 3-6.2 1.4-1.3 1-.6 1-.3 1,.3 .6,.4 1,1.5 3,5.4 1,1.3 1.4,1.2 1,.4 1.6,.1 10-.6 M15.8,249.4l21-.2 8.4-.3 1-.4 1-.8 3-4.3 .6-.4 .4-.1 .6,.1 1,.8 3,3.7 1,.6 1.4,.5 2.6,0 28-.5 1-.3 1-.5 1.4-1.5 1.6-2.5 2.4-5.5 1-1.4 1.6-1.2 1.4-.5 1,.5 .6,.6 3.4,6.4 1,1.5 1,1 1,.6 1,.3 1.6,.1 6.4-.6 4.6-.2 M15.8,248.2l19-.2 9-.3 1-.3 1-.7 1-1.1 2-3.1 1-.7 .4,.1 1,.7 2.6,3.1 1,.9 1,.5 1,.2 2.4,.1 29-.5 1.6-.5 1.4-1.5 1-1.8 2.6-6.1 1-1.8 1.4-1.4 1.6-.6 1,.4 .4,.5 4,7.5 1,1.4 1.6,1.2 1,.3 1.4,.1 7.6-.7 5-.2 M15.8,247l18-.2 8.4-.3 1-.3 1-.6 1-1.1 2-3 1-.7 .6,0 1,.7 2.4,3 1,.9 1,.5 1,.2 3,.1 29.6-.5 1.4-.6 1-1.1 .6-.9 1-2.4 2-5.8 1-1.9 1.4-1.2 1-.3 1,.5 .6,.6 4,7.9 1,1.4 1.4,1.2 1,.4 1.6,.1 8.4-.9 5.6-.2 M15.8,245.7l18-.1 7-.3 1-.3 1-.6 1-1.1 2-2.9 1-.6 .4,.1 1,.6 3,3.4 1,.6 1.6,.5 2.4,.1 28.6-.5 2.4-.2 1-.5 .6-.4 1-1.6 1-2.6 2.4-7.8 1-1.4 1-.6 1,.3 1,1.2 4,8.5 1,1.4 1.6,1.3 1,.3 1.4,.1 9.6-1.1 6-.3 M15.8,244.5l18.4-.2 5-.2 1-.3 1-.7 3-3.8 1-.5 .6,.1 1,.7 3,3.2 1,.6 1.4,.4 33.6-.6 1.4-.6 1-1.2 .6-1 1-2.8 2-7.1 1-2.2 1-.9 .4,0 1,.9 4,9.4 1.6,2.3 1.4,1.2 1,.3 1.6,.1 10.4-1.2 6.6-.4 M15.8,243.3l18.4-.2 3.6-.2 1-.4 1-.7 2.4-3.2 1-.8 .6,0 1,.6 2.4,2.6 1,.8 1,.5 1.6,.3 32-.5 2-.1 1.4-.8 1-1.5 1-2.6 2.6-9 1-2 .4-.5 .6-.1 .4,.2 1,1.7 2.6,7.1 1.4,3.3 1,1.4 1.6,1.1 1,.3 1.4,0 11.6-1.4 7-.4 M15.8,242.1l16-.2 4-.2 1-.3 1-.5 3-3.6 1-.5 .4,.1 1,.6 3,3 1,.6 1.6,.3 33-.5 2-.2 1-.6 1-1.3 1-2.5 2.4-9.4 1-2.1 .6-.5 .4-.2 .6,.2 1,1.7 2.4,7.4 1.6,3.5 1,1.4 1.4,1.1 1,.2 1.6,0 12.4-1.6 7.6-.4 M15.8,240.8l15.4-.1 3-.2 1-.3 1-.7 2.6-2.9 1-.7 .4,0 1,.4 2.6,2.5 1,.7 1,.5 1.4,.3 33-.6 2-.2 1-.4 .6-.5 1-1.8 1-3.2 2-8.2 .4-1.3 1-1.2 .6,0 .4,.4 .6,.8 3.4,9.4 1,2.2 1,1.6 1.6,1.1 1,.2 1.4,0 13.6-1.8 8-.5 M15.8,239.6l14-.1 3-.3 1.4-.7 3-3.2 1-.4 .6,0 1,.6 3,2.7 1,.5 1.4,.3 35.6-.7 1-.3 .4-.4 1-1.7 1-3.3 2-8.8 .6-1.4 .4-.8 .6-.4 .4,.2 1,1.8 2.6,7 1.4,3.4 1.6,2.3 1,.9 1,.6 1,.2 1.4-.1 14.6-1.9 8-.5 M15.8,238.4l12.4-.1 2.6-.2 1-.3 1-.6 2.4-2.6 1-.7 .6,0 1,.4 3.4,2.9 1,.4 1.6,.3 34-.7 2-.1 1-.6 1-1.5 1-3.2 2-9.5 .4-1.6 .6-.9 .4-.3 .6,.3 .4,.8 2.6,7.8 1.4,3.7 1,1.5 1,1 1.6,1 1,.5 1.4,.3 1.6,0 15-2 8-.5 M15.8,237.1l11,0 2.4-.2 1-.3 1-.6 2.6-2.6 1-.5 .4,0 1,.5 2.6,2.1 1,.6 1,.4 1.4,.2 36-.8 1-.4 .6-.5 1-2.1 1-3.9 2-9.8 .4-1.1 .6-.3 .4,.3 1,2.3 3,10.1 1,1.9 .6,.6 1,.7 4,1.3 2,.2 16-2.1 8-.5 M15.8,235.9l9.4-.1 2.6-.1 1.4-.6 3-2.8 1-.4 .6,0 1,.5 2.4,2 1,.6 2.6,.5 34-.7 2.4-.2 1-.6 1-1.7 1-3.6 2-10.6 .6-1.5 .4-.5 .6,.2 1,2.3 2.4,9.3 1,2.7 1,1.7 1,.8 1,.2 2-.1 3,.7 2,0 15.6-2 8-.5 M15.8,234.7l8.4-.1 2.6-.3 1.4-.7 2.6-2.3 1-.5 1.4,.5 2.6,2 1,.5 2.4,.5 34-.7 2.6-.2 1-.4 .4-.5 1-2 1-4.1 2-10.6 .6-1 .4,0 .6,.7 .4,1.3 2.6,9.5 1,3 1,1.9 .4,.6 1,.7 1,.1 3-.5 3,.6 2,0 15.6-2 8-.5 M15.8,233.4l7.4,0 2-.2 1.6-.7 2.4-2.2 1-.5 .6,0 1,.4 3.4,2.4 2.6,.5 34.4-.7 2.6-.2 1-.5 .4-.5 1-2.1 1-4.3 1.6-8.5 .4-1.8 .6-.6 .4,.3 1,2.5 2,7.9 1,3.2 1.6,2.8 1.4,1.1 1.6,.1 2.4-.8 1-.2 3,.6 2,.1 15.6-2.1 8-.5 M15.8,232.2l6.4,0 2-.3 1.6-.7 2.4-2.1 1-.4 1.6,.5 2,1.5 1.4,.8 2.6,.4 34.4-.7 2.6-.2 1-.4 .4-.5 1-1.9 1-4.1 1.6-8.3 .4-1.7 .6-.4 .4,.4 .6,1 2.4,9.4 1,2.9 .6,1 1,1.3 1.4,.9 2,.1 3-.9 1-.2 3,.6 2,.1 15.6-2.1 8-.5 M15.8,231l5.4-.1 2-.2 1.6-.7 2.4-2 1-.4 1.6,.5 3,2 1.4,.5 1.6,.1 34.4-.7 3-.3 1-.5 .6-.6 1-2.3 2-9.9 .4-2 .6-.7 .4,.3 .6,.9 2.4,8.9 1,2.8 .6,.9 1,1.3 1.4,.7 2.6,.1 3.4-1.1 1-.1 3,.6 2,0 15.6-2 8-.5 M15.8,229.8l4.4-.1 2-.2 1.6-.6 2.4-2 1-.4 1.6,.4 3.4,2.2 2.6,.4 35-.7 3-.3 1-.5 1-1.5 1-3.4 1.4-7.6 .6-1.5 .4-.2 .6,.6 .4,1.1 2,7.1 1,2.8 .6,1 1,1.2 1.4,.7 1.6,.2 2-.1 3.4-1.1 1-.1 3,.5 2,.1 15.6-2.1 8-.4 M15.8,228.5l4,0 2-.2 1.4-.7 2.6-1.9 1-.3 1.4,.4 3,1.9 1.6,.4 1.4,.2 38-.9 1-.4 1-1.2 1-3.2 1.6-7.2 .4-1.4 .6-.2 .4,.6 .6,1.1 2,6.8 1,2.5 1,1.5 1.4,.8 2,.2 2.6-.1 3.4-1.1 1-.2 3,.6 2,.1 15.6-2.1 8-.5 M15.8,227.3l4-.1 2-.3 1.4-.8 2-1.5 1-.4 1.6,.4 3.4,2 2.6,.5 38.4-.9 1-.4 1-1.5 1-3.7 1-4.9 .6-1.8 .4-.5 .6,.3 .4,1 2,6.4 1,2.6 1,1.4 1.6,.8 2,.2 3-.1 3.4-1.2 1-.1 3,.6 2,0 15.6-2 8-.5 M15.8,224.8l4,0 2-.3 1.4-.8 2-1.6 1-.3 1.6,.3 3.4,2.1 2.6,.4 36-.8 2-.1 1-.5 1-1.5 1-3.1 1.4-6.1 .6-1.2 .4-.4 .6,.3 .4,.8 2.6,7.4 1,2.2 1,1.2 1.4,.7 2,.1 2.6-.1 3.4-1.1 1-.2 3,.6 2,.1 15.6-2.1 8-.5 M15.8,223.6l4,0 2-.3 1.4-.6 2.6-1.9 1-.3 1.4,.5 3,1.8 1.6,.4 1.4,.2 37.6-.9 1-.4 1-1.3 1-2.8 2-8.2 .4-.9 .6-.1 .4,.6 .6,1.1 2,6.5 1,2.6 1,1.6 .4,.5 1,.5 2,.2 2.6-.1 3.4-1.2 1-.1 3,.6 2,0 15.6-2 8-.5 M15.8,222.4l4.4-.1 2-.2 1.6-.6 2.4-1.9 1-.4 1.6,.4 2.4,1.7 1,.4 2.6,.4 35-.7 2.4-.2 1-.5 .6-.6 1-2.2 2-8.8 .4-1.8 .6-1 .4,.1 .6,.7 .4,1.2 2,7.1 1,2.8 1,1.7 .6,.5 1,.5 1.4,.2 2.6-.1 3.4-1.1 1-.1 3,.6 2,0 15.6-2 8-.5 M15.8,221.1l5.4,0 2-.3 1.6-.7 2.4-2 1-.2 1,.3 3.6,2.1 2.4,.6 35-.8 2.6-.1 1-.5 .4-.6 1-2.2 2.6-11.5 .4-1.3 .6-.2 .4,.5 .6,1.2 2.4,9.4 1,2.6 1,1.5 1.6,.9 1.4,.1 1.6-.1 4-1.2 1,0 3,.6 1.4,0 15.6-2.1 8-.5 M15.8,219.9l6.4,0 2-.3 1.6-.8 2.4-2 1-.2 1,.3 3.6,2.2 2.4,.5 35-.7 2.6-.3 1-.6 1-1.9 1-3.9 1.4-8.2 .6-1.9 .4-.9 .6,0 .4,.9 .6,1.4 2,8.4 1,3.3 1,2 .4,.6 1,.6 1,.2 1.6,0 3.4-1.1 1-.2 3,.6 2,.1 15.6-2.1 8-.5 M15.8,218.7l7.4-.1 2-.2 1.6-.7 2.4-2.1 1-.4 1.6,.5 2,1.5 1.4,.8 2.6,.4 34.4-.7 2.6-.3 1-.8 1-2.1 1-4.4 1.4-8.5 .6-1.9 .4-.8 .6,.1 .4,1 .6,1.5 2,8.8 1,3.4 1,2.1 .4,.6 1,.7 1,.2 1-.1 3-1 1-.1 3,.6 2,0 15.6-2 8-.5 M15.8,217.5l8-.1 2.4-.2 1.6-.6 3-2.5 1-.2 1,.3 3.4,2.4 2.6,.5 35-.7 2-.3 1-.7 1-2.1 1-4.4 1.4-8.7 .6-2 .4-.9 .6-.1 .4,.8 .6,1.5 3,12.5 1,2.3 .4,.7 1,.7 1.6,.1 2.4-.8 1-.1 3,.5 2,.1 15.6-2.1 8-.4 M15.8,216.2l9.4,0 2.6-.3 1.4-.7 2.6-2.2 1-.4 1.4,.3 3.6,2.4 2.4,.5 34.6-.7 2-.1 1-.7 1-1.8 1-4 2-10.8 .4-1.2 .6-.3 .4,.4 .6,1.2 2.4,10.4 1,3.3 1,1.9 1,.8 1,.1 3-.7 3,.6 2,.1 15.6-2.1 8-.5 M15.8,215l13-.2 1-.3 1-.5 2.4-2.3 1-.5 .6,0 1,.4 3.4,2.4 2.6,.6 36-.8 1-.5 .4-.5 1-2.4 2.6-12.6 .4-1.4 .6-.7 .4,0 .6,.8 .4,1.3 3,11.5 1,2.2 1,.9 1,.2 2-.2 3,.6 2,0 15.6-2 8-.5 M15.8,213.8l14.4-.3 1-.2 1-.6 2.6-2.3 1-.6 .4,0 1,.4 3.6,2.5 1,.4 1.4,.2 34-.6 2-.2 1-.6 1-1.8 1-3.9 1.6-7.9 .4-1.8 .6-.9 .4-.4 .6,.2 1,2.3 2,7.5 1,3 1,1.7 1,.8 4,1 2,.1 16-2 8-.5 M15.8,212.5l13.4-.1 3-.2 1.6-.6 3-2.9 1-.3 1.4,.6 3,2.4 1,.4 1.6,.2 34-.6 2-.2 1-.7 1-2.2 2.4-11.3 .6-1.2 .4-.8 .6-.2 .4,.3 .6,.9 2.4,7.9 1.6,3.5 1.4,1.7 2,1.1 1.6,.4 1.4,0 15.6-2.1 8-.5 M15.8,211.3l15-.1 3-.2 1-.4 1-.6 2.4-2.5 1-.5 .6,0 1,.5 2.4,2.1 1,.6 1,.4 1.6,.2 35-.8 1-.4 1-1.6 1-3.4 1.4-7 .6-1.5 1-1.5 .4-.1 .6,.3 1,1.8 2.4,6.9 1,2.3 1.6,2.3 1.4,1 1,.2 1.6,0 15-2 8-.5 M15.8,210.1l16-.2 3.4-.2 1-.2 1-.6 2.6-2.6 1-.6 .4-.1 1,.4 3.6,2.8 1,.4 1.4,.3 35-.7 1-.6 1-1.8 2.6-9.9 1-1.9 .4-.4 .6-.2 .4,.2 1,1.3 3,8 1,2.2 1,1.4 1,.7 1,.2 1.6-.1 14-1.8 8-.5 M15.8,208.8l21-.3 1-.2 1-.6 3-3.1 1-.4 .4,.1 1,.5 3,2.6 1,.5 1.6,.3 34.4-.6 1-.3 1-1.3 1-3 1.6-6.3 .4-1.3 1-1.5 1-.6 .6,0 .4,.4 .6,.8 1,2.3 2,5.7 1,2.2 1,1.2 1,.6 2,.1 13-1.8 8-.5 M15.8,207.6l22.4-.3 1-.3 1-.4 1-.9 2-2.3 1-.6 .6,.1 1,.4 2.4,2.3 1,.7 1,.4 1.6,.2 34-.6 1-.4 1-1.6 2.4-9.1 1-1.7 1-.8 .6-.1 .4,.1 .6,.5 .4,.7 3,7.5 1,1.9 1,1.2 1,.5 2,.1 12-1.6 7.6-.4 M15.8,206.4l19-.2 5.4-.3 1-.3 1-.6 2.6-2.8 1-.7 .4-.1 1,.5 3.6,3.1 1,.4 1.4,.3 33.6-.6 1-.3 1-1.3 1-3 1.4-5.9 .6-1 1-1 1-.3 1,.3 1,1.1 4,8.2 1,1.1 1,.6 2,.1 11-1.4 7-.4 M15.8,205.2l19-.3 7-.2 1-.3 1-.7 3-3.3 1-.3 1,.4 3.4,3.1 1,.5 1.6,.3 33-.5 1-.3 1-1.1 1-2.8 1.4-5.8 .6-1.1 1-.6 2.4,.3 1,.7 1,1.4 3,5.9 1,1.1 1,.5 2,.1 9.6-1.2 7-.3 M15.8,203.9l27-.4 1-.2 1-.5 1-.9 2.4-2.9 1-.3 1,.4 3.6,3.3 1,.4 1.4,.3 32.6-.5 1-.4 1-1.1 1-2.6 1.4-5.4 .6-.9 .4-.2 2,.2 1.6-.2 1,.3 1,1.3 3,5.6 1,1.1 1,.4 1.4,.1 9-1 6.6-.4 M15.8,202.7l17.4-.2 11-.3 1-.2 1-.6 1-.9 2-2.5 1-.7 .6,0 1,.6 2.4,2.5 1,.8 2,.6 2.6,.1 29-.5 1-.3 1-.5 1-1.1 1-2.3 1.4-4.8 .6-.8 .4-.1 2,.4 2-.8 .6,0 1,.8 3,5.5 1,1.2 1,.6 2,.2 8-.9 6-.3 M15.8,201.5l20-.3 10-.3 1-.3 1-.7 3-3.5 1-.4 .4,.1 1,.7 3,2.9 1,.6 1.6,.3 30-.5 2.4-.8 1-.7 .6-.6 1-2.1 1.4-4.4 .6-.6 .4-.1 2,.5 2.6-1.3 .4,0 1,1 2.6,4.7 1,1.4 1,.7 2,.2 7.4-.8 5.6-.2 M15.8,200.2l19.4-.2 11.6-.4 1-.2 1-.7 3-3.6 1-.5 .4,.1 1,.7 3,3 1,.6 1.6,.3 29-.4 1.4-.4 2-.8 1-.6 .6-.6 .4-.9 2-5.3 .6-.3 .4,0 1.6,.6 .4,0 .6-.2 2-1.6 .4,0 1,.9 3,5.4 1.6,1.3 1,.2 1,0 7-.7 5-.2 M15.8,199l17-.2 14.4-.3 1.6-.4 1-.7 3-3.7 1-.4 .4,.1 1,.7 3,3.1 1,.5 1.6,.4 28-.4 4.4-1.4 1-.6 1-1.8 1.6-4.3 .4-.5 .6-.1 1.4,.6 1,0 2.6-2.1 .4,.1 1,.9 2.6,4.7 1,1.2 1,.7 2,.2 6.4-.6 4.6-.2 M15.8,197.8l19-.2 13.4-.4 1-.3 1-.6 1-1 2-2.7 1-.6 .6,0 1,.6 2.4,2.8 1,.7 2,.7 2.6,.1 25-.5 3.4-1.1 2-.3 .6-.3 1-1.7 1.4-4.4 .6-.6 1,.1 1.4,.7 .6-.1 .4-.3 1.6-1.6 .4-.4 .6-.1 .4,.2 1,1.2 2.6,4.6 1.4,1.4 1,.2 1,.1 6-.6 4.6-.1 M15.8,196.5l19-.2 14-.4 1-.2 1-.6 1-1 2-2.7 1-.7 .4,.1 1,.6 2.6,2.7 1,.8 2,.7 2.4,.1 24.6-.5 3.4-1.1 2.6-.3 .4-.4 .6-.7 2-5.4 .4-.5 .6,.1 1.4,.7 1,.1 .6-.4 1.4-1.8 .6-.4 .4-.1 .6,.2 1,1.3 2.4,4.5 1.6,1.4 1,.3 1,0 10-.7 M15.8,195.3l17.4-.2 15.6-.4 1.4-.4 1-.6 3-3.8 1-.4 .6,.1 1,.7 3,3.2 1,.5 1.4,.4 26.6-.4 3.4-1.1 2.6-.2 .4-.2 1-1.6 1.6-4.4 .4-.8 1,.1 1.6,.8 .4,0 1-.7 1.6-1.8 .4-.3 .6,0 .4,.4 1,1.4 2,3.8 1,1.2 1,.6 2,.2 9.6-.6 M15.8,194.1l17.4-.2 15.6-.4 1.4-.4 1-.6 3-3.8 1-.5 .6,.1 1,.7 3,3.2 1,.6 1.4,.3 26.6-.3 3.4-1.2 2.6-.1 .4-.2 1-1.5 1.6-4.4 .4-.9 .6-.1 .4,.1 1.6,.9 .4,0 1-.6 1.6-1.9 .4-.3 .6,0 1,.9 2.4,4.6 1,1.2 1,.7 2,.2 9.6-.6 M15.8,192.9l17.4-.2 15.6-.4 1.4-.4 1-.7 3-3.7 1-.5 .6,.1 1,.7 3,3.2 1,.5 1.4,.4 26.6-.4 3.4-1.1 2.6-.2 .4-.2 1-1.5 1.6-4.4 .4-.8 .6-.1 .4,.1 1.6,.8 .4,.1 1-.7 1.6-1.8 .4-.4 .6,0 1,.9 2.4,4.7 1,1.2 1,.6 2,.3 9.6-.6 M15.8,191.6l17.4-.2 15.6-.4 1.4-.3 1-.7 3-3.8 1-.4 .6,.1 1,.7 3,3.1 1,.6 1.4,.4 26.6-.4 3.4-1.1 2.6-.2 .4-.2 1-1.5 1.6-4.4 .4-.8 .6-.1 .4,.1 1.6,.8 .4,0 1-.6 1.6-1.9 .4-.3 .6,0 1,.9 2.4,4.6 1,1.3 1,.6 2,.2 9.6-.6 M15.8,190.4l17.4-.2 15.6-.4 1.4-.4 1-.6 3-3.8 1-.5 .6,.1 1,.7 3,3.2 1,.6 1.4,.3 26.6-.3 3.4-1.2 2.6-.1 .4-.2 1-1.5 1.6-4.4 .4-.9 .6-.1 .4,.2 1.6,.8 .4,0 1-.6 1.6-1.9 .4-.3 .6,0 1,.9 2.4,4.6 1,1.2 1,.7 2,.2 9.6-.6 M15.8,189.2l17.4-.2 15.6-.4 1.4-.4 1-.6 3-3.8 1-.5 .6,.1 1,.7 3,3.2 1,.5 1.4,.4 26.6-.4 3.4-1.1 2.6-.1 .4-.3 1-1.5 1.6-4.4 .4-.8 .6-.1 .4,.1 1.6,.8 .4,.1 1-.7 1.6-1.8 .4-.4 .6,0 1,1 2.4,4.6 1,1.2 1,.6 2,.3 9.6-.6 M15.8,187.9l17.4-.1 15.6-.5 1.4-.3 1-.7 3-3.7 1-.5 .6,.1 1,.7 3,3.1 1,.6 1.4,.4 26.6-.4 3.4-1.1 2.6-.2 .4-.2 1-1.5 1.6-4.4 .4-.8 .6-.1 .4,.1 1.6,.8 .4,0 1-.6 1.6-1.9 .4-.3 .6,0 1,.9 2.4,4.6 1,1.3 1,.6 2,.2 9.6-.6" fill="none" stroke="#7a7a7a"/>
<path d="M15.8,264.2l18-.2 15-.4 1.4-.5 1-.8 3-4.7 .6-.4 .4-.2 .6,.2 1,.9 3,3.9 1,.7 1.4,.5 2.6,.1 24-.4 6.4-2.2 1.6-1.8 2.4-5.4 1-1.5 1.6-.9 2.4-.9 1,.2 .6,.5 1,1.3 3,5.1 1,1.2 1,.8 1,.5 1.4,.2 7.6-.3" fill="none" stroke="#e48686" stroke-width="0.95"/>
<path d="M15.8,226.1l4-.1 1.4-.2 1.6-.6 2.4-1.9 1-.3 1.6,.5 3,1.8 1.4,.4 1.6,.1 38.4-.8 1-.4 .6-.6 .4-1.1 .6-1.6 1.4-7 .6-1.5 .4-.3 .6,.5 .4,1 2,6.4 1,2.4 1,1.3 1.6,.7 2.4,.1 2.6-.2 3.4-1.1 1-.1 3,.6 2,0 15.6-2 8-.5" fill="none" stroke="#e48686" stroke-width="0.95"/>
<path d="M15.8,186.7l17.4-.2 15.6-.4 1.4-.4 1-.6 3-3.8 1-.5 .6,.1 1,.7 3,3.2 1,.6 1.4,.3 26.6-.3 3.4-1.2 2.6-.1 .4-.2 1-1.5 1.6-4.4 .4-.8 .6-.2 .4,.2 1.6,.8 .4,0 1-.6 1.6-1.9 .4-.3 .6,0 1,.9 2.4,4.6 1,1.2 1,.7 2,.2 9.6-.6" fill="none" stroke="#e48686" stroke-width="0.95"/>
</g>
<line x1="94.7" y1="232" x2="94.7" y2="267.1" stroke="#aaa" stroke-width="0.4" />
<rect x="15.75" y="160.6" width="106.45" height="106.5" fill="none" stroke="#7a7a7a" stroke-width="0.8" />
<line x1="33.4" y1="267.1" x2="33.4" y2="265.1" stroke="#7a7a7a" stroke-width="0.8" />
<line x1="33.4" y1="160.6" x2="33.4" y2="162.6" stroke="#7a7a7a" stroke-width="0.8" />
<line x1="51.1" y1="267.1" x2="51.1" y2="265.1" stroke="#7a7a7a" stroke-width="0.8" />
<line x1="51.1" y1="160.6" x2="51.1" y2="162.6" stroke="#7a7a7a" stroke-width="0.8" />
<line x1="68.8" y1="267.1" x2="68.8" y2="265.1" stroke="#7a7a7a" stroke-width="0.8" />
<line x1="68.8" y1="160.6" x2="68.8" y2="162.6" stroke="#7a7a7a" stroke-width="0.8" />
<line x1="86.5" y1="267.1" x2="86.5" y2="265.1" stroke="#7a7a7a" stroke-width="0.8" />
<line x1="86.5" y1="160.6" x2="86.5" y2="162.6" stroke="#7a7a7a" stroke-width="0.8" />
<line x1="104.2" y1="267.1" x2="104.2" y2="265.1" stroke="#7a7a7a" stroke-width="0.8" />
<line x1="104.2" y1="160.6" x2="104.2" y2="162.6" stroke="#7a7a7a" stroke-width="0.8" />
<line x1="121.9" y1="267.1" x2="121.9" y2="265.1" stroke="#7a7a7a" stroke-width="0.8" />
<line x1="121.9" y1="160.6" x2="121.9" y2="162.6" stroke="#7a7a7a" stroke-width="0.8" />
<text x="33.2" y="275.7" font-size="6" text-anchor="middle" font-weight="normal" font-style="normal" fill="#111" stroke="#111" stroke-width="0.16" >1.35</text>
<text x="68.6" y="275.7" font-size="6" text-anchor="middle" font-weight="normal" font-style="normal" fill="#111" stroke="#111" stroke-width="0.16" >1.4</text>
<text x="104" y="275.7" font-size="6" text-anchor="middle" font-weight="normal" font-style="normal" fill="#111" stroke="#111" stroke-width="0.16" >1.45</text>
<text x="68.7" y="285.7" font-size="6" text-anchor="middle" font-weight="normal" font-style="normal" fill="#111" stroke="#111" stroke-width="0.16" >d-spacing (Å)</text>
<text x="3.5" y="167.3" font-size="7.6" text-anchor="start" font-weight="normal" font-style="normal" fill="#111" stroke="#111" stroke-width="0.3" >(c)</text>
<text transform="translate(9.4,218.2) rotate(-90)" font-size="6.3" text-anchor="middle" fill="#111" stroke="#111" stroke-width="0.12">Intensity (I/I<tspan font-size="4.2" dy="1.3">0</tspan><tspan dy="-1.3">)</tspan></text>
<text x="54.8" y="181" font-size="6" text-anchor="middle" font-weight="normal" font-style="normal" fill="#111" stroke="#111" stroke-width="0.16" >(213)</text>
<line x1="54" y1="175.3" x2="55.6" y2="175.3" stroke="#111" stroke-width="0.5" />
<text x="95" y="168.8" font-size="6" text-anchor="middle" font-weight="normal" font-style="normal" fill="#111" stroke="#111" stroke-width="0.16" >(210)</text>
<line x1="94.2" y1="163.1" x2="95.8" y2="163.1" stroke="#111" stroke-width="0.5" />
<text x="77" y="178" font-size="6" text-anchor="start" font-weight="normal" font-style="normal" fill="#111" stroke="#111" stroke-width="0.16" >Al (220)</text>
<text x="101" y="174.3" font-size="6" text-anchor="start" font-weight="normal" font-style="normal" fill="#111" stroke="#111" stroke-width="0.16" >(108)</text>
<g clip-path="url(#cd)" stroke-width="0.45">
<path d="M140.2,261.6l16.5-.1 2.5-.2 1.5-.6 1.5-1 1.5-1.8 1.5-2.7 3.5-7.4 1-1.3 1-.5 1.5,.4 2,1.6 5.5,7.5 2.5,2.7 2.5,1.8 3,1.1 3,.4 4,.1 51.5,0 M140.2,260.4l16.5-.1 2.5-.3 1.5-.5 1.5-1 1.5-1.8 1.5-2.7 3.5-7.4 1-1.3 1-.5 1.5,.4 2,1.6 5.5,7.5 2.5,2.7 2.5,1.8 3,1.1 3,.3 4,.2 51.5,0 M140.2,259.2l16.5-.1 2.5-.3 1.5-.5 1.5-1 1.5-1.8 1.5-2.7 3.5-7.4 1-1.3 1-.5 1.5,.3 2,1.7 5.5,7.5 2.5,2.7 2.5,1.8 3,1.1 3,.3 4,.2 51.5,0 M140.2,258l16.5-.1 2.5-.2 1.5-.5 1.5-.9 1.5-1.7 1.5-2.6 3.5-7.4 1.5-1.8 1-.3 1.5,.5 1.5,1.3 1.5,1.8 4.5,6.2 2.5,2.6 2.5,1.7 3,.9 3,.4 4,.1 51,0 M140.2,256.8l17.5-.1 2.5-.3 1.5-.5 1.5-1.1 1-1.2 1.5-2.4 4-8.1 1-1.1 1-.4 1.5,.4 2,1.7 5.5,7.3 2.5,2.7 2.5,1.6 3,1 3,.4 4,.1 50.5,0 M140.2,255.6l18.5-.1 2.5-.3 1.5-.5 1.5-1.1 1.5-1.8 5-9.4 1-1.2 1-.4 1.5,.5 2,1.6 5.5,7.1 2.5,2.5 2.5,1.7 3,.9 3,.4 4,.1 49.5,0 M140.2,254.4l19.5-.1 2.5-.2 1.5-.4 1.5-.9 1.5-1.6 1.5-2.3 3.5-6.7 1.5-1.7 1-.3 1.5,.5 2,1.6 5.5,6.7 2.5,2.4 2.5,1.5 3,1 3,.3 4,.2 48,0 M140.2,253.2l20.5-.1 2.5-.1 2-.5 1.5-.8 1.5-1.4 1.5-2.2 4-7.1 1-1 1-.3 1.5,.4 2,1.2 6.5,6.9 2.5,2.1 2.5,1.4 3,.9 3,.4 4.5,.2 45,0 M140.2,252l22,0 2.5-.2 2-.3 2-1 1.5-1.5 1.5-2.2 3.5-6 1-1.1 1-.4 2,.3 2,1 2,1.6 5,4.6 3,2.3 3,1.4 3,.9 3.5,.4 5,.1 40.5,.1 M140.2,250.8l24-.1 2.5-.1 2-.3 1.5-.7 1.5-1.2 1.5-1.9 4-6.3 1-1 1-.4 2,.3 2.5,1 2.5,1.7 5.5,4.2 3.5,2.1 3,1.2 3,.8 4,.4 5,.2 36,.1 M140.2,249.6l26-.1 2.5-.1 2-.3 1.5-.7 1.5-1.1 1.5-1.8 4-6 1-.9 1-.3 2,.2 2.5,.8 2.5,1.3 6.5,4.1 3,1.6 3.5,1.4 4,1 4,.5 5.5,.3 31.5,.1 M140.2,248.4l27.5-.1 4.5-.3 2-.7 1.5-1.1 1.5-1.7 4-5.6 1-.8 1-.3 2.5,.2 3,.9 3,1.3 6.5,3.4 3.5,1.6 4,1.4 4,.9 4.5,.5 5.5,.3 26.5,.1 M140.2,247.2l29.5-.1 4.5-.3 2-.8 1.5-1.1 1.5-1.6 3.5-4.8 1.5-1.2 1-.2 3,.3 3,.8 3,1.1 11.5,4.8 4,1.2 4,.9 4.5,.5 6,.3 22,.2 M140.2,246l31-.1 4.5-.3 2-.6 1.5-1 1.5-1.5 4-5.1 1-.8 1-.3 3.5,.3 3.5,.8 3.5,1.1 11.5,4.3 4,1.1 4.5,.9 5,.6 5.5,.4 18.5,.2 M140.2,244.8l32.5-.1 4.5-.2 2-.7 1.5-.9 1.5-1.5 4-5 1-.8 1-.2 3.5,.2 4,.7 4,1.2 12,4 4,1 4.5,.9 5,.6 5.5,.4 15.5,.3 M140.2,243.5l34,0 4.5-.3 2-.7 1.5-1 1.5-1.6 3.5-4.4 1.5-1.1 1-.2 3.5,.2 4,.7 16,4.6 12,2.5 8.5,1 12.5,.3 M140.2,242.3l34.5,0 4.5-.2 2-.6 1.5-.9 2-2 3.5-4.4 1.5-1.1 1-.1 4,.3 4,.6 13,3.5 18,3.9 6.5,.7 10,.3 M140.2,241.1l35,0 4.5-.2 2-.6 1.5-.9 2-2 3.5-4.4 1.5-1.1 1-.1 4,.2 4,.7 10.5,2.5 10.5,1.9 8,2.3 3.5,.7 5.5,.6 9,.3 M140.2,239.9l35,0 4.5-.2 2-.6 1.5-.8 2-2 4-4.9 1-.7 1-.1 6,.5 12,2.6 10,1.3 3,.8 6.5,2.2 4,1 5.5,.6 8,.2 M140.2,238.7l35,0 4.5-.2 2-.6 1.5-.8 2-2 4-4.9 1-.7 1-.1 6,.5 12,2.4 8,.5 2.5,.4 3,.9 6.5,2.7 4.5,1.1 5,.5 7.5,.2 M140.2,237.5l35,0 4.5-.2 2-.6 1.5-.8 2-2 4-4.9 1-.7 1-.1 6,.5 11.5,2.2 3,.1 5-.1 2.5,.2 3,.9 6.5,3.1 4,1.3 5,.7 8.5,.3 M140.2,236.3l35,0 4.5-.2 2-.6 1.5-.8 2-2 4-4.9 1-.7 1-.1 5.5,.4 8.5,1.6 3,.4 3,.1 5.5-.5 2.5,.1 3,.9 6.5,3.6 4,1.5 5,.8 8.5,.3 M140.2,235.1l35,0 4.5-.2 2-.6 1.5-.8 2-2 4-4.9 1-.7 1-.1 5.5,.4 8,1.5 3,.4 3-.1 6.5-1 2.5,.1 2.5,.9 7,4.4 3.5,1.4 2.5,.6 2.5,.3 8.5,.3 M140.2,233.9l35,0 4.5-.2 2-.6 1.5-.8 2-2 4-4.9 1-.7 1-.1 5,.3 8.5,1.5 3,.3 3.5-.3 5.5-1.3 1.5-.1 1.5,.1 1.5,.4 1.5,.8 6.5,4.6 3.5,1.6 2.5,.6 2.5,.4 8.5,.3 M140.2,232.7l34.5,0 4.5-.2 2-.4 2-1 2-2 3.5-4.4 1-.9 1-.4 5,.3 8.5,1.4 3.5,.3 3-.4 5.5-1.6 2.5-.4 2,.4 1.5,.7 7,5.4 1.5,.9 2,.8 2.5,.7 2.5,.3 8.5,.4 M140.2,231.5l34.5,0 4.5-.2 2-.4 2-1 2-1.8 3.5-4.2 1-.8 1-.4 4.5,.2 9,1.6 3.5,.1 3-.5 5.5-2.1 2.5-.5 2,.3 1.5,.7 1.5,1.1 5.5,4.7 1.5,.9 2,.9 2.5,.7 2.5,.3 8.5,.3 M140.2,230.3l35,0 4.5-.2 2-.5 2-1 1.5-1.3 3.5-3.6 1.5-1 1-.1 3.5,.2 9,1.4 3.5,.2 3-.6 6.5-2.9 2.5-.5 1.5,.3 2,1 6.5,5.5 1.5,1 2,.9 2,.6 2.5,.3 9,.3 M140.2,229.1l35,0 4.5-.2 2-.3 2-.9 1.5-1.1 3.5-3 1.5-.8 1-.1 3,.1 9.5,1.5 3.5,.1 2-.4 1.5-.6 6.5-3.5 1.5-.4 1-.1 1.5,.4 1.5,.7 6.5,5.6 1.5,1 2,.9 2,.6 2.5,.3 9,.2 M140.2,227.9l35,0 5-.2 2-.4 1.5-.5 5-3.3 2-.7 4.5,.2 8.5,1.3 2,.1 2-.2 1.5-.5 2-.9 6-3.8 1.5-.6 1-.1 1.5,.3 1.5,.7 6.5,5.6 1.5,1 2,1 2,.5 2.5,.3 9,.2 M140.2,226.7l35,0 5-.1 2-.4 1.5-.4 5-2.7 2-.5 4.5,.2 8,1.2 3-.1 2-.4 1.5-.6 2-1.2 5-3.6 1.5-.7 1.5-.3 1.5,.2 1.5,.7 1.5,1.2 5,4.5 1.5,1 2,1 2,.5 2.5,.3 9,.2 M140.2,224.3l39-.1 4-.6 5.5-2.1 2-.4 4,.2 8,1.1 3,0 2-.4 2-.8 2-1.3 5-3.8 2-.9 1.5-.2 1.5,.3 1.5,.9 6,5.2 1.5,.9 2,1 2,.5 2.5,.3 9,.2 M140.2,223.1l39-.1 2-.3 2-.6 5.5-2.9 2-.5 4.5,.4 8,1.6 3.5,.1 2-.5 2-.9 6.5-4.3 1.5-.6 1.5-.2 1.5,.4 1.5,.8 6,4.8 1.5,1 2,.8 2,.5 2.5,.3 9,.2 M140.2,221.9l34,0 5-.2 2-.4 2-.7 1.5-.9 4-3 1-.5 1-.2 4,.3 8.5,2.5 2,.4 2,0 1.5-.2 2-.7 7-3.9 1.5-.4 1,0 1,.1 1.5,.6 6.5,4.7 1.5,.8 2,.8 2,.5 2.5,.3 9,.1 M140.2,220.7l34,0 5-.3 2-.4 2-1 1.5-1.2 4-3.8 1.5-.8 1-.1 2,.2 2,.5 8.5,3.2 3.5,.7 2-.1 2-.5 6.5-2.9 1.5-.3 1.5,0 2.5,.9 6,3.8 3.5,1.3 4.5,.7 9,.1 M140.2,219.5l34,0 5-.3 2-.6 2-1.1 1.5-1.4 4-4.5 1.5-.9 1-.2 2,.3 2.5,.7 8,3.8 3.5,1 1.5,.1 2-.1 6.5-2.1 3-.3 2.5,.5 6.5,3.3 3.5,1.2 4.5,.5 9,.1 M140.2,218.3l34,0 3-.1 2-.3 2-.7 1.5-1 2-2 3.5-4.3 1.5-1.1 1-.2 2,.2 2.5,.7 8.5,4.5 2,.8 2,.5 1.5,.2 2-.1 6.5-1.3 3-.1 2.5,.5 6.5,2.6 3,.7 4.5,.4 9,.1 M140.2,217.1l33,0 5-.4 2-.6 1.5-.9 2-1.9 4-4.9 1.5-1 1-.1 2,.2 2.5,.9 9,4.8 2.5,1 2,.5 3.5,.2 6-.8 3-.1 2.5,.4 6.5,1.8 3,.5 4.5,.3 9,.1 M140.2,215.9l32,0 5-.4 2-.6 1.5-1 2-1.9 4-4.9 1-.7 1-.3 2,.2 2.5,.7 2.5,1.2 8,4.4 2.5,1 2.5,.6 3.5,.2 6-.4 2.5-.1 12,1.8 13.5,.2 M140.2,214.7l31,0 3-.1 2-.3 2-.8 1.5-1 1.5-1.5 4-4.9 1.5-1.1 1-.1 2,.2 2.5,.8 10,5.6 3,1.2 3,.7 4,.4 9.5-.1 11.5,.9 13,.1 M140.2,213.5l29.5,0 3-.1 2-.3 2-.7 1.5-1 1.5-1.5 4-5 1.5-1.1 1-.1 2,.2 2,.6 2.5,1.2 5.5,3.3 3,1.6 3,1.2 3.5,.8 6,.5 32.5,.4 M140.2,212.3l28,0 3-.2 2-.2 2-.7 1.5-1 1.5-1.5 4-5 1.5-1.2 1-.2 2.5,.4 2.5,1 7.5,4.5 3.5,1.8 3,1 3,.6 3.5,.4 5,.2 31,.1 M140.2,211.1l27-.1 4.5-.3 2-.7 1.5-1 2-2.1 3.5-4.6 1.5-1.2 1-.2 2,.2 2.5,.9 2.5,1.5 5.5,3.6 3,1.5 3,1.1 3,.7 4,.5 5,.1 32.5,.1 M140.2,209.9l26-.1 2.5-.1 2-.3 2-.8 1.5-1.1 1.5-1.7 4-5.2 1.5-1.1 1-.2 2,.4 2.5,1 7.5,5.1 3,1.6 3,1.2 3,.7 3.5,.3 5,.2 34.5,.1 M140.2,208.7l25-.1 2.5-.1 2-.3 2-.9 1.5-1.2 1.5-1.6 4-5.5 1.5-1.2 1-.1 2,.4 2,.9 2,1.3 5.5,4.1 3,1.7 3,1.3 3,.7 3.5,.4 5,.1 36,.1 M140.2,207.5l24.5-.1 2.5-.1 2-.4 2-1 1.5-1.2 1.5-1.9 3.5-5.1 1.5-1.4 1-.3 2,.4 2.5,1.2 7,5.4 3,1.9 3,1.3 3,.7 3.5,.4 5,.1 37,.1 M140.2,206.3l24-.1 2.5-.1 2-.4 2-.9 1.5-1.2 1.5-1.8 4-6 1.5-1.3 1-.1 2,.4 2,1.1 6.5,5.4 3,2.1 3,1.5 3,.8 3.5,.4 4.5,.1 38.5,.1 M140.2,205l24,0 2.5-.1 2-.4 2-1 1.5-1.3 1.5-1.9 4-6.2 1.5-1.3 1-.1 2,.5 2,1.2 6.5,5.9 2.5,1.8 3,1.5 3,.9 3.5,.4 4.5,.1 39,0 M140.2,203.8l24,0 2.5-.2 2-.4 1.5-.7 1.5-1.3 2-2.6 3.5-5.8 1.5-1.5 1-.3 2,.4 2,1.3 6.5,6.3 2.5,1.9 3,1.6 3,.8 3,.4 4.5,.1 40,0 M140.2,202.6l23.5,0 2.5-.1 2-.5 2-1 1.5-1.5 1.5-2.1 4-6.6 1-1 1-.4 2,.4 2,1.3 6,6.1 3,2.6 2.5,1.3 3,1 3,.3 4.5,.2 41,0 M140.2,201.4l23,0 2.5-.1 2-.5 2-1 1.5-1.5 1.5-2.1 4-6.8 1.5-1.4 1-.2 1.5,.4 2,1.4 6,6.5 2.5,2.2 2.5,1.5 3,1 3,.4 4.5,.2 42,0 M140.2,200.2l22.5,0 2.5-.2 2-.4 2-1.1 1.5-1.5 1.5-2.2 4-6.9 1-1.1 1-.4 1.5,.2 2,1.2 2,2 4.5,5.2 2.5,2.2 2.5,1.5 3,1 3,.4 4.5,.1 42.5,0 M140.2,199l22,0 2.5-.2 2-.4 2-1.2 1.5-1.5 1.5-2.3 3.5-6.2 1.5-1.8 1-.4 1.5,.3 2,1.3 1.5,1.5 5,5.8 2.5,2.2 2.5,1.5 3,.9 3,.4 4.5,.1 43,0 M140.2,197.8l21.5,0 2.5-.2 2-.5 1.5-.8 1.5-1.4 2-2.9 3.5-6.2 1.5-1.7 1-.3 1.5,.4 2,1.3 6,6.8 2.5,2.3 2.5,1.6 3,1 3,.4 4.5,.2 44,0 M140.2,196.6l21,0 2.5-.2 2-.6 2-1.2 1.5-1.7 1.5-2.4 3-5.4 1-1.4 1-.9 1-.2 1.5,.4 2,1.5 6,6.8 2.5,2.3 2.5,1.5 3,1 3,.3 4.5,.2 44.5,0 M140.2,195.4l20,0 2.5-.2 2-.4 2-1.2 1.5-1.5 1.5-2.2 4-7 1-1 1-.5 1.5,.3 2,1.2 2,2.1 4.5,5.2 2.5,2.3 2.5,1.4 3,1 3,.4 4.5,.1 45,0 M140.2,194.2l19.5,0 2.5-.2 2-.5 1.5-.8 1.5-1.3 2-2.9 3.5-6.3 1.5-1.6 1-.4 1.5,.3 2,1.4 1.5,1.5 5,5.8 2.5,2.2 2.5,1.4 3,.9 3,.4 4.5,.1 45.5,0 M140.2,193l19,0 2.5-.2 2-.5 1.5-.8 1.5-1.5 1.5-2 4-7.1 1.5-1.6 1-.3 1.5,.4 2,1.3 6,6.8 2.5,2.4 3,1.7 3,.9 3,.4 4.5,.1 46,0 M140.2,191.8l18.5,0 2.5-.2 2-.5 1.5-.9 1.5-1.4 1.5-2.1 4-7 1.5-1.6 1-.3 1.5,.4 2,1.4 6,6.8 2.5,2.3 3,1.7 3,.9 3,.4 4.5,.1 46.5,0 M140.2,190.6l18,0 2.5-.2 2-.5 1.5-.8 1.5-1.4 2-2.9 3.5-6.3 1.5-1.6 1-.3 1.5,.4 2,1.3 6,6.8 3,2.7 2.5,1.4 3,.9 3,.4 4.5,.1 47,0 M140.2,189.4l18,0 2.5-.3 2-.6 1.5-.9 1.5-1.6 1.5-2.2 3.5-6.2 1.5-1.8 1-.4 1.5,.3 2,1.3 2,2 4.5,5.3 2.5,2.2 2.5,1.5 3,.9 3,.3 4.5,.2 47.5,0 M140.2,188.2l17.5,0 2.5-.2 2-.6 1.5-.8 1.5-1.4 1.5-2.1 4-7.1 1.5-1.5 1-.3 1.5,.4 2,1.4 6,6.8 2.5,2.3 3,1.7 3,.9 3,.4 4.5,.1 47.5,0" fill="none" stroke="#6a6a6a"/>
<path d="M140.2,262.8l16.5-.1 2.5-.2 1.5-.6 1.5-1 1.5-1.8 1.5-2.7 3.5-7.4 1-1.3 1-.5 1.5,.4 2,1.6 5.5,7.5 2.5,2.7 2.5,1.8 3,1.1 3,.4 4,.1 51.5,0" fill="none" stroke="#e48686" stroke-width="0.95"/>
<path d="M140.2,225.5l40-.1 3.5-.7 5-2.4 2-.5 4,.1 8.5,1.2 3-.1 2-.5 2-.9 7-5 1.5-.6 1.5-.1 1,.2 1.5,.7 1.5,1.1 5,4.6 1.5,1 2,1 2,.5 2.5,.3 9,.2" fill="none" stroke="#e48686" stroke-width="0.95"/>
<path d="M140.2,187l17.5,0 2.5-.2 2-.6 2-1.3 1.5-1.7 1.5-2.3 3-5.4 1-1.4 1-.9 1-.2 1.5,.4 2,1.4 6,6.8 2.5,2.3 2.5,1.6 3,.9 3,.4 4.5,.2 48,0" fill="none" stroke="#e48686" stroke-width="0.95"/>
</g>
<rect x="171" y="160.6" width="21.6" height="106.5" fill="#dcdcf7" stroke="none" stroke-width="0.8" style="mix-blend-mode:multiply"/>
<line x1="218.1" y1="238" x2="218.1" y2="267.1" stroke="#aaa" stroke-width="0.4" />
<rect x="140.2" y="160.6" width="106.1" height="106.5" fill="none" stroke="#7a7a7a" stroke-width="0.8" />
<line x1="153.1" y1="267.1" x2="153.1" y2="265.1" stroke="#7a7a7a" stroke-width="0.8" />
<line x1="153.1" y1="160.6" x2="153.1" y2="162.6" stroke="#7a7a7a" stroke-width="0.8" />
<line x1="166.55" y1="267.1" x2="166.55" y2="265.1" stroke="#7a7a7a" stroke-width="0.8" />
<line x1="166.55" y1="160.6" x2="166.55" y2="162.6" stroke="#7a7a7a" stroke-width="0.8" />
<line x1="180" y1="267.1" x2="180" y2="265.1" stroke="#7a7a7a" stroke-width="0.8" />
<line x1="180" y1="160.6" x2="180" y2="162.6" stroke="#7a7a7a" stroke-width="0.8" />
<line x1="193.45" y1="267.1" x2="193.45" y2="265.1" stroke="#7a7a7a" stroke-width="0.8" />
<line x1="193.45" y1="160.6" x2="193.45" y2="162.6" stroke="#7a7a7a" stroke-width="0.8" />
<line x1="206.9" y1="267.1" x2="206.9" y2="265.1" stroke="#7a7a7a" stroke-width="0.8" />
<line x1="206.9" y1="160.6" x2="206.9" y2="162.6" stroke="#7a7a7a" stroke-width="0.8" />
<line x1="220.35" y1="267.1" x2="220.35" y2="265.1" stroke="#7a7a7a" stroke-width="0.8" />
<line x1="220.35" y1="160.6" x2="220.35" y2="162.6" stroke="#7a7a7a" stroke-width="0.8" />
<line x1="233.8" y1="267.1" x2="233.8" y2="265.1" stroke="#7a7a7a" stroke-width="0.8" />
<line x1="233.8" y1="160.6" x2="233.8" y2="162.6" stroke="#7a7a7a" stroke-width="0.8" />
<text x="153.1" y="275.7" font-size="6" text-anchor="middle" font-weight="normal" font-style="normal" fill="#111" stroke="#111" stroke-width="0.16" >3.2</text>
<text x="180" y="275.7" font-size="6" text-anchor="middle" font-weight="normal" font-style="normal" fill="#111" stroke="#111" stroke-width="0.16" >3.4</text>
<text x="206.9" y="275.7" font-size="6" text-anchor="middle" font-weight="normal" font-style="normal" fill="#111" stroke="#111" stroke-width="0.16" >3.6</text>
<text x="233.8" y="275.7" font-size="6" text-anchor="middle" font-weight="normal" font-style="normal" fill="#111" stroke="#111" stroke-width="0.16" >3.8</text>
<text x="193.2" y="285.7" font-size="6" text-anchor="middle" font-weight="normal" font-style="normal" fill="#111" stroke="#111" stroke-width="0.16" >d-spacing (Å)</text>
<text x="128.3" y="167.3" font-size="7.6" text-anchor="start" font-weight="normal" font-style="normal" fill="#111" stroke="#111" stroke-width="0.3" >(d)</text>
<text transform="translate(134.5,217) rotate(-90)" font-size="6.3" text-anchor="middle" fill="#111" stroke="#111" stroke-width="0.12">Intensity (I/I<tspan font-size="4.2" dy="1.3">0</tspan><tspan dy="-1.3">)</tspan></text>
<text x="155.1" y="169.3" font-size="6" text-anchor="start" font-weight="normal" font-style="normal" fill="#111" stroke="#111" stroke-width="0.16" >G (002)</text>
<text x="177.4" y="172.7" font-size="6" text-anchor="start" font-weight="normal" font-style="normal" fill="#111" stroke="#111" stroke-width="0.16" >G(III) (003)</text>
<text x="187.7" y="181.3" font-size="6" text-anchor="start" font-weight="normal" font-style="normal" fill="#111" stroke="#111" stroke-width="0.16" >G(II) (002)</text>
<text x="216" y="183.5" font-size="6" text-anchor="start" font-weight="normal" font-style="normal" fill="#111" stroke="#111" stroke-width="0.16" >G(I) (001)</text>
<line x1="314.6" y1="26.5" x2="314.6" y2="131.4" stroke="#e4e4e4" stroke-width="0.5" />
<line x1="327.15" y1="26.5" x2="327.15" y2="131.4" stroke="#e4e4e4" stroke-width="0.5" />
<line x1="339.7" y1="26.5" x2="339.7" y2="131.4" stroke="#e4e4e4" stroke-width="0.5" />
<line x1="352.25" y1="26.5" x2="352.25" y2="131.4" stroke="#e4e4e4" stroke-width="0.5" />
<line x1="364.8" y1="26.5" x2="364.8" y2="131.4" stroke="#e4e4e4" stroke-width="0.5" />
<line x1="377.35" y1="26.5" x2="377.35" y2="131.4" stroke="#e4e4e4" stroke-width="0.5" />
<line x1="389.9" y1="26.5" x2="389.9" y2="131.4" stroke="#e4e4e4" stroke-width="0.5" />
<line x1="402.45" y1="26.5" x2="402.45" y2="131.4" stroke="#e4e4e4" stroke-width="0.5" />
<line x1="415" y1="26.5" x2="415" y2="131.4" stroke="#e4e4e4" stroke-width="0.5" />
<line x1="427.55" y1="26.5" x2="427.55" y2="131.4" stroke="#e4e4e4" stroke-width="0.5" />
<line x1="440.1" y1="26.5" x2="440.1" y2="131.4" stroke="#e4e4e4" stroke-width="0.5" />
<line x1="452.65" y1="26.5" x2="452.65" y2="131.4" stroke="#e4e4e4" stroke-width="0.5" />
<line x1="465.2" y1="26.5" x2="465.2" y2="131.4" stroke="#e4e4e4" stroke-width="0.5" />
<line x1="477.75" y1="26.5" x2="477.75" y2="131.4" stroke="#e4e4e4" stroke-width="0.5" />
<line x1="490.3" y1="26.5" x2="490.3" y2="131.4" stroke="#e4e4e4" stroke-width="0.5" />
<line x1="502.85" y1="26.5" x2="502.85" y2="131.4" stroke="#e4e4e4" stroke-width="0.5" />
<line x1="515.4" y1="26.5" x2="515.4" y2="131.4" stroke="#e4e4e4" stroke-width="0.5" />
<line x1="527.95" y1="26.5" x2="527.95" y2="131.4" stroke="#e4e4e4" stroke-width="0.5" />
<line x1="302.6" y1="26.5" x2="540.3" y2="26.5" stroke="#e4e4e4" stroke-width="0.5" />
<line x1="302.6" y1="32.93" x2="540.3" y2="32.93" stroke="#e4e4e4" stroke-width="0.5" />
<line x1="302.6" y1="39.36" x2="540.3" y2="39.36" stroke="#e4e4e4" stroke-width="0.5" />
<line x1="302.6" y1="45.79" x2="540.3" y2="45.79" stroke="#e4e4e4" stroke-width="0.5" />
<line x1="302.6" y1="52.22" x2="540.3" y2="52.22" stroke="#e4e4e4" stroke-width="0.5" />
<line x1="302.6" y1="58.65" x2="540.3" y2="58.65" stroke="#e4e4e4" stroke-width="0.5" />
<line x1="302.6" y1="65.08" x2="540.3" y2="65.08" stroke="#e4e4e4" stroke-width="0.5" />
<line x1="302.6" y1="71.51" x2="540.3" y2="71.51" stroke="#e4e4e4" stroke-width="0.5" />
<line x1="302.6" y1="84.3" x2="540.3" y2="84.3" stroke="#e4e4e4" stroke-width="0.5" />
<line x1="302.6" y1="93.73" x2="540.3" y2="93.73" stroke="#e4e4e4" stroke-width="0.5" />
<line x1="302.6" y1="103.16" x2="540.3" y2="103.16" stroke="#e4e4e4" stroke-width="0.5" />
<line x1="302.6" y1="112.59" x2="540.3" y2="112.59" stroke="#e4e4e4" stroke-width="0.5" />
<line x1="302.6" y1="122.02" x2="540.3" y2="122.02" stroke="#e4e4e4" stroke-width="0.5" />
<line x1="302.6" y1="131.45" x2="540.3" y2="131.45" stroke="#e4e4e4" stroke-width="0.5" />
<rect x="302.6" y="26.5" width="237.7" height="104.9" fill="none" stroke="#7a7a7a" stroke-width="0.8" />
<line x1="314.6" y1="131.4" x2="314.6" y2="129.4" stroke="#7a7a7a" stroke-width="0.8" />
<line x1="314.6" y1="26.5" x2="314.6" y2="28.5" stroke="#7a7a7a" stroke-width="0.8" />
<line x1="327.15" y1="131.4" x2="327.15" y2="129.4" stroke="#7a7a7a" stroke-width="0.8" />
<line x1="327.15" y1="26.5" x2="327.15" y2="28.5" stroke="#7a7a7a" stroke-width="0.8" />
<line x1="339.7" y1="131.4" x2="339.7" y2="129.4" stroke="#7a7a7a" stroke-width="0.8" />
<line x1="339.7" y1="26.5" x2="339.7" y2="28.5" stroke="#7a7a7a" stroke-width="0.8" />
<line x1="352.25" y1="131.4" x2="352.25" y2="129.4" stroke="#7a7a7a" stroke-width="0.8" />
<line x1="352.25" y1="26.5" x2="352.25" y2="28.5" stroke="#7a7a7a" stroke-width="0.8" />
<line x1="364.8" y1="131.4" x2="364.8" y2="129.4" stroke="#7a7a7a" stroke-width="0.8" />
<line x1="364.8" y1="26.5" x2="364.8" y2="28.5" stroke="#7a7a7a" stroke-width="0.8" />
<line x1="377.35" y1="131.4" x2="377.35" y2="129.4" stroke="#7a7a7a" stroke-width="0.8" />
<line x1="377.35" y1="26.5" x2="377.35" y2="28.5" stroke="#7a7a7a" stroke-width="0.8" />
<line x1="389.9" y1="131.4" x2="389.9" y2="129.4" stroke="#7a7a7a" stroke-width="0.8" />
<line x1="389.9" y1="26.5" x2="389.9" y2="28.5" stroke="#7a7a7a" stroke-width="0.8" />
<line x1="402.45" y1="131.4" x2="402.45" y2="129.4" stroke="#7a7a7a" stroke-width="0.8" />
<line x1="402.45" y1="26.5" x2="402.45" y2="28.5" stroke="#7a7a7a" stroke-width="0.8" />
<line x1="415" y1="131.4" x2="415" y2="129.4" stroke="#7a7a7a" stroke-width="0.8" />
<line x1="415" y1="26.5" x2="415" y2="28.5" stroke="#7a7a7a" stroke-width="0.8" />
<line x1="427.55" y1="131.4" x2="427.55" y2="129.4" stroke="#7a7a7a" stroke-width="0.8" />
<line x1="427.55" y1="26.5" x2="427.55" y2="28.5" stroke="#7a7a7a" stroke-width="0.8" />
<line x1="440.1" y1="131.4" x2="440.1" y2="129.4" stroke="#7a7a7a" stroke-width="0.8" />
<line x1="440.1" y1="26.5" x2="440.1" y2="28.5" stroke="#7a7a7a" stroke-width="0.8" />
<line x1="452.65" y1="131.4" x2="452.65" y2="129.4" stroke="#7a7a7a" stroke-width="0.8" />
<line x1="452.65" y1="26.5" x2="452.65" y2="28.5" stroke="#7a7a7a" stroke-width="0.8" />
<line x1="465.2" y1="131.4" x2="465.2" y2="129.4" stroke="#7a7a7a" stroke-width="0.8" />
<line x1="465.2" y1="26.5" x2="465.2" y2="28.5" stroke="#7a7a7a" stroke-width="0.8" />
<line x1="477.75" y1="131.4" x2="477.75" y2="129.4" stroke="#7a7a7a" stroke-width="0.8" />
<line x1="477.75" y1="26.5" x2="477.75" y2="28.5" stroke="#7a7a7a" stroke-width="0.8" />
<line x1="490.3" y1="131.4" x2="490.3" y2="129.4" stroke="#7a7a7a" stroke-width="0.8" />
<line x1="490.3" y1="26.5" x2="490.3" y2="28.5" stroke="#7a7a7a" stroke-width="0.8" />
<line x1="502.85" y1="131.4" x2="502.85" y2="129.4" stroke="#7a7a7a" stroke-width="0.8" />
<line x1="502.85" y1="26.5" x2="502.85" y2="28.5" stroke="#7a7a7a" stroke-width="0.8" />
<line x1="515.4" y1="131.4" x2="515.4" y2="129.4" stroke="#7a7a7a" stroke-width="0.8" />
<line x1="515.4" y1="26.5" x2="515.4" y2="28.5" stroke="#7a7a7a" stroke-width="0.8" />
<line x1="527.95" y1="131.4" x2="527.95" y2="129.4" stroke="#7a7a7a" stroke-width="0.8" />
<line x1="527.95" y1="26.5" x2="527.95" y2="28.5" stroke="#7a7a7a" stroke-width="0.8" />
<line x1="302.6" y1="26.5" x2="306.1" y2="26.5" stroke="#7a7a7a" stroke-width="0.8" />
<line x1="540.3" y1="26.5" x2="536.8" y2="26.5" stroke="#7a7a7a" stroke-width="0.8" />
<line x1="302.6" y1="32.93" x2="304.6" y2="32.93" stroke="#7a7a7a" stroke-width="0.8" />
<line x1="540.3" y1="32.93" x2="538.3" y2="32.93" stroke="#7a7a7a" stroke-width="0.8" />
<line x1="302.6" y1="39.36" x2="306.1" y2="39.36" stroke="#7a7a7a" stroke-width="0.8" />
<line x1="540.3" y1="39.36" x2="536.8" y2="39.36" stroke="#7a7a7a" stroke-width="0.8" />
<line x1="302.6" y1="45.79" x2="304.6" y2="45.79" stroke="#7a7a7a" stroke-width="0.8" />
<line x1="540.3" y1="45.79" x2="538.3" y2="45.79" stroke="#7a7a7a" stroke-width="0.8" />
<line x1="302.6" y1="52.22" x2="306.1" y2="52.22" stroke="#7a7a7a" stroke-width="0.8" />
<line x1="540.3" y1="52.22" x2="536.8" y2="52.22" stroke="#7a7a7a" stroke-width="0.8" />
<line x1="302.6" y1="58.65" x2="304.6" y2="58.65" stroke="#7a7a7a" stroke-width="0.8" />
<line x1="540.3" y1="58.65" x2="538.3" y2="58.65" stroke="#7a7a7a" stroke-width="0.8" />
<line x1="302.6" y1="65.08" x2="306.1" y2="65.08" stroke="#7a7a7a" stroke-width="0.8" />
<line x1="540.3" y1="65.08" x2="536.8" y2="65.08" stroke="#7a7a7a" stroke-width="0.8" />
<line x1="302.6" y1="71.51" x2="304.6" y2="71.51" stroke="#7a7a7a" stroke-width="0.8" />
<line x1="540.3" y1="71.51" x2="538.3" y2="71.51" stroke="#7a7a7a" stroke-width="0.8" />
<line x1="302.6" y1="84.3" x2="306.1" y2="84.3" stroke="#7a7a7a" stroke-width="0.8" />
<line x1="540.3" y1="84.3" x2="536.8" y2="84.3" stroke="#7a7a7a" stroke-width="0.8" />
<line x1="302.6" y1="89.02" x2="304.6" y2="89.02" stroke="#7a7a7a" stroke-width="0.8" />
<line x1="540.3" y1="89.02" x2="538.3" y2="89.02" stroke="#7a7a7a" stroke-width="0.8" />
<line x1="302.6" y1="93.73" x2="306.1" y2="93.73" stroke="#7a7a7a" stroke-width="0.8" />
<line x1="540.3" y1="93.73" x2="536.8" y2="93.73" stroke="#7a7a7a" stroke-width="0.8" />
<line x1="302.6" y1="98.44" x2="304.6" y2="98.44" stroke="#7a7a7a" stroke-width="0.8" />
<line x1="540.3" y1="98.44" x2="538.3" y2="98.44" stroke="#7a7a7a" stroke-width="0.8" />
<line x1="302.6" y1="103.16" x2="306.1" y2="103.16" stroke="#7a7a7a" stroke-width="0.8" />
<line x1="540.3" y1="103.16" x2="536.8" y2="103.16" stroke="#7a7a7a" stroke-width="0.8" />
<line x1="302.6" y1="107.88" x2="304.6" y2="107.88" stroke="#7a7a7a" stroke-width="0.8" />
<line x1="540.3" y1="107.88" x2="538.3" y2="107.88" stroke="#7a7a7a" stroke-width="0.8" />
<line x1="302.6" y1="112.59" x2="306.1" y2="112.59" stroke="#7a7a7a" stroke-width="0.8" />
<line x1="540.3" y1="112.59" x2="536.8" y2="112.59" stroke="#7a7a7a" stroke-width="0.8" />
<line x1="302.6" y1="117.3" x2="304.6" y2="117.3" stroke="#7a7a7a" stroke-width="0.8" />
<line x1="540.3" y1="117.3" x2="538.3" y2="117.3" stroke="#7a7a7a" stroke-width="0.8" />
<line x1="302.6" y1="122.02" x2="306.1" y2="122.02" stroke="#7a7a7a" stroke-width="0.8" />
<line x1="540.3" y1="122.02" x2="536.8" y2="122.02" stroke="#7a7a7a" stroke-width="0.8" />
<line x1="302.6" y1="126.73" x2="304.6" y2="126.73" stroke="#7a7a7a" stroke-width="0.8" />
<line x1="540.3" y1="126.73" x2="538.3" y2="126.73" stroke="#7a7a7a" stroke-width="0.8" />
<line x1="302.6" y1="131.45" x2="306.1" y2="131.45" stroke="#7a7a7a" stroke-width="0.8" />
<line x1="540.3" y1="131.45" x2="536.8" y2="131.45" stroke="#7a7a7a" stroke-width="0.8" />
<rect x="301.1" y="73" width="3" height="9" fill="#fff" stroke="none" stroke-width="0.8" />
<rect x="538.8" y="73" width="3" height="9" fill="#fff" stroke="none" stroke-width="0.8" />
<line x1="297.9" y1="87.1" x2="306.7" y2="69.7" stroke="#333" stroke-width="0.7" />
<line x1="536.5" y1="87.1" x2="544.2" y2="70" stroke="#333" stroke-width="0.7" />
<text x="297.5" y="28.7" font-size="6.3" text-anchor="end" font-weight="normal" font-style="normal" fill="#111" stroke="#111" stroke-width="0.16" >14.8</text>
<text x="297.5" y="41.6" font-size="6.3" text-anchor="end" font-weight="normal" font-style="normal" fill="#111" stroke="#111" stroke-width="0.16" >14.4</text>
<text x="297.5" y="54.4" font-size="6.3" text-anchor="end" font-weight="normal" font-style="normal" fill="#111" stroke="#111" stroke-width="0.16" >14</text>
<text x="297.5" y="67.3" font-size="6.3" text-anchor="end" font-weight="normal" font-style="normal" fill="#111" stroke="#111" stroke-width="0.16" >13.6</text>
<text x="297.5" y="86.7" font-size="6.3" text-anchor="end" font-weight="normal" font-style="normal" fill="#111" stroke="#111" stroke-width="0.16" >2.9</text>
<text x="297.5" y="96" font-size="6.3" text-anchor="end" font-weight="normal" font-style="normal" fill="#111" stroke="#111" stroke-width="0.16" >2.88</text>
<text x="297.5" y="105.4" font-size="6.3" text-anchor="end" font-weight="normal" font-style="normal" fill="#111" stroke="#111" stroke-width="0.16" >2.86</text>
<text x="297.5" y="114.8" font-size="6.3" text-anchor="end" font-weight="normal" font-style="normal" fill="#111" stroke="#111" stroke-width="0.16" >2.84</text>
<text x="297.5" y="124.3" font-size="6.3" text-anchor="end" font-weight="normal" font-style="normal" fill="#111" stroke="#111" stroke-width="0.16" >2.82</text>
<text x="297.5" y="133.6" font-size="6.3" text-anchor="end" font-weight="normal" font-style="normal" fill="#111" stroke="#111" stroke-width="0.16" >2.8</text>
<text x="274.3" y="28.9" font-size="6.6" text-anchor="start" font-weight="normal" font-style="normal" fill="#111" stroke="#111" stroke-width="0.16" >(e)</text>
<text transform="translate(277.8,77.9) rotate(-90)" font-size="6.7" text-anchor="middle" fill="#111" stroke="#111" stroke-width="0.12">Lattice (Å)</text>
<text x="309.3" y="41.6" font-size="8" text-anchor="start" font-weight="bold" font-style="italic" fill="#111" stroke="#111" stroke-width="0.16" >c</text>
<text x="309.3" y="87.6" font-size="8" text-anchor="start" font-weight="bold" font-style="italic" fill="#111" stroke="#111" stroke-width="0.16" >a</text>
<path d="M307.6,43.5h3.6v3.6h-3.6zM309.69,43.49h3.6v3.6h-3.6zM311.77,43.49h3.6v3.6h-3.6zM313.86,43.48h3.6v3.6h-3.6zM315.95,43.48h3.6v3.6h-3.6zM318.04,43.47h3.6v3.6h-3.6zM320.12,43.46h3.6v3.6h-3.6zM322.21,43.46h3.6v3.6h-3.6zM324.3,43.45h3.6v3.6h-3.6zM326.39,43.44h3.6v3.6h-3.6zM328.47,43.44h3.6v3.6h-3.6zM330.56,43.43h3.6v3.6h-3.6zM332.65,43.43h3.6v3.6h-3.6zM334.74,43.42h3.6v3.6h-3.6zM336.82,43.41h3.6v3.6h-3.6zM338.91,43.41h3.6v3.6h-3.6zM341,43.4h3.6v3.6h-3.6z" fill="#1f78d1" stroke="#1f78d1" stroke-width="0.3"/>
<path d="M324.35,42.3a2.15,2.15 0 1,0 4.3,0a2.15,2.15 0 1,0 -4.3,0zM328.03,42.08a2.15,2.15 0 1,0 4.3,0a2.15,2.15 0 1,0 -4.3,0zM331.72,41.86a2.15,2.15 0 1,0 4.3,0a2.15,2.15 0 1,0 -4.3,0zM335.4,41.64a2.15,2.15 0 1,0 4.3,0a2.15,2.15 0 1,0 -4.3,0zM339.09,41.42a2.15,2.15 0 1,0 4.3,0a2.15,2.15 0 1,0 -4.3,0zM342.77,41.2a2.15,2.15 0 1,0 4.3,0a2.15,2.15 0 1,0 -4.3,0zM346.46,40.98a2.15,2.15 0 1,0 4.3,0a2.15,2.15 0 1,0 -4.3,0zM350.14,40.76a2.15,2.15 0 1,0 4.3,0a2.15,2.15 0 1,0 -4.3,0zM353.83,40.54a2.15,2.15 0 1,0 4.3,0a2.15,2.15 0 1,0 -4.3,0zM357.51,40.32a2.15,2.15 0 1,0 4.3,0a2.15,2.15 0 1,0 -4.3,0zM361.2,40.09a2.15,2.15 0 1,0 4.3,0a2.15,2.15 0 1,0 -4.3,0zM364.88,39.86a2.15,2.15 0 1,0 4.3,0a2.15,2.15 0 1,0 -4.3,0zM368.56,39.62a2.15,2.15 0 1,0 4.3,0a2.15,2.15 0 1,0 -4.3,0zM372.25,39.39a2.15,2.15 0 1,0 4.3,0a2.15,2.15 0 1,0 -4.3,0zM375.93,39.16a2.15,2.15 0 1,0 4.3,0a2.15,2.15 0 1,0 -4.3,0zM379.61,38.93a2.15,2.15 0 1,0 4.3,0a2.15,2.15 0 1,0 -4.3,0zM383.3,38.7a2.15,2.15 0 1,0 4.3,0a2.15,2.15 0 1,0 -4.3,0zM386.98,38.46a2.15,2.15 0 1,0 4.3,0a2.15,2.15 0 1,0 -4.3,0zM390.67,38.23a2.15,2.15 0 1,0 4.3,0a2.15,2.15 0 1,0 -4.3,0zM394.35,38a2.15,2.15 0 1,0 4.3,0a2.15,2.15 0 1,0 -4.3,0z" fill="#f5821f" stroke="#f5821f" stroke-width="0.3"/>
<path d="M385.4,38.5L387.4,42.3L383.4,42.3zM388.06,40.19L390.06,43.99L386.06,43.99zM390.72,39.08L392.72,42.88L388.72,42.88zM393.38,40.77L395.38,44.57L391.38,44.57zM396.04,39.67L398.04,43.47L394.04,43.47zM398.7,41.36L400.7,45.16L396.7,45.16zM401.35,40.35L403.35,44.15L399.35,44.15zM403.98,42.24L405.98,46.04L401.98,46.04zM406.61,41.33L408.61,45.13L404.61,45.13zM409.24,43.22L411.24,47.02L407.24,47.02zM411.87,42.31L413.87,46.11L409.87,46.11zM414.5,44.2L416.5,48L412.5,48z" fill="#9a2fd6" stroke="#9a2fd6" stroke-width="0.3"/>
<path d="M401.7,60L403.7,56.2L399.7,56.2zM404.12,62.25L406.12,58.45L402.12,58.45zM406.55,61.7L408.55,57.9L404.55,57.9zM408.97,63.95L410.97,60.15L406.97,60.15zM411.39,63.39L413.39,59.59L409.39,59.59zM413.82,65.64L415.82,61.84L411.82,61.84zM416.24,65.09L418.24,61.29L414.24,61.29zM418.66,67.34L420.66,63.54L416.66,63.54zM421.09,66.79L423.09,62.99L419.09,62.99zM423.35,67.21L425.35,63.41L421.35,63.41zM425.59,64.56L427.59,60.76L423.59,60.76zM427.83,64.71L429.83,60.91L425.83,60.91zM430.08,62.06L432.08,58.26L428.08,58.26zM432.32,62.2L434.32,58.4L430.32,58.4zM434.56,59.55L436.56,55.75L432.56,55.75zM436.8,59.7L438.8,55.9L434.8,55.9z" fill="#1f9a35" stroke="#1f9a35" stroke-width="0.3"/>
<path d="M425.7,42.4L427.7,46.2L423.7,46.2zM428.05,42.61L430.05,46.41L426.05,46.41zM430.41,40.03L432.41,43.83L428.41,43.83zM432.76,40.24L434.76,44.04L430.76,44.04zM435.11,37.66L437.11,41.46L433.11,41.46zM437.46,37.87L439.46,41.67L435.46,41.67zM439.96,35.9L441.96,39.7L437.96,39.7zM442.6,37.3L444.6,41.1L440.6,41.1zM445.23,35.9L447.23,39.7L443.23,39.7zM447.87,37.3L449.87,41.1L445.87,41.1zM450.5,35.9L452.5,39.7L448.5,39.7z" fill="#9a2fd6" stroke="#9a2fd6" stroke-width="0.3"/>
<path d="M438.15,37.6a2.15,2.15 0 1,0 4.3,0a2.15,2.15 0 1,0 -4.3,0zM441.25,38.66a2.15,2.15 0 1,0 4.3,0a2.15,2.15 0 1,0 -4.3,0zM444.35,38.12a2.15,2.15 0 1,0 4.3,0a2.15,2.15 0 1,0 -4.3,0zM447.46,39.18a2.15,2.15 0 1,0 4.3,0a2.15,2.15 0 1,0 -4.3,0zM450.56,38.64a2.15,2.15 0 1,0 4.3,0a2.15,2.15 0 1,0 -4.3,0zM453.66,39.71a2.15,2.15 0 1,0 4.3,0a2.15,2.15 0 1,0 -4.3,0zM456.76,39.17a2.15,2.15 0 1,0 4.3,0a2.15,2.15 0 1,0 -4.3,0zM459.87,40.23a2.15,2.15 0 1,0 4.3,0a2.15,2.15 0 1,0 -4.3,0zM462.97,39.69a2.15,2.15 0 1,0 4.3,0a2.15,2.15 0 1,0 -4.3,0zM466.07,40.75a2.15,2.15 0 1,0 4.3,0a2.15,2.15 0 1,0 -4.3,0zM469.17,40.28a2.15,2.15 0 1,0 4.3,0a2.15,2.15 0 1,0 -4.3,0zM472.25,41.49a2.15,2.15 0 1,0 4.3,0a2.15,2.15 0 1,0 -4.3,0zM475.34,41.11a2.15,2.15 0 1,0 4.3,0a2.15,2.15 0 1,0 -4.3,0zM478.42,42.32a2.15,2.15 0 1,0 4.3,0a2.15,2.15 0 1,0 -4.3,0zM481.51,41.94a2.15,2.15 0 1,0 4.3,0a2.15,2.15 0 1,0 -4.3,0zM484.59,43.15a2.15,2.15 0 1,0 4.3,0a2.15,2.15 0 1,0 -4.3,0zM487.68,42.77a2.15,2.15 0 1,0 4.3,0a2.15,2.15 0 1,0 -4.3,0zM490.76,43.98a2.15,2.15 0 1,0 4.3,0a2.15,2.15 0 1,0 -4.3,0zM493.85,43.6a2.15,2.15 0 1,0 4.3,0a2.15,2.15 0 1,0 -4.3,0z" fill="#f5821f" stroke="#f5821f" stroke-width="0.3"/>
<path d="M493.6,42.4h3.6v3.6h-3.6zM495.6,42.4h3.6v3.6h-3.6zM497.6,42.4h3.6v3.6h-3.6zM499.6,42.4h3.6v3.6h-3.6zM501.6,42.4h3.6v3.6h-3.6zM503.6,42.4h3.6v3.6h-3.6zM505.6,42.4h3.6v3.6h-3.6zM507.6,42.4h3.6v3.6h-3.6zM509.6,42.4h3.6v3.6h-3.6zM511.6,42.4h3.6v3.6h-3.6z" fill="#1f78d1" stroke="#1f78d1" stroke-width="0.3"/>
<path d="M307.55,90.75h3.7v3.7h-3.7zM309.27,90.79h3.7v3.7h-3.7zM310.99,90.84h3.7v3.7h-3.7zM312.71,90.88h3.7v3.7h-3.7zM314.42,90.93h3.7v3.7h-3.7zM316.14,90.97h3.7v3.7h-3.7zM317.86,91.01h3.7v3.7h-3.7zM319.58,91.06h3.7v3.7h-3.7zM321.3,91.1h3.7v3.7h-3.7zM323.02,91.15h3.7v3.7h-3.7zM324.72,91.36h3.7v3.7h-3.7zM326.43,91.59h3.7v3.7h-3.7zM328.13,91.81h3.7v3.7h-3.7zM329.83,92.04h3.7v3.7h-3.7zM331.54,92.27h3.7v3.7h-3.7zM333.24,92.5h3.7v3.7h-3.7zM334.95,92.72h3.7v3.7h-3.7zM336.65,92.95h3.7v3.7h-3.7z" fill="#eef5fc" stroke="#4fa3dc" stroke-width="0.7"/>
<path d="M325.7,98.55L327.65,100.5L325.7,102.45L323.75,100.5zM328.49,98.98L330.44,100.93L328.49,102.88L326.54,100.93zM331.29,99.42L333.24,101.37L331.29,103.32L329.34,101.37zM334.08,99.85L336.03,101.8L334.08,103.75L332.13,101.8zM336.88,100.29L338.83,102.24L336.88,104.19L334.93,102.24zM339.67,100.72L341.62,102.67L339.67,104.62L337.72,102.67zM342.46,101.16L344.41,103.11L342.46,105.06L340.51,103.11zM345.25,101.63L347.2,103.58L345.25,105.53L343.3,103.58zM347.95,102.47L349.9,104.42L347.95,106.37L346,104.42zM350.65,103.31L352.6,105.26L350.65,107.21L348.7,105.26zM353.35,104.15L355.3,106.1L353.35,108.05L351.4,106.1zM356.05,105L358,106.95L356.05,108.9L354.1,106.95zM358.75,105.84L360.7,107.79L358.75,109.74L356.8,107.79zM361.44,106.68L363.39,108.63L361.44,110.58L359.49,108.63zM364.14,107.52L366.09,109.47L364.14,111.42L362.19,109.47zM366.84,108.36L368.79,110.31L366.84,112.26L364.89,110.31zM369.54,109.21L371.49,111.16L369.54,113.11L367.59,111.16zM372.19,110.2L374.14,112.15L372.19,114.1L370.24,112.15zM374.82,111.23L376.77,113.18L374.82,115.13L372.87,113.18zM377.46,112.25L379.41,114.2L377.46,116.15L375.51,114.2zM380.09,113.28L382.04,115.23L380.09,117.18L378.14,115.23zM382.73,114.3L384.68,116.25L382.73,118.2L380.78,116.25zM385.36,115.33L387.31,117.28L385.36,119.23L383.41,117.28zM388,116.35L389.95,118.3L388,120.25L386.05,118.3z" fill="#f4f4f4" stroke="#777" stroke-width="0.7"/>
<path d="M325.45,97.5a1.95,1.95 0 1,0 3.9,0a1.95,1.95 0 1,0 -3.9,0zM327.85,97.4a1.95,1.95 0 1,0 3.9,0a1.95,1.95 0 1,0 -3.9,0zM330.25,97.31a1.95,1.95 0 1,0 3.9,0a1.95,1.95 0 1,0 -3.9,0zM332.66,97.21a1.95,1.95 0 1,0 3.9,0a1.95,1.95 0 1,0 -3.9,0zM335.06,97.12a1.95,1.95 0 1,0 3.9,0a1.95,1.95 0 1,0 -3.9,0zM337.46,97.02a1.95,1.95 0 1,0 3.9,0a1.95,1.95 0 1,0 -3.9,0zM339.82,97.41a1.95,1.95 0 1,0 3.9,0a1.95,1.95 0 1,0 -3.9,0zM342.16,97.96a1.95,1.95 0 1,0 3.9,0a1.95,1.95 0 1,0 -3.9,0zM344.5,98.5a1.95,1.95 0 1,0 3.9,0a1.95,1.95 0 1,0 -3.9,0zM346.84,99.05a1.95,1.95 0 1,0 3.9,0a1.95,1.95 0 1,0 -3.9,0zM349.18,99.6a1.95,1.95 0 1,0 3.9,0a1.95,1.95 0 1,0 -3.9,0zM351.52,100.14a1.95,1.95 0 1,0 3.9,0a1.95,1.95 0 1,0 -3.9,0zM353.8,100.87a1.95,1.95 0 1,0 3.9,0a1.95,1.95 0 1,0 -3.9,0zM355.95,101.95a1.95,1.95 0 1,0 3.9,0a1.95,1.95 0 1,0 -3.9,0zM358.1,103.02a1.95,1.95 0 1,0 3.9,0a1.95,1.95 0 1,0 -3.9,0zM360.25,104.1a1.95,1.95 0 1,0 3.9,0a1.95,1.95 0 1,0 -3.9,0zM362.4,105.17a1.95,1.95 0 1,0 3.9,0a1.95,1.95 0 1,0 -3.9,0zM364.55,106.25a1.95,1.95 0 1,0 3.9,0a1.95,1.95 0 1,0 -3.9,0zM366.7,107.32a1.95,1.95 0 1,0 3.9,0a1.95,1.95 0 1,0 -3.9,0zM368.85,108.4a1.95,1.95 0 1,0 3.9,0a1.95,1.95 0 1,0 -3.9,0zM371,109.47a1.95,1.95 0 1,0 3.9,0a1.95,1.95 0 1,0 -3.9,0zM373.15,110.55a1.95,1.95 0 1,0 3.9,0a1.95,1.95 0 1,0 -3.9,0zM375.3,111.62a1.95,1.95 0 1,0 3.9,0a1.95,1.95 0 1,0 -3.9,0zM377.45,112.7a1.95,1.95 0 1,0 3.9,0a1.95,1.95 0 1,0 -3.9,0zM379.6,113.77a1.95,1.95 0 1,0 3.9,0a1.95,1.95 0 1,0 -3.9,0zM381.75,114.85a1.95,1.95 0 1,0 3.9,0a1.95,1.95 0 1,0 -3.9,0zM383.9,115.92a1.95,1.95 0 1,0 3.9,0a1.95,1.95 0 1,0 -3.9,0zM386.05,117a1.95,1.95 0 1,0 3.9,0a1.95,1.95 0 1,0 -3.9,0z" fill="#fdf0e3" stroke="#f39440" stroke-width="0.7"/>
<path d="M385,113.66L386.95,117.36L383.05,117.36zM387.25,114.63L389.2,118.34L385.3,118.34zM389.51,114.01L391.46,117.71L387.56,117.71zM391.76,114.99L393.71,118.69L389.81,118.69zM394.02,114.36L395.97,118.07L392.07,118.07zM396.27,115.34L398.22,119.04L394.32,119.04zM398.52,114.72L400.47,118.42L396.57,118.42zM400.78,115.69L402.73,119.4L398.83,119.4zM403.03,115.07L404.98,118.78L401.08,118.78zM405.28,116.05L407.23,119.75L403.33,119.75zM407.54,115.42L409.49,119.13L405.59,119.13zM409.79,116.4L411.74,120.11L407.84,120.11zM412.05,115.78L414,119.48L410.1,119.48zM414.3,116.76L416.25,120.46L412.35,120.46z" fill="#f3e8fb" stroke="#9a2fd6" stroke-width="0.7"/>
<path d="M402,124.14L403.95,120.44L400.05,120.44zM404.12,124.92L406.07,121.22L402.18,121.22zM406.25,124.09L408.2,120.39L404.3,120.39zM408.38,124.87L410.32,121.17L406.43,121.17zM410.5,124.05L412.45,120.34L408.55,120.34zM412.62,124.82L414.57,121.12L410.68,121.12zM414.75,123.99L416.7,120.29L412.8,120.29zM416.88,124.77L418.82,121.07L414.93,121.07zM419,123.94L420.95,120.24L417.05,120.24zM421.12,124.72L423.07,121.02L419.18,121.02zM423.25,123.89L425.2,120.19L421.3,120.19zM425.38,124.67L427.32,120.97L423.43,120.97zM427.5,123.84L429.45,120.14L425.55,120.14zM429.62,124.62L431.57,120.92L427.68,120.92zM431.75,123.79L433.7,120.09L429.8,120.09zM433.88,124.57L435.82,120.87L431.93,120.87zM436,123.74L437.95,120.04L434.05,120.04z" fill="#e8f6ea" stroke="#1f9a35" stroke-width="0.7"/>
<path d="M425,115.16L426.95,118.86L423.05,118.86zM427.1,115.71L429.05,119.41L425.15,119.41zM429.2,114.66L431.15,118.37L427.25,118.37zM431.3,115.22L433.25,118.92L429.35,118.92zM433.4,114.17L435.35,117.88L431.45,117.88zM435.5,114.72L437.45,118.43L433.55,118.43zM437.6,113.68L439.55,117.38L435.65,117.38zM439.7,114.23L441.65,117.94L437.75,117.94zM441.8,113.19L443.75,116.89L439.85,116.89zM443.9,113.74L445.85,117.44L441.95,117.44zM446,112.69L447.95,116.4L444.05,116.4zM448.1,113.25L450.05,116.95L446.15,116.95zM450.2,112.2L452.15,115.91L448.25,115.91zM452.3,112.76L454.25,116.46L450.35,116.46z" fill="#f3e8fb" stroke="#9a2fd6" stroke-width="0.7"/>
<path d="M440.3,116.85L442.25,118.8L440.3,120.75L438.35,118.8zM443.03,116.04L444.98,117.99L443.03,119.94L441.08,117.99zM445.76,115.23L447.71,117.18L445.76,119.13L443.81,117.18zM448.49,114.42L450.44,116.37L448.49,118.32L446.54,116.37zM451.21,113.62L453.16,115.57L451.21,117.52L449.26,115.57zM453.94,112.81L455.89,114.76L453.94,116.71L451.99,114.76zM456.67,112L458.62,113.95L456.67,115.9L454.72,113.95zM459.4,111.19L461.35,113.14L459.4,115.09L457.45,113.14zM462.13,110.38L464.08,112.33L462.13,114.28L460.18,112.33zM464.86,109.57L466.81,111.52L464.86,113.47L462.91,111.52zM467.59,108.77L469.54,110.72L467.59,112.67L465.64,110.72zM470.3,107.92L472.25,109.87L470.3,111.82L468.35,109.87zM472.9,106.76L474.85,108.71L472.9,110.66L470.95,108.71zM475.5,105.6L477.45,107.55L475.5,109.5L473.55,107.55zM478.1,104.45L480.05,106.4L478.1,108.35L476.15,106.4zM480.7,103.29L482.65,105.24L480.7,107.19L478.75,105.24zM483.3,102.13L485.25,104.08L483.3,106.03L481.35,104.08zM485.9,100.98L487.85,102.93L485.9,104.88L483.95,102.93zM488.5,99.82L490.45,101.77L488.5,103.72L486.55,101.77zM491.1,98.66L493.05,100.61L491.1,102.56L489.15,100.61zM493.7,97.51L495.65,99.46L493.7,101.41L491.75,99.46zM496.3,96.35L498.25,98.3L496.3,100.25L494.35,98.3z" fill="#f4f4f4" stroke="#777" stroke-width="0.7"/>
<path d="M450.35,112.8a1.95,1.95 0 1,0 3.9,0a1.95,1.95 0 1,0 -3.9,0zM452.4,111.37a1.95,1.95 0 1,0 3.9,0a1.95,1.95 0 1,0 -3.9,0zM454.44,109.93a1.95,1.95 0 1,0 3.9,0a1.95,1.95 0 1,0 -3.9,0zM456.49,108.5a1.95,1.95 0 1,0 3.9,0a1.95,1.95 0 1,0 -3.9,0zM458.54,107.06a1.95,1.95 0 1,0 3.9,0a1.95,1.95 0 1,0 -3.9,0zM460.62,105.69a1.95,1.95 0 1,0 3.9,0a1.95,1.95 0 1,0 -3.9,0zM462.82,104.51a1.95,1.95 0 1,0 3.9,0a1.95,1.95 0 1,0 -3.9,0zM465.02,103.32a1.95,1.95 0 1,0 3.9,0a1.95,1.95 0 1,0 -3.9,0zM467.22,102.14a1.95,1.95 0 1,0 3.9,0a1.95,1.95 0 1,0 -3.9,0zM469.42,100.95a1.95,1.95 0 1,0 3.9,0a1.95,1.95 0 1,0 -3.9,0zM471.62,99.77a1.95,1.95 0 1,0 3.9,0a1.95,1.95 0 1,0 -3.9,0zM473.88,98.72a1.95,1.95 0 1,0 3.9,0a1.95,1.95 0 1,0 -3.9,0zM476.25,97.93a1.95,1.95 0 1,0 3.9,0a1.95,1.95 0 1,0 -3.9,0zM478.63,97.14a1.95,1.95 0 1,0 3.9,0a1.95,1.95 0 1,0 -3.9,0zM481,96.35a1.95,1.95 0 1,0 3.9,0a1.95,1.95 0 1,0 -3.9,0zM483.37,95.56a1.95,1.95 0 1,0 3.9,0a1.95,1.95 0 1,0 -3.9,0zM485.76,94.83a1.95,1.95 0 1,0 3.9,0a1.95,1.95 0 1,0 -3.9,0zM488.19,94.25a1.95,1.95 0 1,0 3.9,0a1.95,1.95 0 1,0 -3.9,0zM490.62,93.68a1.95,1.95 0 1,0 3.9,0a1.95,1.95 0 1,0 -3.9,0zM493.05,93.1a1.95,1.95 0 1,0 3.9,0a1.95,1.95 0 1,0 -3.9,0z" fill="#fdf0e3" stroke="#f39440" stroke-width="0.7"/>
<path d="M490.15,92.15h3.7v3.7h-3.7zM491.86,92.15h3.7v3.7h-3.7zM493.57,92.15h3.7v3.7h-3.7zM495.27,92.15h3.7v3.7h-3.7zM496.98,92.15h3.7v3.7h-3.7zM498.69,92.15h3.7v3.7h-3.7zM500.4,92.15h3.7v3.7h-3.7zM502.1,92.15h3.7v3.7h-3.7zM503.81,92.15h3.7v3.7h-3.7zM505.52,92.15h3.7v3.7h-3.7zM507.23,92.15h3.7v3.7h-3.7zM508.93,92.15h3.7v3.7h-3.7zM510.64,92.15h3.7v3.7h-3.7zM512.35,92.15h3.7v3.7h-3.7z" fill="#eef5fc" stroke="#4fa3dc" stroke-width="0.7"/>
<path d="M317.3,120.3L320,123L317.3,125.7L314.6,123z" fill="#fff" stroke="#555" stroke-width="0.6"/>
<text x="324.8" y="125.2" font-size="6" text-anchor="start" font-weight="normal" font-style="normal" fill="#111" stroke="#111" stroke-width="0.16" >b (M)</text>
<line x1="314.6" y1="139" x2="314.6" y2="243.9" stroke="#e4e4e4" stroke-width="0.5" />
<line x1="327.15" y1="139" x2="327.15" y2="243.9" stroke="#e4e4e4" stroke-width="0.5" />
<line x1="339.7" y1="139" x2="339.7" y2="243.9" stroke="#e4e4e4" stroke-width="0.5" />
<line x1="352.25" y1="139" x2="352.25" y2="243.9" stroke="#e4e4e4" stroke-width="0.5" />
<line x1="364.8" y1="139" x2="364.8" y2="243.9" stroke="#e4e4e4" stroke-width="0.5" />
<line x1="377.35" y1="139" x2="377.35" y2="243.9" stroke="#e4e4e4" stroke-width="0.5" />
<line x1="389.9" y1="139" x2="389.9" y2="243.9" stroke="#e4e4e4" stroke-width="0.5" />
<line x1="402.45" y1="139" x2="402.45" y2="243.9" stroke="#e4e4e4" stroke-width="0.5" />
<line x1="415" y1="139" x2="415" y2="243.9" stroke="#e4e4e4" stroke-width="0.5" />
<line x1="427.55" y1="139" x2="427.55" y2="243.9" stroke="#e4e4e4" stroke-width="0.5" />
<line x1="440.1" y1="139" x2="440.1" y2="243.9" stroke="#e4e4e4" stroke-width="0.5" />
<line x1="452.65" y1="139" x2="452.65" y2="243.9" stroke="#e4e4e4" stroke-width="0.5" />
<line x1="465.2" y1="139" x2="465.2" y2="243.9" stroke="#e4e4e4" stroke-width="0.5" />
<line x1="477.75" y1="139" x2="477.75" y2="243.9" stroke="#e4e4e4" stroke-width="0.5" />
<line x1="490.3" y1="139" x2="490.3" y2="243.9" stroke="#e4e4e4" stroke-width="0.5" />
<line x1="502.85" y1="139" x2="502.85" y2="243.9" stroke="#e4e4e4" stroke-width="0.5" />
<line x1="515.4" y1="139" x2="515.4" y2="243.9" stroke="#e4e4e4" stroke-width="0.5" />
<line x1="527.95" y1="139" x2="527.95" y2="243.9" stroke="#e4e4e4" stroke-width="0.5" />
<line x1="302.6" y1="139" x2="540.3" y2="139" stroke="#e4e4e4" stroke-width="0.5" />
<line x1="302.6" y1="156.35" x2="540.3" y2="156.35" stroke="#e4e4e4" stroke-width="0.5" />
<line x1="302.6" y1="173.7" x2="540.3" y2="173.7" stroke="#e4e4e4" stroke-width="0.5" />
<line x1="302.6" y1="191.05" x2="540.3" y2="191.05" stroke="#e4e4e4" stroke-width="0.5" />
<line x1="302.6" y1="208.4" x2="540.3" y2="208.4" stroke="#e4e4e4" stroke-width="0.5" />
<line x1="302.6" y1="225.75" x2="540.3" y2="225.75" stroke="#e4e4e4" stroke-width="0.5" />
<line x1="302.6" y1="243.1" x2="540.3" y2="243.1" stroke="#e4e4e4" stroke-width="0.5" />
<rect x="302.6" y="139" width="237.7" height="104.9" fill="none" stroke="#7a7a7a" stroke-width="0.8" />
<line x1="314.6" y1="243.9" x2="314.6" y2="241.9" stroke="#7a7a7a" stroke-width="0.8" />
<line x1="314.6" y1="139" x2="314.6" y2="141" stroke="#7a7a7a" stroke-width="0.8" />
<line x1="327.15" y1="243.9" x2="327.15" y2="241.9" stroke="#7a7a7a" stroke-width="0.8" />
<line x1="327.15" y1="139" x2="327.15" y2="141" stroke="#7a7a7a" stroke-width="0.8" />
<line x1="339.7" y1="243.9" x2="339.7" y2="241.9" stroke="#7a7a7a" stroke-width="0.8" />
<line x1="339.7" y1="139" x2="339.7" y2="141" stroke="#7a7a7a" stroke-width="0.8" />
<line x1="352.25" y1="243.9" x2="352.25" y2="241.9" stroke="#7a7a7a" stroke-width="0.8" />
<line x1="352.25" y1="139" x2="352.25" y2="141" stroke="#7a7a7a" stroke-width="0.8" />
<line x1="364.8" y1="243.9" x2="364.8" y2="241.9" stroke="#7a7a7a" stroke-width="0.8" />
<line x1="364.8" y1="139" x2="364.8" y2="141" stroke="#7a7a7a" stroke-width="0.8" />
<line x1="377.35" y1="243.9" x2="377.35" y2="241.9" stroke="#7a7a7a" stroke-width="0.8" />
<line x1="377.35" y1="139" x2="377.35" y2="141" stroke="#7a7a7a" stroke-width="0.8" />
<line x1="389.9" y1="243.9" x2="389.9" y2="241.9" stroke="#7a7a7a" stroke-width="0.8" />
<line x1="389.9" y1="139" x2="389.9" y2="141" stroke="#7a7a7a" stroke-width="0.8" />
<line x1="402.45" y1="243.9" x2="402.45" y2="241.9" stroke="#7a7a7a" stroke-width="0.8" />
<line x1="402.45" y1="139" x2="402.45" y2="141" stroke="#7a7a7a" stroke-width="0.8" />
<line x1="415" y1="243.9" x2="415" y2="241.9" stroke="#7a7a7a" stroke-width="0.8" />
<line x1="415" y1="139" x2="415" y2="141" stroke="#7a7a7a" stroke-width="0.8" />
<line x1="427.55" y1="243.9" x2="427.55" y2="241.9" stroke="#7a7a7a" stroke-width="0.8" />
<line x1="427.55" y1="139" x2="427.55" y2="141" stroke="#7a7a7a" stroke-width="0.8" />
<line x1="440.1" y1="243.9" x2="440.1" y2="241.9" stroke="#7a7a7a" stroke-width="0.8" />
<line x1="440.1" y1="139" x2="440.1" y2="141" stroke="#7a7a7a" stroke-width="0.8" />
<line x1="452.65" y1="243.9" x2="452.65" y2="241.9" stroke="#7a7a7a" stroke-width="0.8" />
<line x1="452.65" y1="139" x2="452.65" y2="141" stroke="#7a7a7a" stroke-width="0.8" />
<line x1="465.2" y1="243.9" x2="465.2" y2="241.9" stroke="#7a7a7a" stroke-width="0.8" />
<line x1="465.2" y1="139" x2="465.2" y2="141" stroke="#7a7a7a" stroke-width="0.8" />
<line x1="477.75" y1="243.9" x2="477.75" y2="241.9" stroke="#7a7a7a" stroke-width="0.8" />
<line x1="477.75" y1="139" x2="477.75" y2="141" stroke="#7a7a7a" stroke-width="0.8" />
<line x1="490.3" y1="243.9" x2="490.3" y2="241.9" stroke="#7a7a7a" stroke-width="0.8" />
<line x1="490.3" y1="139" x2="490.3" y2="141" stroke="#7a7a7a" stroke-width="0.8" />
<line x1="502.85" y1="243.9" x2="502.85" y2="241.9" stroke="#7a7a7a" stroke-width="0.8" />
<line x1="502.85" y1="139" x2="502.85" y2="141" stroke="#7a7a7a" stroke-width="0.8" />
<line x1="515.4" y1="243.9" x2="515.4" y2="241.9" stroke="#7a7a7a" stroke-width="0.8" />
<line x1="515.4" y1="139" x2="515.4" y2="141" stroke="#7a7a7a" stroke-width="0.8" />
<line x1="527.95" y1="243.9" x2="527.95" y2="241.9" stroke="#7a7a7a" stroke-width="0.8" />
<line x1="527.95" y1="139" x2="527.95" y2="141" stroke="#7a7a7a" stroke-width="0.8" />
<line x1="302.6" y1="139" x2="306.1" y2="139" stroke="#7a7a7a" stroke-width="0.8" />
<line x1="540.3" y1="139" x2="536.8" y2="139" stroke="#7a7a7a" stroke-width="0.8" />
<line x1="302.6" y1="156.35" x2="304.6" y2="156.35" stroke="#7a7a7a" stroke-width="0.8" />
<line x1="540.3" y1="156.35" x2="538.3" y2="156.35" stroke="#7a7a7a" stroke-width="0.8" />
<line x1="302.6" y1="173.7" x2="306.1" y2="173.7" stroke="#7a7a7a" stroke-width="0.8" />
<line x1="540.3" y1="173.7" x2="536.8" y2="173.7" stroke="#7a7a7a" stroke-width="0.8" />
<line x1="302.6" y1="191.05" x2="304.6" y2="191.05" stroke="#7a7a7a" stroke-width="0.8" />
<line x1="540.3" y1="191.05" x2="538.3" y2="191.05" stroke="#7a7a7a" stroke-width="0.8" />
<line x1="302.6" y1="208.4" x2="306.1" y2="208.4" stroke="#7a7a7a" stroke-width="0.8" />
<line x1="540.3" y1="208.4" x2="536.8" y2="208.4" stroke="#7a7a7a" stroke-width="0.8" />
<line x1="302.6" y1="225.75" x2="304.6" y2="225.75" stroke="#7a7a7a" stroke-width="0.8" />
<line x1="540.3" y1="225.75" x2="538.3" y2="225.75" stroke="#7a7a7a" stroke-width="0.8" />
<line x1="302.6" y1="243.1" x2="306.1" y2="243.1" stroke="#7a7a7a" stroke-width="0.8" />
<line x1="540.3" y1="243.1" x2="536.8" y2="243.1" stroke="#7a7a7a" stroke-width="0.8" />
<text x="297.5" y="141.2" font-size="6.3" text-anchor="end" font-weight="normal" font-style="normal" fill="#111" stroke="#111" stroke-width="0.16" >105</text>
<text x="297.5" y="175.9" font-size="6.3" text-anchor="end" font-weight="normal" font-style="normal" fill="#111" stroke="#111" stroke-width="0.16" >100</text>
<text x="297.5" y="210.6" font-size="6.3" text-anchor="end" font-weight="normal" font-style="normal" fill="#111" stroke="#111" stroke-width="0.16" >95</text>
<text x="297.5" y="245.5" font-size="6.3" text-anchor="end" font-weight="normal" font-style="normal" fill="#111" stroke="#111" stroke-width="0.16" >90</text>
<text x="279.5" y="151.5" font-size="6.6" text-anchor="start" font-weight="normal" font-style="normal" fill="#111" stroke="#111" stroke-width="0.16" >(f)</text>
<text transform="translate(279.2,188) rotate(-90)" font-size="7.4" text-anchor="middle" fill="#111" stroke="#111" stroke-width="0.12">Volume (Å<tspan font-size="4" dy="-2">3</tspan><tspan dy="2">)</tspan></text>
<text x="302.3" y="254.4" font-size="6.3" text-anchor="middle" font-weight="normal" font-style="normal" fill="#111" stroke="#111" stroke-width="0.16" >1</text>
<text x="327.3" y="254.4" font-size="6.3" text-anchor="middle" font-weight="normal" font-style="normal" fill="#111" stroke="#111" stroke-width="0.16" >0.8</text>
<text x="351.8" y="254.4" font-size="6.3" text-anchor="middle" font-weight="normal" font-style="normal" fill="#111" stroke="#111" stroke-width="0.16" >0.6</text>
<text x="377" y="254.4" font-size="6.3" text-anchor="middle" font-weight="normal" font-style="normal" fill="#111" stroke="#111" stroke-width="0.16" >0.4</text>
<text x="402.2" y="254.4" font-size="6.3" text-anchor="middle" font-weight="normal" font-style="normal" fill="#111" stroke="#111" stroke-width="0.16" >0.2</text>
<text x="440.8" y="254.4" font-size="6.3" text-anchor="middle" font-weight="normal" font-style="normal" fill="#111" stroke="#111" stroke-width="0.16" >0.2</text>
<text x="465.6" y="254.4" font-size="6.3" text-anchor="middle" font-weight="normal" font-style="normal" fill="#111" stroke="#111" stroke-width="0.16" >0.4</text>
<text x="490.3" y="254.4" font-size="6.3" text-anchor="middle" font-weight="normal" font-style="normal" fill="#111" stroke="#111" stroke-width="0.16" >0.6</text>
<text x="515.6" y="254.4" font-size="6.3" text-anchor="middle" font-weight="normal" font-style="normal" fill="#111" stroke="#111" stroke-width="0.16" >0.8</text>
<text x="540.2" y="254.4" font-size="6.3" text-anchor="middle" font-weight="normal" font-style="normal" fill="#111" stroke="#111" stroke-width="0.16" >1</text>
<text x="348.2" y="268" font-size="6.3" fill="#111" stroke="#111" stroke-width="0.12">x in Li<tspan font-size="3.8" dy="1.3">x</tspan><tspan dy="-1.3">NiO</tspan><tspan font-size="3.8" dy="1.3">2</tspan></text>
<text x="460.8" y="268" font-size="6.3" fill="#111" stroke="#111" stroke-width="0.12">x in Li<tspan font-size="3.8" dy="1.3">x</tspan><tspan dy="-1.3">NiO</tspan><tspan font-size="3.8" dy="1.3">2</tspan></text>
<path d="M306.75,154.45h3.7v3.7h-3.7zM308.51,154.53h3.7v3.7h-3.7zM310.27,154.6h3.7v3.7h-3.7zM312.04,154.68h3.7v3.7h-3.7zM313.8,154.75h3.7v3.7h-3.7zM315.56,154.83h3.7v3.7h-3.7zM317.32,154.9h3.7v3.7h-3.7zM319.08,154.98h3.7v3.7h-3.7zM320.85,155.05h3.7v3.7h-3.7zM322.61,155.13h3.7v3.7h-3.7zM324.37,155.28h3.7v3.7h-3.7zM326.12,155.46h3.7v3.7h-3.7zM327.87,155.65h3.7v3.7h-3.7zM329.63,155.84h3.7v3.7h-3.7zM331.38,156.02h3.7v3.7h-3.7zM333.13,156.21h3.7v3.7h-3.7zM334.89,156.39h3.7v3.7h-3.7zM336.64,156.58h3.7v3.7h-3.7zM338.4,156.76h3.7v3.7h-3.7zM340.15,156.95h3.7v3.7h-3.7z" fill="#eef5fc" stroke="#1f78d1" stroke-width="0.7"/>
<path d="M322.15,160.5a1.85,1.85 0 1,0 3.7,0a1.85,1.85 0 1,0 -3.7,0zM324.13,160.98a1.85,1.85 0 1,0 3.7,0a1.85,1.85 0 1,0 -3.7,0zM326.1,161.46a1.85,1.85 0 1,0 3.7,0a1.85,1.85 0 1,0 -3.7,0zM328.08,161.94a1.85,1.85 0 1,0 3.7,0a1.85,1.85 0 1,0 -3.7,0zM330.05,162.42a1.85,1.85 0 1,0 3.7,0a1.85,1.85 0 1,0 -3.7,0zM332.03,162.9a1.85,1.85 0 1,0 3.7,0a1.85,1.85 0 1,0 -3.7,0zM334,163.39a1.85,1.85 0 1,0 3.7,0a1.85,1.85 0 1,0 -3.7,0zM335.98,163.87a1.85,1.85 0 1,0 3.7,0a1.85,1.85 0 1,0 -3.7,0zM337.95,164.35a1.85,1.85 0 1,0 3.7,0a1.85,1.85 0 1,0 -3.7,0zM339.93,164.83a1.85,1.85 0 1,0 3.7,0a1.85,1.85 0 1,0 -3.7,0zM341.9,165.31a1.85,1.85 0 1,0 3.7,0a1.85,1.85 0 1,0 -3.7,0zM343.88,165.79a1.85,1.85 0 1,0 3.7,0a1.85,1.85 0 1,0 -3.7,0zM345.85,166.27a1.85,1.85 0 1,0 3.7,0a1.85,1.85 0 1,0 -3.7,0zM347.83,166.75a1.85,1.85 0 1,0 3.7,0a1.85,1.85 0 1,0 -3.7,0zM349.8,167.23a1.85,1.85 0 1,0 3.7,0a1.85,1.85 0 1,0 -3.7,0zM351.78,167.71a1.85,1.85 0 1,0 3.7,0a1.85,1.85 0 1,0 -3.7,0zM353.75,168.19a1.85,1.85 0 1,0 3.7,0a1.85,1.85 0 1,0 -3.7,0zM355.73,168.68a1.85,1.85 0 1,0 3.7,0a1.85,1.85 0 1,0 -3.7,0zM357.7,169.16a1.85,1.85 0 1,0 3.7,0a1.85,1.85 0 1,0 -3.7,0zM359.68,169.64a1.85,1.85 0 1,0 3.7,0a1.85,1.85 0 1,0 -3.7,0zM361.65,170.12a1.85,1.85 0 1,0 3.7,0a1.85,1.85 0 1,0 -3.7,0zM363.63,170.6a1.85,1.85 0 1,0 3.7,0a1.85,1.85 0 1,0 -3.7,0zM365.6,171.08a1.85,1.85 0 1,0 3.7,0a1.85,1.85 0 1,0 -3.7,0zM367.58,171.56a1.85,1.85 0 1,0 3.7,0a1.85,1.85 0 1,0 -3.7,0zM369.57,171.96a1.85,1.85 0 1,0 3.7,0a1.85,1.85 0 1,0 -3.7,0zM371.57,172.34a1.85,1.85 0 1,0 3.7,0a1.85,1.85 0 1,0 -3.7,0zM373.57,172.71a1.85,1.85 0 1,0 3.7,0a1.85,1.85 0 1,0 -3.7,0zM375.57,173.08a1.85,1.85 0 1,0 3.7,0a1.85,1.85 0 1,0 -3.7,0zM377.56,173.45a1.85,1.85 0 1,0 3.7,0a1.85,1.85 0 1,0 -3.7,0zM379.56,173.82a1.85,1.85 0 1,0 3.7,0a1.85,1.85 0 1,0 -3.7,0zM381.56,174.2a1.85,1.85 0 1,0 3.7,0a1.85,1.85 0 1,0 -3.7,0zM383.56,174.57a1.85,1.85 0 1,0 3.7,0a1.85,1.85 0 1,0 -3.7,0zM385.56,174.94a1.85,1.85 0 1,0 3.7,0a1.85,1.85 0 1,0 -3.7,0zM387.56,175.31a1.85,1.85 0 1,0 3.7,0a1.85,1.85 0 1,0 -3.7,0zM389.55,175.68a1.85,1.85 0 1,0 3.7,0a1.85,1.85 0 1,0 -3.7,0zM391.55,176.06a1.85,1.85 0 1,0 3.7,0a1.85,1.85 0 1,0 -3.7,0zM393.55,176.43a1.85,1.85 0 1,0 3.7,0a1.85,1.85 0 1,0 -3.7,0zM395.55,176.8a1.85,1.85 0 1,0 3.7,0a1.85,1.85 0 1,0 -3.7,0z" fill="#fdf0e3" stroke="#f39440" stroke-width="0.7"/>
<path d="M385.4,176.15L387.35,179.86L383.45,179.86zM387.54,177.42L389.49,181.12L385.59,181.12zM389.69,177.08L391.64,180.79L387.74,180.79zM391.83,178.35L393.78,182.05L389.88,182.05zM393.97,178.01L395.92,181.72L392.02,181.72zM396.11,179.28L398.06,182.98L394.16,182.98zM398.26,178.94L400.21,182.65L396.31,182.65zM400.4,180.2L402.35,183.91L398.45,183.91zM402.54,179.87L404.49,183.57L400.59,183.57zM404.69,181.13L406.64,184.84L402.74,184.84zM406.83,180.8L408.78,184.5L404.88,184.5zM408.97,182.06L410.92,185.77L407.02,185.77zM411.11,181.73L413.06,185.43L409.16,185.43zM413.26,182.99L415.21,186.7L411.31,186.7zM415.4,182.65L417.35,186.36L413.45,186.36z" fill="#f3e8fb" stroke="#9a2fd6" stroke-width="0.7"/>
<path d="M402.2,210.94L404.15,207.24L400.25,207.24zM404.14,212.72L406.09,209.01L402.19,209.01zM406.09,212.89L408.04,209.18L404.14,209.18zM408.03,214.66L409.98,210.95L406.08,210.95zM409.97,214.83L411.92,211.13L408.02,211.13zM411.91,216.6L413.86,212.9L409.96,212.9zM413.86,216.77L415.81,213.07L411.91,213.07zM415.8,218.55L417.75,214.84L413.85,214.84zM417.74,218.72L419.69,215.01L415.79,215.01zM419.69,220.49L421.64,216.78L417.74,216.78zM421.58,220.36L423.53,216.65L419.63,216.65zM423.07,219.58L425.02,215.87L421.12,215.87zM424.56,217.2L426.51,213.49L422.61,213.49zM426.05,216.42L428,212.72L424.1,212.72zM427.54,214.04L429.49,210.34L425.59,210.34zM429.03,213.26L430.98,209.56L427.08,209.56zM430.53,210.88L432.48,207.18L428.58,207.18zM432.02,210.1L433.97,206.4L430.07,206.4zM433.51,207.72L435.46,204.02L431.56,204.02zM435,206.95L436.95,203.24L433.05,203.24z" fill="#e8f6ea" stroke="#1f9a35" stroke-width="0.7"/>
<path d="M425,181.45L426.95,185.16L423.05,185.16zM427.05,181.39L429,185.1L425.1,185.1zM429.09,179.73L431.04,183.44L427.14,183.44zM431.14,179.67L433.09,183.38L429.19,183.38zM433.18,178.01L435.13,181.71L431.23,181.71zM435.23,177.95L437.18,181.65L433.28,181.65zM437.28,176.29L439.23,179.99L435.33,179.99zM439.32,176.22L441.27,179.93L437.37,179.93zM441.37,174.56L443.32,178.27L439.42,178.27zM443.42,174.5L445.37,178.21L441.47,178.21zM445.46,172.84L447.41,176.54L443.51,176.54zM447.51,172.78L449.46,176.48L445.56,176.48zM449.55,171.12L451.5,174.82L447.6,174.82zM451.6,171.06L453.55,174.76L449.65,174.76z" fill="#f3e8fb" stroke="#9a2fd6" stroke-width="0.7"/>
<path d="M444.15,174a1.85,1.85 0 1,0 3.7,0a1.85,1.85 0 1,0 -3.7,0zM446.07,174.36a1.85,1.85 0 1,0 3.7,0a1.85,1.85 0 1,0 -3.7,0zM447.99,172.72a1.85,1.85 0 1,0 3.7,0a1.85,1.85 0 1,0 -3.7,0zM449.92,173.08a1.85,1.85 0 1,0 3.7,0a1.85,1.85 0 1,0 -3.7,0zM451.84,171.44a1.85,1.85 0 1,0 3.7,0a1.85,1.85 0 1,0 -3.7,0zM453.76,171.8a1.85,1.85 0 1,0 3.7,0a1.85,1.85 0 1,0 -3.7,0zM455.68,170.16a1.85,1.85 0 1,0 3.7,0a1.85,1.85 0 1,0 -3.7,0zM457.61,170.51a1.85,1.85 0 1,0 3.7,0a1.85,1.85 0 1,0 -3.7,0zM459.53,168.87a1.85,1.85 0 1,0 3.7,0a1.85,1.85 0 1,0 -3.7,0zM461.45,169.23a1.85,1.85 0 1,0 3.7,0a1.85,1.85 0 1,0 -3.7,0zM463.37,167.59a1.85,1.85 0 1,0 3.7,0a1.85,1.85 0 1,0 -3.7,0zM465.29,167.95a1.85,1.85 0 1,0 3.7,0a1.85,1.85 0 1,0 -3.7,0zM467.22,166.31a1.85,1.85 0 1,0 3.7,0a1.85,1.85 0 1,0 -3.7,0zM469.16,166.74a1.85,1.85 0 1,0 3.7,0a1.85,1.85 0 1,0 -3.7,0zM471.12,165.23a1.85,1.85 0 1,0 3.7,0a1.85,1.85 0 1,0 -3.7,0zM473.08,165.72a1.85,1.85 0 1,0 3.7,0a1.85,1.85 0 1,0 -3.7,0zM475.04,164.21a1.85,1.85 0 1,0 3.7,0a1.85,1.85 0 1,0 -3.7,0zM477,164.7a1.85,1.85 0 1,0 3.7,0a1.85,1.85 0 1,0 -3.7,0zM478.96,163.18a1.85,1.85 0 1,0 3.7,0a1.85,1.85 0 1,0 -3.7,0zM480.92,163.67a1.85,1.85 0 1,0 3.7,0a1.85,1.85 0 1,0 -3.7,0zM482.88,162.16a1.85,1.85 0 1,0 3.7,0a1.85,1.85 0 1,0 -3.7,0zM484.85,162.65a1.85,1.85 0 1,0 3.7,0a1.85,1.85 0 1,0 -3.7,0zM486.81,161.14a1.85,1.85 0 1,0 3.7,0a1.85,1.85 0 1,0 -3.7,0zM488.77,161.63a1.85,1.85 0 1,0 3.7,0a1.85,1.85 0 1,0 -3.7,0zM490.73,160.12a1.85,1.85 0 1,0 3.7,0a1.85,1.85 0 1,0 -3.7,0zM492.69,160.61a1.85,1.85 0 1,0 3.7,0a1.85,1.85 0 1,0 -3.7,0zM494.65,159.1a1.85,1.85 0 1,0 3.7,0a1.85,1.85 0 1,0 -3.7,0z" fill="#fdf0e3" stroke="#f39440" stroke-width="0.7"/>
<path d="M479.15,155.35h3.7v3.7h-3.7zM480.87,156.54h3.7v3.7h-3.7zM482.58,155.33h3.7v3.7h-3.7zM484.3,156.52h3.7v3.7h-3.7zM486.01,155.31h3.7v3.7h-3.7zM487.73,156.5h3.7v3.7h-3.7zM489.44,155.29h3.7v3.7h-3.7zM491.16,156.48h3.7v3.7h-3.7zM492.88,155.27h3.7v3.7h-3.7zM494.59,156.46h3.7v3.7h-3.7zM496.31,155.24h3.7v3.7h-3.7zM498.02,156.43h3.7v3.7h-3.7zM499.74,155.22h3.7v3.7h-3.7zM501.46,156.41h3.7v3.7h-3.7zM503.17,155.2h3.7v3.7h-3.7zM504.89,156.39h3.7v3.7h-3.7zM506.6,155.18h3.7v3.7h-3.7zM508.32,156.37h3.7v3.7h-3.7zM510.03,155.16h3.7v3.7h-3.7zM511.75,156.35h3.7v3.7h-3.7z" fill="#eef5fc" stroke="#1f78d1" stroke-width="0.7"/>
<text x="315.2" y="198" font-size="8.6" text-anchor="middle" font-weight="bold" font-style="normal" fill="#1f78d1" stroke="#1f78d1" stroke-width="0.16" >H1</text>
<text x="365.1" y="198" font-size="8.6" text-anchor="middle" font-weight="bold" font-style="normal" fill="#f5821f" stroke="#f5821f" stroke-width="0.16" >M</text>
<text x="396.2" y="198" font-size="8.6" text-anchor="middle" font-weight="bold" font-style="normal" fill="#9a2fd6" stroke="#9a2fd6" stroke-width="0.16" >H2</text>
<text x="420.9" y="198" font-size="8.6" text-anchor="middle" font-weight="bold" font-style="normal" fill="#2a9d6a" stroke="#2a9d6a" stroke-width="0.16" >H3</text>
<text x="446.8" y="198" font-size="8.6" text-anchor="middle" font-weight="bold" font-style="normal" fill="#9a2fd6" stroke="#9a2fd6" stroke-width="0.16" >H2</text>
<text x="466.3" y="198" font-size="8.6" text-anchor="middle" font-weight="bold" font-style="normal" fill="#f5821f" stroke="#f5821f" stroke-width="0.16" >M</text>
<text x="503.5" y="198" font-size="8.6" text-anchor="middle" font-weight="bold" font-style="normal" fill="#1f78d1" stroke="#1f78d1" stroke-width="0.16" >H1</text></svg>
</body></html>
